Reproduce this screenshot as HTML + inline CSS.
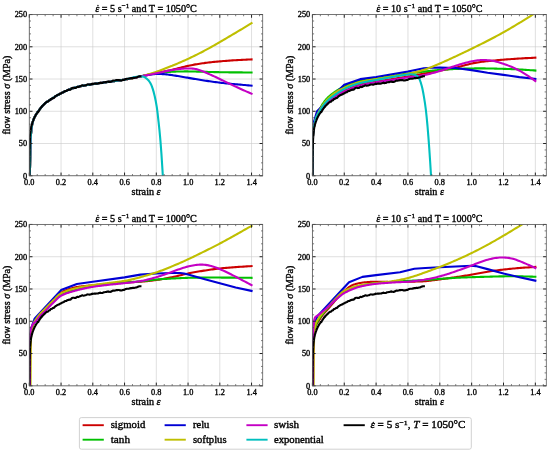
<!DOCTYPE html>
<html><head><meta charset="utf-8"><title>Activation function extrapolation</title>
<style>html,body{margin:0;padding:0;background:#fff}svg{display:block}</style></head>
<body>
<svg width="550" height="453" viewBox="0 0 550 453">
<defs>
<clipPath id="cp1"><rect x="29.3" y="14.55" width="233.4" height="161.2"/></clipPath>
<clipPath id="cp2"><rect x="312.4" y="14.55" width="233.9" height="161.2"/></clipPath>
<clipPath id="cp3"><rect x="29.3" y="224.45" width="233.4" height="161.4"/></clipPath>
<clipPath id="cp4"><rect x="312.4" y="224.45" width="233.9" height="161.4"/></clipPath>
</defs>
<rect width="550" height="453" fill="#fff"/>
<g stroke="#cacaca" stroke-width="0.6" fill="none"><line x1="29.30" y1="14.55" x2="29.30" y2="175.75"/><line x1="61.05" y1="14.55" x2="61.05" y2="175.75"/><line x1="92.80" y1="14.55" x2="92.80" y2="175.75"/><line x1="124.55" y1="14.55" x2="124.55" y2="175.75"/><line x1="156.30" y1="14.55" x2="156.30" y2="175.75"/><line x1="188.05" y1="14.55" x2="188.05" y2="175.75"/><line x1="219.80" y1="14.55" x2="219.80" y2="175.75"/><line x1="251.55" y1="14.55" x2="251.55" y2="175.75"/><line x1="29.3" y1="175.75" x2="262.75" y2="175.75"/><line x1="29.3" y1="143.51" x2="262.75" y2="143.51"/><line x1="29.3" y1="111.27" x2="262.75" y2="111.27"/><line x1="29.3" y1="79.03" x2="262.75" y2="79.03"/><line x1="29.3" y1="46.79" x2="262.75" y2="46.79"/><line x1="29.3" y1="14.55" x2="262.75" y2="14.55"/></g>
<g clip-path="url(#cp1)" fill="none" stroke-width="2.1" stroke-linejoin="round" stroke-linecap="square"><path d="M29.3,175.75 L29.3,175.75 L29.3,175.75 L29.31,175.75 L29.32,175.74 L29.33,175.73 L29.34,175.72 L29.36,175.68 L29.38,175.63 L29.4,175.55 L29.43,175.44 L29.46,175.28 L29.49,175.07 L29.52,174.8 L29.56,174.45 L29.61,174.02 L29.65,173.49 L29.7,172.86 L29.76,172.11 L29.82,171.25 L29.88,170.26 L29.94,169.3 L29.94,169.12 L30.01,167.19 L30.09,164.24 L30.16,160.59 L30.25,156.71 L30.25,156.41 L30.33,152.25 L30.42,146.91 L30.51,142.11 L30.57,140.29 L30.61,139.4 L30.71,137.54 L30.82,136 L30.93,134.69 L31.04,133.52 L31.16,132.36 L31.21,131.9 L31.28,131.1 L31.41,129.85 L31.54,128.65 L31.68,127.54 L31.82,126.57 L31.84,126.42 L31.96,125.72 L32.11,124.92 L32.26,124.14 L32.42,123.41 L32.58,122.71 L32.75,122.05 L32.92,121.43 L33.09,120.84 L33.27,120.3 L33.27,120.29 L33.46,119.76 L33.65,119.26 L33.84,118.77 L34.04,118.31 L34.24,117.87 L34.45,117.44 L34.66,117.02 L34.88,116.61 L35.1,116.2 L35.32,115.8 L35.33,115.78 L35.56,115.39 L35.79,114.98 L36.03,114.58 L36.28,114.18 L36.53,113.77 L36.78,113.38 L37.04,112.98 L37.31,112.58 L37.57,112.19 L37.85,111.8 L38.13,111.41 L38.41,111.02 L38.7,110.63 L38.99,110.24 L39.29,109.85 L39.6,109.46 L39.9,109.07 L40.22,108.68 L40.54,108.28 L40.73,108.05 L40.86,107.89 L41.19,107.48 L41.52,107.08 L41.86,106.67 L42.2,106.26 L42.55,105.86 L42.91,105.46 L43.27,105.06 L43.63,104.67 L44,104.3 L44.37,103.93 L44.75,103.58 L45.14,103.24 L45.17,103.21 L45.53,102.92 L45.92,102.62 L46.32,102.32 L46.73,102.04 L47.14,101.76 L47.55,101.49 L47.98,101.22 L48.4,100.95 L48.83,100.68 L49.27,100.41 L49.71,100.13 L49.94,99.99 L50.16,99.84 L50.61,99.55 L51.07,99.25 L51.53,98.94 L52,98.64 L52.47,98.33 L52.95,98.02 L53.44,97.7 L53.93,97.39 L54.42,97.07 L54.92,96.75 L55.43,96.44 L55.94,96.12 L56.46,95.8 L56.98,95.49 L57.51,95.18 L58.04,94.88 L58.58,94.57 L59.12,94.28 L59.3,94.18 L59.67,93.99 L60.23,93.7 L60.79,93.41 L61.35,93.12 L61.93,92.83 L62.5,92.54 L63.09,92.25 L63.67,91.97 L64.27,91.69 L64.87,91.41 L65.47,91.13 L66.08,90.86 L66.7,90.59 L67.32,90.33 L67.95,90.07 L68.58,89.81 L69.22,89.56 L69.78,89.35 L69.86,89.32 L70.51,89.08 L71.16,88.84 L71.83,88.6 L72.49,88.37 L73.16,88.14 L73.84,87.91 L74.52,87.69 L75.21,87.48 L75.91,87.28 L76.61,87.09 L77.31,86.9 L77.88,86.77 L78.03,86.73 L78.74,86.57 L79.47,86.41 L80.2,86.26 L80.93,86.1 L81.67,85.96 L82.42,85.82 L83.17,85.68 L83.93,85.54 L84.69,85.41 L85.46,85.28 L86.24,85.15 L87.02,85.02 L87.8,84.9 L88.6,84.77 L89.39,84.65 L90.2,84.52 L91.01,84.4 L91.82,84.27 L92.32,84.19 L92.65,84.14 L93.47,84.01 L94.31,83.88 L95.15,83.76 L95.99,83.63 L96.84,83.51 L97.7,83.38 L98.56,83.26 L99.43,83.14 L100.31,83.02 L101.19,82.9 L102.07,82.78 L102.96,82.66 L103.86,82.53 L104.77,82.41 L105.68,82.28 L106.59,82.16 L107.52,82.03 L108.2,81.93 L108.44,81.9 L109.38,81.77 L110.32,81.64 L111.26,81.51 L112.22,81.39 L113.17,81.26 L114.14,81.13 L115.11,81 L116.08,80.87 L117.07,80.74 L118.05,80.6 L119.05,80.47 L120.05,80.32 L121.06,80.17 L122.07,80.02 L123.09,79.86 L124.11,79.69 L124.23,79.67 L125.14,79.52 L126.18,79.34 L127.22,79.16 L128.27,78.96 L129.32,78.76 L130.39,78.56 L131.45,78.35 L132.53,78.14 L133.6,77.91 L134.69,77.69 L135.78,77.46 L136.88,77.22 L137.98,76.99 L139.09,76.74 L140.21,76.5 L140.43,76.45 L141.33,76.25 L142.46,76 L143.6,75.74 L144.74,75.49 L145.88,75.23 L147.04,74.97 L148.2,74.71 L149.36,74.45 L150.53,74.2 L151.71,73.94 L152.9,73.68 L154.09,73.43 L155.28,73.18 L156.3,72.97 L156.49,72.93 L157.7,72.69 L158.91,72.45 L160.13,72.21 L161.36,71.97 L162.59,71.73 L163.83,71.48 L165.08,71.24 L166.33,70.99 L167.59,70.73 L168.86,70.47 L170.13,70.2 L171.41,69.92 L172.18,69.74 L172.69,69.63 L173.98,69.32 L175.28,69.01 L176.59,68.69 L177.89,68.36 L179.21,68.03 L180.53,67.69 L181.86,67.36 L183.2,67.03 L184.54,66.7 L185.89,66.37 L187.24,66.06 L188.05,65.88 L188.6,65.75 L189.97,65.46 L191.34,65.18 L192.72,64.91 L194.11,64.65 L195.5,64.4 L196.9,64.16 L198.3,63.93 L199.71,63.71 L201.13,63.5 L202.56,63.29 L203.93,63.1 L203.99,63.09 L205.42,62.9 L206.87,62.72 L208.32,62.54 L209.77,62.37 L211.24,62.21 L212.71,62.05 L214.18,61.9 L215.67,61.75 L217.15,61.6 L218.65,61.47 L219.8,61.36 L220.15,61.33 L221.66,61.2 L223.17,61.07 L224.69,60.95 L226.22,60.83 L227.76,60.72 L229.3,60.61 L230.84,60.5 L232.4,60.4 L233.96,60.3 L235.52,60.21 L235.68,60.2 L237.1,60.12 L238.68,60.03 L240.26,59.95 L241.86,59.87 L243.46,59.79 L245.06,59.72 L246.67,59.64 L248.29,59.57 L249.92,59.5 L251.55,59.43" stroke="#cc0000"/><path d="M29.3,175.75 L29.3,175.75 L29.3,175.75 L29.31,175.75 L29.32,175.74 L29.33,175.73 L29.34,175.72 L29.36,175.68 L29.38,175.63 L29.4,175.55 L29.43,175.44 L29.46,175.28 L29.49,175.07 L29.52,174.8 L29.56,174.45 L29.61,174.02 L29.65,173.49 L29.7,172.86 L29.76,172.11 L29.82,171.25 L29.88,170.26 L29.94,169.3 L29.94,169.12 L30.01,167.19 L30.09,164.24 L30.16,160.59 L30.25,156.71 L30.25,156.41 L30.33,152.25 L30.42,146.91 L30.51,142.11 L30.57,140.29 L30.61,139.4 L30.71,137.54 L30.82,136 L30.93,134.69 L31.04,133.52 L31.16,132.36 L31.21,131.9 L31.28,131.1 L31.41,129.85 L31.54,128.65 L31.68,127.54 L31.82,126.57 L31.84,126.42 L31.96,125.72 L32.11,124.92 L32.26,124.14 L32.42,123.41 L32.58,122.71 L32.75,122.05 L32.92,121.43 L33.09,120.84 L33.27,120.3 L33.27,120.29 L33.46,119.76 L33.65,119.26 L33.84,118.77 L34.04,118.31 L34.24,117.87 L34.45,117.44 L34.66,117.02 L34.88,116.61 L35.1,116.2 L35.32,115.8 L35.33,115.78 L35.56,115.39 L35.79,114.98 L36.03,114.58 L36.28,114.18 L36.53,113.77 L36.78,113.38 L37.04,112.98 L37.31,112.58 L37.57,112.19 L37.85,111.8 L38.13,111.41 L38.41,111.02 L38.7,110.63 L38.99,110.24 L39.29,109.85 L39.6,109.46 L39.9,109.07 L40.22,108.68 L40.54,108.28 L40.73,108.05 L40.86,107.89 L41.19,107.48 L41.52,107.08 L41.86,106.67 L42.2,106.26 L42.55,105.86 L42.91,105.46 L43.27,105.06 L43.63,104.67 L44,104.3 L44.37,103.93 L44.75,103.58 L45.14,103.24 L45.17,103.21 L45.53,102.92 L45.92,102.62 L46.32,102.32 L46.73,102.04 L47.14,101.76 L47.55,101.49 L47.98,101.22 L48.4,100.95 L48.83,100.68 L49.27,100.41 L49.71,100.13 L49.94,99.99 L50.16,99.84 L50.61,99.55 L51.07,99.25 L51.53,98.94 L52,98.64 L52.47,98.33 L52.95,98.02 L53.44,97.7 L53.93,97.39 L54.42,97.07 L54.92,96.75 L55.43,96.44 L55.94,96.12 L56.46,95.8 L56.98,95.49 L57.51,95.18 L58.04,94.88 L58.58,94.57 L59.12,94.28 L59.3,94.18 L59.67,93.99 L60.23,93.7 L60.79,93.41 L61.35,93.12 L61.93,92.83 L62.5,92.54 L63.09,92.25 L63.67,91.97 L64.27,91.69 L64.87,91.41 L65.47,91.13 L66.08,90.86 L66.7,90.59 L67.32,90.33 L67.95,90.07 L68.58,89.81 L69.22,89.56 L69.78,89.35 L69.86,89.32 L70.51,89.08 L71.16,88.84 L71.83,88.6 L72.49,88.37 L73.16,88.14 L73.84,87.91 L74.52,87.69 L75.21,87.48 L75.91,87.28 L76.61,87.09 L77.31,86.9 L77.88,86.77 L78.03,86.73 L78.74,86.57 L79.47,86.41 L80.2,86.26 L80.93,86.1 L81.67,85.96 L82.42,85.82 L83.17,85.68 L83.93,85.54 L84.69,85.41 L85.46,85.28 L86.24,85.15 L87.02,85.02 L87.8,84.9 L88.6,84.77 L89.39,84.65 L90.2,84.52 L91.01,84.4 L91.82,84.27 L92.32,84.19 L92.65,84.14 L93.47,84.01 L94.31,83.88 L95.15,83.76 L95.99,83.63 L96.84,83.51 L97.7,83.38 L98.56,83.26 L99.43,83.14 L100.31,83.02 L101.19,82.9 L102.07,82.78 L102.96,82.66 L103.86,82.53 L104.77,82.41 L105.68,82.28 L106.59,82.16 L107.52,82.03 L108.2,81.93 L108.44,81.9 L109.38,81.77 L110.32,81.64 L111.26,81.51 L112.22,81.39 L113.17,81.26 L114.14,81.13 L115.11,81 L116.08,80.87 L117.07,80.74 L118.05,80.6 L119.05,80.47 L120.05,80.32 L121.06,80.17 L122.07,80.02 L123.09,79.86 L124.11,79.69 L124.23,79.67 L125.14,79.52 L126.18,79.34 L127.22,79.15 L128.27,78.96 L129.32,78.76 L130.39,78.56 L131.45,78.35 L132.53,78.14 L133.6,77.92 L134.69,77.69 L135.78,77.46 L136.88,77.23 L137.98,76.99 L139.09,76.74 L140.21,76.5 L140.43,76.45 L141.33,76.25 L142.46,76 L143.6,75.75 L144.74,75.49 L145.88,75.24 L147.04,74.99 L148.2,74.74 L149.36,74.5 L150.53,74.26 L151.71,74.03 L152.9,73.81 L154.09,73.59 L155.28,73.39 L156.3,73.23 L156.49,73.2 L157.7,73.02 L158.91,72.85 L160.13,72.7 L161.36,72.56 L162.59,72.43 L163.83,72.31 L165.08,72.2 L166.33,72.1 L167.59,72.01 L168.86,71.93 L170.13,71.85 L171.41,71.78 L172.18,71.74 L172.69,71.72 L173.98,71.66 L175.28,71.61 L176.59,71.56 L177.89,71.52 L179.21,71.49 L180.53,71.46 L181.86,71.44 L183.2,71.43 L184.54,71.42 L185.89,71.41 L187.24,71.42 L188.05,71.42 L188.6,71.43 L189.97,71.44 L191.34,71.46 L192.72,71.49 L194.11,71.52 L195.5,71.56 L196.9,71.6 L198.3,71.64 L199.71,71.68 L201.13,71.72 L202.56,71.77 L203.93,71.81 L203.99,71.81 L205.42,71.85 L206.87,71.89 L208.32,71.93 L209.77,71.97 L211.24,72.01 L212.71,72.05 L214.18,72.08 L215.67,72.11 L217.15,72.14 L218.65,72.17 L219.8,72.2 L220.15,72.2 L221.66,72.23 L223.17,72.25 L224.69,72.27 L226.22,72.29 L227.76,72.31 L229.3,72.33 L230.84,72.35 L232.4,72.36 L233.96,72.38 L235.52,72.39 L235.68,72.39 L237.1,72.4 L238.68,72.41 L240.26,72.42 L241.86,72.42 L243.46,72.43 L245.06,72.43 L246.67,72.44 L248.29,72.44 L249.92,72.45 L251.55,72.45" stroke="#00c000"/><path d="M29.3,175.75 L29.3,175.75 L29.3,175.75 L29.31,175.75 L29.32,175.74 L29.33,175.73 L29.34,175.72 L29.36,175.68 L29.38,175.63 L29.4,175.55 L29.43,175.44 L29.46,175.28 L29.49,175.07 L29.52,174.8 L29.56,174.45 L29.61,174.02 L29.65,173.49 L29.7,172.86 L29.76,172.11 L29.82,171.25 L29.88,170.26 L29.94,169.3 L29.94,169.12 L30.01,167.19 L30.09,164.24 L30.16,160.59 L30.25,156.71 L30.25,156.41 L30.33,152.25 L30.42,146.91 L30.51,142.11 L30.57,140.29 L30.61,139.4 L30.71,137.54 L30.82,136 L30.93,134.69 L31.04,133.52 L31.16,132.36 L31.21,131.9 L31.28,131.1 L31.41,129.85 L31.54,128.65 L31.68,127.54 L31.82,126.57 L31.84,126.42 L31.96,125.72 L32.11,124.92 L32.26,124.14 L32.42,123.41 L32.58,122.71 L32.75,122.05 L32.92,121.43 L33.09,120.84 L33.27,120.3 L33.27,120.29 L33.46,119.76 L33.65,119.26 L33.84,118.77 L34.04,118.31 L34.24,117.87 L34.45,117.44 L34.66,117.02 L34.88,116.61 L35.1,116.2 L35.32,115.8 L35.33,115.78 L35.56,115.39 L35.79,114.98 L36.03,114.58 L36.28,114.18 L36.53,113.77 L36.78,113.38 L37.04,112.98 L37.31,112.58 L37.57,112.19 L37.85,111.8 L38.13,111.41 L38.41,111.02 L38.7,110.63 L38.99,110.24 L39.29,109.85 L39.6,109.46 L39.9,109.07 L40.22,108.68 L40.54,108.28 L40.73,108.05 L40.86,107.89 L41.19,107.48 L41.52,107.08 L41.86,106.67 L42.2,106.26 L42.55,105.86 L42.91,105.46 L43.27,105.06 L43.63,104.67 L44,104.3 L44.37,103.93 L44.75,103.58 L45.14,103.24 L45.17,103.21 L45.53,102.92 L45.92,102.62 L46.32,102.32 L46.73,102.04 L47.14,101.76 L47.55,101.49 L47.98,101.22 L48.4,100.95 L48.83,100.68 L49.27,100.41 L49.71,100.13 L49.94,99.99 L50.16,99.84 L50.61,99.55 L51.07,99.25 L51.53,98.94 L52,98.64 L52.47,98.33 L52.95,98.02 L53.44,97.7 L53.93,97.39 L54.42,97.07 L54.92,96.75 L55.43,96.44 L55.94,96.12 L56.46,95.8 L56.98,95.49 L57.51,95.18 L58.04,94.88 L58.58,94.57 L59.12,94.28 L59.3,94.18 L59.67,93.99 L60.23,93.7 L60.79,93.41 L61.35,93.12 L61.93,92.83 L62.5,92.54 L63.09,92.25 L63.67,91.97 L64.27,91.69 L64.87,91.41 L65.47,91.13 L66.08,90.86 L66.7,90.59 L67.32,90.33 L67.95,90.07 L68.58,89.81 L69.22,89.56 L69.78,89.35 L69.86,89.32 L70.51,89.08 L71.16,88.84 L71.83,88.6 L72.49,88.37 L73.16,88.14 L73.84,87.91 L74.52,87.69 L75.21,87.48 L75.91,87.28 L76.61,87.09 L77.31,86.9 L77.88,86.77 L78.03,86.73 L78.74,86.57 L79.47,86.41 L80.2,86.26 L80.93,86.1 L81.67,85.96 L82.42,85.82 L83.17,85.68 L83.93,85.54 L84.69,85.41 L85.46,85.28 L86.24,85.15 L87.02,85.02 L87.8,84.9 L88.6,84.77 L89.39,84.65 L90.2,84.52 L91.01,84.4 L91.82,84.27 L92.32,84.19 L92.65,84.14 L93.47,84.01 L94.31,83.88 L95.15,83.76 L95.99,83.63 L96.84,83.51 L97.7,83.38 L98.56,83.26 L99.43,83.14 L100.31,83.02 L101.19,82.9 L102.07,82.78 L102.96,82.66 L103.86,82.53 L104.77,82.41 L105.68,82.28 L106.59,82.16 L107.52,82.03 L108.2,81.93 L108.44,81.9 L109.38,81.77 L110.32,81.64 L111.26,81.51 L112.22,81.39 L113.17,81.26 L114.14,81.13 L115.11,81 L116.08,80.88 L117.07,80.74 L118.05,80.61 L119.05,80.47 L120.05,80.33 L121.06,80.18 L122.07,80.02 L123.09,79.86 L124.11,79.7 L124.23,79.67 L125.14,79.52 L126.18,79.34 L127.22,79.14 L128.27,78.95 L129.32,78.74 L130.39,78.54 L131.45,78.33 L132.53,78.11 L133.6,77.89 L134.69,77.66 L135.78,77.43 L136.88,77.2 L137.98,76.97 L139.09,76.73 L140.21,76.5 L140.43,76.45 L141.33,76.26 L142.46,76.02 L143.6,75.79 L144.74,75.56 L145.88,75.34 L147.04,75.13 L148.2,74.92 L149.36,74.73 L150.53,74.56 L151.71,74.4 L152.9,74.26 L154.09,74.15 L155.28,74.06 L156.3,74 L156.49,73.99 L157.7,73.96 L158.91,73.95 L160.13,73.97 L161.36,74.01 L162.59,74.08 L163.83,74.17 L165.08,74.27 L166.33,74.4 L167.59,74.54 L168.86,74.7 L170.13,74.87 L171.41,75.05 L172.18,75.16 L172.69,75.24 L173.98,75.43 L175.28,75.64 L176.59,75.84 L177.89,76.06 L179.21,76.28 L180.53,76.5 L181.86,76.73 L183.2,76.96 L184.54,77.19 L185.89,77.43 L187.24,77.66 L188.05,77.8 L188.6,77.9 L189.97,78.14 L191.34,78.37 L192.72,78.61 L194.11,78.85 L195.5,79.08 L196.9,79.32 L198.3,79.55 L199.71,79.78 L201.13,80.01 L202.56,80.23 L203.93,80.45 L203.99,80.46 L205.42,80.68 L206.87,80.9 L208.32,81.11 L209.77,81.32 L211.24,81.53 L212.71,81.73 L214.18,81.93 L215.67,82.13 L217.15,82.32 L218.65,82.5 L219.8,82.64 L220.15,82.68 L221.66,82.86 L223.17,83.03 L224.69,83.19 L226.22,83.35 L227.76,83.51 L229.3,83.66 L230.84,83.81 L232.4,83.95 L233.96,84.1 L235.52,84.24 L235.68,84.25 L237.1,84.38 L238.68,84.52 L240.26,84.66 L241.86,84.79 L243.46,84.93 L245.06,85.07 L246.67,85.2 L248.29,85.34 L249.92,85.47 L251.55,85.61" stroke="#0000d4"/><path d="M29.3,175.75 L29.3,175.75 L29.3,175.75 L29.31,175.75 L29.32,175.74 L29.33,175.73 L29.34,175.72 L29.36,175.68 L29.38,175.63 L29.4,175.55 L29.43,175.44 L29.46,175.28 L29.49,175.07 L29.52,174.8 L29.56,174.45 L29.61,174.02 L29.65,173.49 L29.7,172.86 L29.76,172.11 L29.82,171.25 L29.88,170.26 L29.94,169.3 L29.94,169.12 L30.01,167.19 L30.09,164.24 L30.16,160.59 L30.25,156.71 L30.25,156.41 L30.33,152.25 L30.42,146.91 L30.51,142.11 L30.57,140.29 L30.61,139.4 L30.71,137.54 L30.82,136 L30.93,134.69 L31.04,133.52 L31.16,132.36 L31.21,131.9 L31.28,131.1 L31.41,129.85 L31.54,128.65 L31.68,127.54 L31.82,126.57 L31.84,126.42 L31.96,125.72 L32.11,124.92 L32.26,124.14 L32.42,123.41 L32.58,122.71 L32.75,122.05 L32.92,121.43 L33.09,120.84 L33.27,120.3 L33.27,120.29 L33.46,119.76 L33.65,119.26 L33.84,118.77 L34.04,118.31 L34.24,117.87 L34.45,117.44 L34.66,117.02 L34.88,116.61 L35.1,116.2 L35.32,115.8 L35.33,115.78 L35.56,115.39 L35.79,114.98 L36.03,114.58 L36.28,114.18 L36.53,113.77 L36.78,113.38 L37.04,112.98 L37.31,112.58 L37.57,112.19 L37.85,111.8 L38.13,111.41 L38.41,111.02 L38.7,110.63 L38.99,110.24 L39.29,109.85 L39.6,109.46 L39.9,109.07 L40.22,108.68 L40.54,108.28 L40.73,108.05 L40.86,107.89 L41.19,107.48 L41.52,107.08 L41.86,106.67 L42.2,106.26 L42.55,105.86 L42.91,105.46 L43.27,105.06 L43.63,104.67 L44,104.3 L44.37,103.93 L44.75,103.58 L45.14,103.24 L45.17,103.21 L45.53,102.92 L45.92,102.62 L46.32,102.32 L46.73,102.04 L47.14,101.76 L47.55,101.49 L47.98,101.22 L48.4,100.95 L48.83,100.68 L49.27,100.41 L49.71,100.13 L49.94,99.99 L50.16,99.84 L50.61,99.55 L51.07,99.25 L51.53,98.94 L52,98.64 L52.47,98.33 L52.95,98.02 L53.44,97.7 L53.93,97.39 L54.42,97.07 L54.92,96.75 L55.43,96.44 L55.94,96.12 L56.46,95.8 L56.98,95.49 L57.51,95.18 L58.04,94.88 L58.58,94.57 L59.12,94.28 L59.3,94.18 L59.67,93.99 L60.23,93.7 L60.79,93.41 L61.35,93.12 L61.93,92.83 L62.5,92.54 L63.09,92.25 L63.67,91.97 L64.27,91.69 L64.87,91.41 L65.47,91.13 L66.08,90.86 L66.7,90.59 L67.32,90.33 L67.95,90.07 L68.58,89.81 L69.22,89.56 L69.78,89.35 L69.86,89.32 L70.51,89.08 L71.16,88.84 L71.83,88.6 L72.49,88.37 L73.16,88.14 L73.84,87.91 L74.52,87.69 L75.21,87.48 L75.91,87.28 L76.61,87.09 L77.31,86.9 L77.88,86.77 L78.03,86.73 L78.74,86.57 L79.47,86.41 L80.2,86.26 L80.93,86.1 L81.67,85.96 L82.42,85.82 L83.17,85.68 L83.93,85.54 L84.69,85.41 L85.46,85.28 L86.24,85.15 L87.02,85.02 L87.8,84.9 L88.6,84.77 L89.39,84.65 L90.2,84.52 L91.01,84.4 L91.82,84.27 L92.32,84.19 L92.65,84.14 L93.47,84.01 L94.31,83.88 L95.15,83.76 L95.99,83.63 L96.84,83.51 L97.7,83.38 L98.56,83.26 L99.43,83.14 L100.31,83.02 L101.19,82.9 L102.07,82.78 L102.96,82.66 L103.86,82.53 L104.77,82.41 L105.68,82.28 L106.59,82.16 L107.52,82.03 L108.2,81.93 L108.44,81.9 L109.38,81.77 L110.32,81.64 L111.26,81.51 L112.22,81.38 L113.17,81.26 L114.14,81.13 L115.11,81 L116.08,80.87 L117.07,80.73 L118.05,80.6 L119.05,80.46 L120.05,80.32 L121.06,80.17 L122.07,80.01 L123.09,79.86 L124.11,79.69 L124.23,79.67 L125.14,79.53 L126.18,79.35 L127.22,79.17 L128.27,78.99 L129.32,78.8 L130.39,78.6 L131.45,78.4 L132.53,78.19 L133.6,77.98 L134.69,77.75 L135.78,77.52 L136.88,77.28 L137.98,77.03 L139.09,76.77 L140.21,76.5 L140.43,76.45 L141.33,76.23 L142.46,75.94 L143.6,75.65 L144.74,75.34 L145.88,75.03 L147.04,74.71 L148.2,74.37 L149.36,74.03 L150.53,73.68 L151.71,73.31 L152.9,72.94 L154.09,72.55 L155.28,72.15 L156.3,71.81 L156.49,71.74 L157.7,71.33 L158.91,70.89 L160.13,70.45 L161.36,70 L162.59,69.54 L163.83,69.07 L165.08,68.59 L166.33,68.1 L167.59,67.6 L168.86,67.1 L170.13,66.58 L171.41,66.06 L172.18,65.75 L172.69,65.53 L173.98,65 L175.28,64.46 L176.59,63.91 L177.89,63.35 L179.21,62.79 L180.53,62.22 L181.86,61.63 L183.2,61.04 L184.54,60.45 L185.89,59.84 L187.24,59.22 L188.05,58.85 L188.6,58.59 L189.97,57.95 L191.34,57.31 L192.72,56.65 L194.11,55.98 L195.5,55.29 L196.9,54.6 L198.3,53.89 L199.71,53.18 L201.13,52.45 L202.56,51.7 L203.93,50.98 L203.99,50.95 L205.42,50.18 L206.87,49.4 L208.32,48.6 L209.77,47.8 L211.24,46.98 L212.71,46.15 L214.18,45.31 L215.67,44.47 L217.15,43.61 L218.65,42.75 L219.8,42.08 L220.15,41.88 L221.66,41 L223.17,40.12 L224.69,39.23 L226.22,38.33 L227.76,37.43 L229.3,36.52 L230.84,35.61 L232.4,34.68 L233.96,33.76 L235.52,32.82 L235.68,32.73 L237.1,31.88 L238.68,30.94 L240.26,29.99 L241.86,29.03 L243.46,28.07 L245.06,27.1 L246.67,26.13 L248.29,25.16 L249.92,24.17 L251.55,23.19" stroke="#bfbf00"/><path d="M29.3,175.75 L29.3,175.75 L29.3,175.75 L29.31,175.75 L29.32,175.74 L29.33,175.73 L29.34,175.72 L29.36,175.68 L29.38,175.63 L29.4,175.55 L29.43,175.44 L29.46,175.28 L29.49,175.07 L29.52,174.8 L29.56,174.45 L29.61,174.02 L29.65,173.49 L29.7,172.86 L29.76,172.11 L29.82,171.25 L29.88,170.26 L29.94,169.3 L29.94,169.12 L30.01,167.19 L30.09,164.24 L30.16,160.59 L30.25,156.71 L30.25,156.41 L30.33,152.25 L30.42,146.91 L30.51,142.11 L30.57,140.29 L30.61,139.4 L30.71,137.54 L30.82,136 L30.93,134.69 L31.04,133.52 L31.16,132.36 L31.21,131.9 L31.28,131.1 L31.41,129.85 L31.54,128.65 L31.68,127.54 L31.82,126.57 L31.84,126.42 L31.96,125.72 L32.11,124.92 L32.26,124.14 L32.42,123.41 L32.58,122.71 L32.75,122.05 L32.92,121.43 L33.09,120.84 L33.27,120.3 L33.27,120.29 L33.46,119.76 L33.65,119.26 L33.84,118.77 L34.04,118.31 L34.24,117.87 L34.45,117.44 L34.66,117.02 L34.88,116.61 L35.1,116.2 L35.32,115.8 L35.33,115.78 L35.56,115.39 L35.79,114.98 L36.03,114.58 L36.28,114.18 L36.53,113.77 L36.78,113.38 L37.04,112.98 L37.31,112.58 L37.57,112.19 L37.85,111.8 L38.13,111.41 L38.41,111.02 L38.7,110.63 L38.99,110.24 L39.29,109.85 L39.6,109.46 L39.9,109.07 L40.22,108.68 L40.54,108.28 L40.73,108.05 L40.86,107.89 L41.19,107.48 L41.52,107.08 L41.86,106.67 L42.2,106.26 L42.55,105.86 L42.91,105.46 L43.27,105.06 L43.63,104.67 L44,104.3 L44.37,103.93 L44.75,103.58 L45.14,103.24 L45.17,103.21 L45.53,102.92 L45.92,102.62 L46.32,102.32 L46.73,102.04 L47.14,101.76 L47.55,101.49 L47.98,101.22 L48.4,100.95 L48.83,100.68 L49.27,100.41 L49.71,100.13 L49.94,99.99 L50.16,99.84 L50.61,99.55 L51.07,99.25 L51.53,98.94 L52,98.64 L52.47,98.33 L52.95,98.02 L53.44,97.7 L53.93,97.39 L54.42,97.07 L54.92,96.75 L55.43,96.44 L55.94,96.12 L56.46,95.8 L56.98,95.49 L57.51,95.18 L58.04,94.88 L58.58,94.57 L59.12,94.28 L59.3,94.18 L59.67,93.99 L60.23,93.7 L60.79,93.41 L61.35,93.12 L61.93,92.83 L62.5,92.54 L63.09,92.25 L63.67,91.97 L64.27,91.69 L64.87,91.41 L65.47,91.13 L66.08,90.86 L66.7,90.59 L67.32,90.33 L67.95,90.07 L68.58,89.81 L69.22,89.56 L69.78,89.35 L69.86,89.32 L70.51,89.08 L71.16,88.84 L71.83,88.6 L72.49,88.37 L73.16,88.14 L73.84,87.91 L74.52,87.69 L75.21,87.48 L75.91,87.28 L76.61,87.09 L77.31,86.9 L77.88,86.77 L78.03,86.73 L78.74,86.57 L79.47,86.41 L80.2,86.26 L80.93,86.1 L81.67,85.96 L82.42,85.82 L83.17,85.68 L83.93,85.54 L84.69,85.41 L85.46,85.28 L86.24,85.15 L87.02,85.02 L87.8,84.9 L88.6,84.77 L89.39,84.65 L90.2,84.52 L91.01,84.4 L91.82,84.27 L92.32,84.19 L92.65,84.14 L93.47,84.01 L94.31,83.88 L95.15,83.76 L95.99,83.63 L96.84,83.51 L97.7,83.38 L98.56,83.26 L99.43,83.14 L100.31,83.02 L101.19,82.9 L102.07,82.78 L102.96,82.66 L103.86,82.53 L104.77,82.41 L105.68,82.28 L106.59,82.16 L107.52,82.03 L108.2,81.93 L108.44,81.9 L109.38,81.77 L110.32,81.64 L111.26,81.51 L112.22,81.39 L113.17,81.26 L114.14,81.13 L115.11,81.01 L116.08,80.88 L117.07,80.75 L118.05,80.61 L119.05,80.47 L120.05,80.33 L121.06,80.18 L122.07,80.02 L123.09,79.86 L124.11,79.7 L124.23,79.67 L125.14,79.52 L126.18,79.33 L127.22,79.14 L128.27,78.94 L129.32,78.73 L130.39,78.52 L131.45,78.31 L132.53,78.09 L133.6,77.87 L134.69,77.64 L135.78,77.41 L136.88,77.18 L137.98,76.95 L139.09,76.72 L140.21,76.49 L140.43,76.45 L141.33,76.27 L142.46,76.04 L143.6,75.82 L144.74,75.59 L145.88,75.37 L147.04,75.14 L148.2,74.92 L149.36,74.69 L150.53,74.46 L151.71,74.23 L152.9,73.99 L154.09,73.75 L155.28,73.5 L156.3,73.29 L156.49,73.25 L157.7,72.99 L158.91,72.73 L160.13,72.47 L161.36,72.2 L162.59,71.93 L163.83,71.66 L165.08,71.39 L166.33,71.13 L167.59,70.87 L168.86,70.62 L170.13,70.37 L171.41,70.14 L172.18,70 L172.69,69.91 L173.98,69.7 L175.28,69.51 L176.59,69.32 L177.89,69.15 L179.21,69 L180.53,68.86 L181.86,68.75 L183.2,68.65 L184.54,68.57 L185.89,68.51 L187.24,68.47 L188.05,68.46 L188.6,68.45 L189.97,68.46 L191.34,68.51 L192.72,68.61 L194.11,68.77 L195.5,69 L195.99,69.1 L196.9,69.31 L198.3,69.71 L199.71,70.17 L201.13,70.69 L202.56,71.25 L203.93,71.81 L203.99,71.83 L205.42,72.44 L206.87,73.06 L208.32,73.7 L209.77,74.35 L211.24,75.01 L212.71,75.68 L214.18,76.37 L215.67,77.06 L217.15,77.77 L218.65,78.48 L219.8,79.03 L220.15,79.2 L221.66,79.93 L223.17,80.66 L224.69,81.39 L226.22,82.13 L227.76,82.87 L229.3,83.62 L230.84,84.36 L232.4,85.1 L233.96,85.84 L235.52,86.57 L235.68,86.64 L237.1,87.3 L238.68,88.02 L240.26,88.74 L241.86,89.46 L243.46,90.17 L245.06,90.88 L246.67,91.59 L248.29,92.3 L249.92,93.02 L251.55,93.73" stroke="#c400c4"/><path d="M29.3,175.75 L29.3,175.75 L29.3,175.75 L29.31,175.75 L29.31,175.75 L29.32,175.74 L29.32,175.74 L29.33,175.73 L29.35,175.71 L29.36,175.68 L29.38,175.63 L29.39,175.58 L29.41,175.5 L29.44,175.39 L29.46,175.26 L29.49,175.09 L29.51,174.88 L29.54,174.63 L29.58,174.32 L29.61,173.97 L29.65,173.55 L29.69,173.06 L29.73,172.51 L29.78,171.88 L29.82,171.17 L29.87,170.39 L29.92,169.52 L29.94,169.3 L29.98,168.37 L30.03,166.52 L30.09,164.06 L30.15,161.17 L30.22,158.08 L30.25,156.41 L30.28,154.94 L30.35,151.04 L30.42,146.76 L30.5,142.84 L30.57,140.29 L30.57,140.21 L30.65,138.6 L30.73,137.2 L30.82,135.99 L30.91,134.94 L31,133.99 L31.09,133.08 L31.18,132.14 L31.21,131.9 L31.28,131.13 L31.38,130.13 L31.48,129.16 L31.59,128.24 L31.7,127.38 L31.81,126.61 L31.84,126.42 L31.92,125.93 L32.04,125.28 L32.16,124.65 L32.28,124.04 L32.41,123.46 L32.54,122.9 L32.67,122.36 L32.8,121.85 L32.94,121.36 L33.08,120.89 L33.22,120.45 L33.27,120.3 L33.36,120.02 L33.51,119.61 L33.66,119.22 L33.82,118.83 L33.97,118.46 L34.13,118.1 L34.29,117.75 L34.46,117.41 L34.63,117.08 L34.8,116.75 L34.97,116.43 L35.15,116.11 L35.33,115.79 L35.33,115.78 L35.51,115.46 L35.7,115.14 L35.89,114.82 L36.08,114.49 L36.28,114.17 L36.48,113.85 L36.68,113.54 L36.88,113.22 L37.09,112.9 L37.3,112.59 L37.51,112.28 L37.73,111.97 L37.95,111.65 L38.17,111.34 L38.4,111.03 L38.63,110.73 L38.86,110.42 L39.09,110.11 L39.33,109.8 L39.57,109.49 L39.82,109.18 L40.07,108.87 L40.32,108.56 L40.57,108.24 L40.73,108.05 L40.83,107.92 L41.09,107.6 L41.35,107.28 L41.62,106.96 L41.89,106.64 L42.16,106.31 L42.44,105.99 L42.72,105.67 L43,105.35 L43.29,105.04 L43.58,104.73 L43.87,104.43 L44.16,104.13 L44.46,103.84 L44.77,103.57 L45.07,103.3 L45.17,103.21 L45.38,103.04 L45.69,102.79 L46.01,102.55 L46.33,102.32 L46.65,102.09 L46.97,101.87 L47.3,101.65 L47.63,101.44 L47.97,101.23 L48.31,101.01 L48.65,100.8 L48.99,100.59 L49.34,100.37 L49.69,100.14 L49.94,99.99 L50.05,99.91 L50.41,99.68 L50.77,99.45 L51.13,99.21 L51.5,98.97 L51.87,98.72 L52.25,98.48 L52.63,98.23 L53.01,97.98 L53.39,97.73 L53.78,97.48 L54.17,97.23 L54.57,96.98 L54.97,96.73 L55.37,96.47 L55.77,96.22 L56.18,95.97 L56.6,95.72 L57.01,95.47 L57.43,95.23 L57.85,94.98 L58.28,94.74 L58.71,94.5 L59.14,94.27 L59.3,94.18 L59.58,94.04 L60.02,93.81 L60.46,93.57 L60.91,93.34 L61.36,93.11 L61.81,92.88 L62.27,92.66 L62.73,92.43 L63.2,92.2 L63.66,91.97 L64.14,91.75 L64.61,91.53 L65.09,91.31 L65.57,91.09 L66.06,90.87 L66.55,90.66 L67.04,90.45 L67.53,90.24 L68.03,90.03 L68.54,89.83 L69.04,89.63 L69.55,89.43 L69.78,89.35 L70.07,89.24 L70.58,89.05 L71.1,88.86 L71.63,88.67 L72.16,88.48 L72.69,88.3 L73.22,88.12 L73.76,87.94 L74.3,87.76 L74.85,87.59 L75.4,87.43 L75.95,87.27 L76.51,87.11 L77.07,86.97 L77.63,86.83 L77.88,86.77 L78.2,86.69 L78.77,86.56 L79.35,86.44 L79.92,86.31 L80.51,86.19 L81.09,86.07 L81.68,85.96 L82.27,85.84 L82.87,85.73 L83.47,85.62 L84.07,85.52 L84.68,85.41 L85.29,85.31 L85.91,85.2 L86.52,85.1 L87.15,85 L87.77,84.9 L88.4,84.8 L89.03,84.7 L89.67,84.6 L90.31,84.5 L90.96,84.4 L91.6,84.3 L92.26,84.2 L92.32,84.19 L92.91,84.1 L93.57,83.99 L94.23,83.89 L94.9,83.79 L95.57,83.69 L96.24,83.59 L96.92,83.5 L97.6,83.4 L98.29,83.3 L98.97,83.21 L99.67,83.11 L100.36,83.01 L101.06,82.92 L101.77,82.82 L102.47,82.72 L103.18,82.63 L103.9,82.53 L104.62,82.43 L105.34,82.33 L106.07,82.23 L106.8,82.13 L107.53,82.03 L108.2,81.93 L108.27,81.92 L109.01,81.82 L109.75,81.72 L110.5,81.61 L111.25,81.51 L112.01,81.41 L112.77,81.31 L113.53,81.21 L114.3,81.11 L115.07,81 L115.85,80.9 L116.63,80.79 L117.41,80.69 L118.2,80.58 L118.99,80.47 L119.78,80.36 L120.58,80.24 L121.38,80.12 L122.19,80 L123,79.87 L123.81,79.74 L124.23,79.67 L124.63,79.61 L125.45,79.45 L126.27,79.28 L127.1,79.09 L127.94,78.88 L128.77,78.67 L129.61,78.45 L130.46,78.22 L131.31,78 L132.16,77.77 L133.01,77.56 L133.87,77.35 L134.74,77.15 L135.6,76.97 L136.48,76.81 L137.35,76.68 L138.23,76.57 L139.11,76.49 L140,76.46 L140.43,76.45 L140.89,76.46 L141.78,76.5 L142.68,76.57 L142.81,76.58 L143.59,76.75 L144.49,77.16 L145.4,77.73 L146.32,78.42 L147.09,79.03 L147.23,79.15 L148.16,80.02 L149.08,81.14 L150.01,82.49 L150.27,82.9 L150.95,84.19 L151.88,86.47 L152.83,89.17 L152.97,89.6 L153.77,92.4 L154.72,96.34 L155.03,97.73 L155.67,100.8 L156.63,106.1 L156.94,108.05 L157.59,113.15 L158.52,121.59 L158.56,121.91 L159.53,130.98 L160.11,137.06 L160.5,141.6 L161.38,153.18 L161.48,154.56 L162.46,169.66 L162.81,175.75 L163.44,188.65" stroke="#00bfbf"/><path d="M29.46,175.75 L29.46,175.67 L29.46,175.39 L29.46,174.86 L29.47,174.08 L29.48,173.02 L29.49,171.69 L29.5,170.08 L29.51,168.21 L29.53,166.1 L29.55,163.81 L29.57,161.41 L29.59,159.02 L29.61,156.8 L29.62,156.41 L29.64,154.77 L29.67,152.69 L29.7,150.58 L29.74,148.47 L29.77,146.41 L29.81,144.47 L29.86,142.7 L29.9,141.19 L29.94,140.29 L29.95,140 L30,138.96 L30.05,137.97 L30.11,137.03 L30.16,136.16 L30.23,135.34 L30.29,134.58 L30.36,133.87 L30.43,133.19 L30.5,132.54 L30.57,131.9 L30.57,131.87 L30.65,131.21 L30.73,130.56 L30.82,129.93 L30.9,129.33 L30.99,128.74 L31.09,128.19 L31.18,127.65 L31.28,127.15 L31.36,126.75 L31.38,126.66 L31.49,126.19 L31.59,125.72 L31.71,125.26 L31.82,124.81 L31.94,124.37 L32.06,123.93 L32.18,123.5 L32.31,123.08 L32.43,122.67 L32.57,122.26 L32.7,121.86 L32.84,121.46 L32.98,121.07 L33.13,120.67 L33.27,120.3 L33.28,120.27 L33.43,119.88 L33.58,119.48 L33.74,119.09 L33.9,118.71 L34.07,118.33 L34.24,117.95 L34.41,117.59 L34.58,117.22 L34.76,116.86 L34.94,116.51 L35.13,116.16 L35.31,115.82 L35.33,115.78 L35.5,115.48 L35.7,115.14 L35.9,114.81 L36.1,114.47 L36.3,114.13 L36.51,113.8 L36.72,113.47 L36.94,113.14 L37.15,112.81 L37.38,112.41 L37.6,111.96 L37.83,111.79 L38.06,112.07 L38.3,111.89 L38.53,111.52 L38.78,110.84 L39.02,110.51 L39.27,110.04 L39.53,109.73 L39.78,109.27 L40.04,108.9 L40.3,108.61 L40.57,108.31 L40.73,107.9 L40.84,107.5 L41.12,107.31 L41.39,107.31 L41.67,107.02 L41.96,106.3 L42.25,105.92 L42.54,105.75 L42.83,105.71 L43.13,105.3 L43.44,104.85 L43.74,104.49 L44.05,104.3 L44.37,104.11 L44.68,103.62 L45,103.41 L45.17,103.13 L45.33,102.99 L45.66,102.55 L45.99,102.49 L46.32,102.17 L46.66,102.11 L47.01,101.68 L47.35,101.77 L47.7,101.7 L48.06,101.51 L48.41,101.13 L48.78,100.65 L49.14,100.42 L49.51,100.33 L49.88,100.19 L49.94,100.22 L50.26,99.63 L50.64,99.14 L51.02,98.95 L51.41,98.9 L51.8,98.83 L52.2,98.57 L52.6,98.26 L53,98.01 L53.4,97.93 L53.81,97.93 L54.23,97.57 L54.65,97.03 L55.07,96.44 L55.49,96.3 L55.92,95.94 L56.36,95.8 L56.79,95.45 L57.23,95.17 L57.68,94.91 L58.13,94.76 L58.58,94.47 L59.04,94.48 L59.3,94.2 L59.5,94.25 L59.96,93.76 L60.43,93.64 L60.9,93.4 L61.38,93.24 L61.86,92.74 L62.34,92.61 L62.83,92.34 L63.32,92.29 L63.81,92.13 L64.31,91.5 L64.82,91.24 L65.32,91.03 L65.83,90.99 L66.35,90.92 L66.87,90.41 L67.39,90.27 L67.92,89.99 L68.45,89.9 L68.98,89.9 L69.52,89.61 L69.78,89.69 L70.06,89.69 L70.61,89.49 L71.16,88.89 L71.72,88.41 L72.28,87.93 L72.84,87.79 L73.4,87.77 L73.98,87.86 L74.55,88.09 L75.13,87.98 L75.71,87.94 L76.3,87.43 L76.89,87.03 L77.48,86.81 L77.88,86.84 L78.08,87.13 L78.69,86.92 L79.29,86.66 L79.9,86.23 L80.52,86.2 L81.14,85.81 L81.76,85.58 L82.39,85.36 L83.02,85.62 L83.66,85.73 L84.3,85.58 L84.94,85.4 L85.59,85.17 L86.24,84.96 L86.9,84.65 L87.56,84.44 L88.22,84.47 L88.89,84.51 L89.56,84.64 L90.24,84.6 L90.92,84.27 L91.6,84.17 L92.29,83.68 L92.32,84.01 L92.99,83.8 L93.68,83.83 L94.39,83.66 L95.09,83.54 L95.8,83.63 L96.52,83.6 L97.23,83.58 L97.96,83.54 L98.68,83.12 L99.41,83.02 L100.15,82.56 L100.89,83.11 L101.63,82.98 L102.38,83.05 L103.13,82.59 L103.89,82.32 L104.65,82.21 L105.41,82.1 L106.18,82.09 L106.95,81.66 L107.73,81.47 L108.2,81.43 L108.51,81.87 L109.3,81.78 L110.09,81.91 L110.88,81.77 L111.68,81.31 L112.48,80.85 L113.29,80.61 L114.1,80.71 L114.91,80.48 L115.73,80.38 L116.56,80.12 L117.38,80.13 L118.22,80.08 L119.05,80.02 L119.89,80.41 L120.74,80.4 L121.59,80.49 L122.44,80.14 L123.3,79.95 L124.16,79.94 L124.23,79.89 L125.03,79.33 L125.9,78.99 L126.78,78.75 L127.66,78.8 L128.54,78.77 L129.43,78.46 L130.32,78.44 L131.22,77.98 L132.12,78.15 L133.02,77.9 L133.93,77.94 L134.85,77.72 L135.77,77.48 L136.69,77.43 L137.62,76.81 L138.55,76.68 L139.48,76.24 L140.43,76.27" stroke="#000"/></g>
<g stroke="#444" stroke-width="0.7"><line stroke-width="1" stroke="#222" x1="29.30" y1="175.75" x2="29.30" y2="172.55"/><line stroke-width="1" stroke="#222" x1="29.30" y1="14.55" x2="29.30" y2="17.75"/><line x1="37.24" y1="175.75" x2="37.24" y2="174.05"/><line x1="37.24" y1="14.55" x2="37.24" y2="16.25"/><line x1="45.17" y1="175.75" x2="45.17" y2="174.05"/><line x1="45.17" y1="14.55" x2="45.17" y2="16.25"/><line x1="53.11" y1="175.75" x2="53.11" y2="174.05"/><line x1="53.11" y1="14.55" x2="53.11" y2="16.25"/><line stroke-width="1" stroke="#222" x1="61.05" y1="175.75" x2="61.05" y2="172.55"/><line stroke-width="1" stroke="#222" x1="61.05" y1="14.55" x2="61.05" y2="17.75"/><line x1="68.99" y1="175.75" x2="68.99" y2="174.05"/><line x1="68.99" y1="14.55" x2="68.99" y2="16.25"/><line x1="76.93" y1="175.75" x2="76.93" y2="174.05"/><line x1="76.93" y1="14.55" x2="76.93" y2="16.25"/><line x1="84.86" y1="175.75" x2="84.86" y2="174.05"/><line x1="84.86" y1="14.55" x2="84.86" y2="16.25"/><line stroke-width="1" stroke="#222" x1="92.80" y1="175.75" x2="92.80" y2="172.55"/><line stroke-width="1" stroke="#222" x1="92.80" y1="14.55" x2="92.80" y2="17.75"/><line x1="100.74" y1="175.75" x2="100.74" y2="174.05"/><line x1="100.74" y1="14.55" x2="100.74" y2="16.25"/><line x1="108.67" y1="175.75" x2="108.67" y2="174.05"/><line x1="108.67" y1="14.55" x2="108.67" y2="16.25"/><line x1="116.61" y1="175.75" x2="116.61" y2="174.05"/><line x1="116.61" y1="14.55" x2="116.61" y2="16.25"/><line stroke-width="1" stroke="#222" x1="124.55" y1="175.75" x2="124.55" y2="172.55"/><line stroke-width="1" stroke="#222" x1="124.55" y1="14.55" x2="124.55" y2="17.75"/><line x1="132.49" y1="175.75" x2="132.49" y2="174.05"/><line x1="132.49" y1="14.55" x2="132.49" y2="16.25"/><line x1="140.43" y1="175.75" x2="140.43" y2="174.05"/><line x1="140.43" y1="14.55" x2="140.43" y2="16.25"/><line x1="148.36" y1="175.75" x2="148.36" y2="174.05"/><line x1="148.36" y1="14.55" x2="148.36" y2="16.25"/><line stroke-width="1" stroke="#222" x1="156.30" y1="175.75" x2="156.30" y2="172.55"/><line stroke-width="1" stroke="#222" x1="156.30" y1="14.55" x2="156.30" y2="17.75"/><line x1="164.24" y1="175.75" x2="164.24" y2="174.05"/><line x1="164.24" y1="14.55" x2="164.24" y2="16.25"/><line x1="172.18" y1="175.75" x2="172.18" y2="174.05"/><line x1="172.18" y1="14.55" x2="172.18" y2="16.25"/><line x1="180.11" y1="175.75" x2="180.11" y2="174.05"/><line x1="180.11" y1="14.55" x2="180.11" y2="16.25"/><line stroke-width="1" stroke="#222" x1="188.05" y1="175.75" x2="188.05" y2="172.55"/><line stroke-width="1" stroke="#222" x1="188.05" y1="14.55" x2="188.05" y2="17.75"/><line x1="195.99" y1="175.75" x2="195.99" y2="174.05"/><line x1="195.99" y1="14.55" x2="195.99" y2="16.25"/><line x1="203.93" y1="175.75" x2="203.93" y2="174.05"/><line x1="203.93" y1="14.55" x2="203.93" y2="16.25"/><line x1="211.86" y1="175.75" x2="211.86" y2="174.05"/><line x1="211.86" y1="14.55" x2="211.86" y2="16.25"/><line stroke-width="1" stroke="#222" x1="219.80" y1="175.75" x2="219.80" y2="172.55"/><line stroke-width="1" stroke="#222" x1="219.80" y1="14.55" x2="219.80" y2="17.75"/><line x1="227.74" y1="175.75" x2="227.74" y2="174.05"/><line x1="227.74" y1="14.55" x2="227.74" y2="16.25"/><line x1="235.68" y1="175.75" x2="235.68" y2="174.05"/><line x1="235.68" y1="14.55" x2="235.68" y2="16.25"/><line x1="243.61" y1="175.75" x2="243.61" y2="174.05"/><line x1="243.61" y1="14.55" x2="243.61" y2="16.25"/><line stroke-width="1" stroke="#222" x1="251.55" y1="175.75" x2="251.55" y2="172.55"/><line stroke-width="1" stroke="#222" x1="251.55" y1="14.55" x2="251.55" y2="17.75"/><line x1="259.49" y1="175.75" x2="259.49" y2="174.05"/><line x1="259.49" y1="14.55" x2="259.49" y2="16.25"/><line stroke-width="1" stroke="#222" x1="29.3" y1="175.75" x2="32.50" y2="175.75"/><line stroke-width="1" stroke="#222" x1="262.75" y1="175.75" x2="259.55" y2="175.75"/><line x1="29.3" y1="169.30" x2="31.00" y2="169.30"/><line x1="262.75" y1="169.30" x2="261.05" y2="169.30"/><line x1="29.3" y1="162.85" x2="31.00" y2="162.85"/><line x1="262.75" y1="162.85" x2="261.05" y2="162.85"/><line x1="29.3" y1="156.41" x2="31.00" y2="156.41"/><line x1="262.75" y1="156.41" x2="261.05" y2="156.41"/><line x1="29.3" y1="149.96" x2="31.00" y2="149.96"/><line x1="262.75" y1="149.96" x2="261.05" y2="149.96"/><line stroke-width="1" stroke="#222" x1="29.3" y1="143.51" x2="32.50" y2="143.51"/><line stroke-width="1" stroke="#222" x1="262.75" y1="143.51" x2="259.55" y2="143.51"/><line x1="29.3" y1="137.06" x2="31.00" y2="137.06"/><line x1="262.75" y1="137.06" x2="261.05" y2="137.06"/><line x1="29.3" y1="130.61" x2="31.00" y2="130.61"/><line x1="262.75" y1="130.61" x2="261.05" y2="130.61"/><line x1="29.3" y1="124.17" x2="31.00" y2="124.17"/><line x1="262.75" y1="124.17" x2="261.05" y2="124.17"/><line x1="29.3" y1="117.72" x2="31.00" y2="117.72"/><line x1="262.75" y1="117.72" x2="261.05" y2="117.72"/><line stroke-width="1" stroke="#222" x1="29.3" y1="111.27" x2="32.50" y2="111.27"/><line stroke-width="1" stroke="#222" x1="262.75" y1="111.27" x2="259.55" y2="111.27"/><line x1="29.3" y1="104.82" x2="31.00" y2="104.82"/><line x1="262.75" y1="104.82" x2="261.05" y2="104.82"/><line x1="29.3" y1="98.37" x2="31.00" y2="98.37"/><line x1="262.75" y1="98.37" x2="261.05" y2="98.37"/><line x1="29.3" y1="91.93" x2="31.00" y2="91.93"/><line x1="262.75" y1="91.93" x2="261.05" y2="91.93"/><line x1="29.3" y1="85.48" x2="31.00" y2="85.48"/><line x1="262.75" y1="85.48" x2="261.05" y2="85.48"/><line stroke-width="1" stroke="#222" x1="29.3" y1="79.03" x2="32.50" y2="79.03"/><line stroke-width="1" stroke="#222" x1="262.75" y1="79.03" x2="259.55" y2="79.03"/><line x1="29.3" y1="72.58" x2="31.00" y2="72.58"/><line x1="262.75" y1="72.58" x2="261.05" y2="72.58"/><line x1="29.3" y1="66.13" x2="31.00" y2="66.13"/><line x1="262.75" y1="66.13" x2="261.05" y2="66.13"/><line x1="29.3" y1="59.69" x2="31.00" y2="59.69"/><line x1="262.75" y1="59.69" x2="261.05" y2="59.69"/><line x1="29.3" y1="53.24" x2="31.00" y2="53.24"/><line x1="262.75" y1="53.24" x2="261.05" y2="53.24"/><line stroke-width="1" stroke="#222" x1="29.3" y1="46.79" x2="32.50" y2="46.79"/><line stroke-width="1" stroke="#222" x1="262.75" y1="46.79" x2="259.55" y2="46.79"/><line x1="29.3" y1="40.34" x2="31.00" y2="40.34"/><line x1="262.75" y1="40.34" x2="261.05" y2="40.34"/><line x1="29.3" y1="33.89" x2="31.00" y2="33.89"/><line x1="262.75" y1="33.89" x2="261.05" y2="33.89"/><line x1="29.3" y1="27.45" x2="31.00" y2="27.45"/><line x1="262.75" y1="27.45" x2="261.05" y2="27.45"/><line x1="29.3" y1="21.00" x2="31.00" y2="21.00"/><line x1="262.75" y1="21.00" x2="261.05" y2="21.00"/><line stroke-width="1" stroke="#222" x1="29.3" y1="14.55" x2="32.50" y2="14.55"/><line stroke-width="1" stroke="#222" x1="262.75" y1="14.55" x2="259.55" y2="14.55"/></g>
<rect x="29.3" y="14.55" width="233.4" height="161.2" fill="none" stroke="#5a5a5a" stroke-width="0.8"/>
<g font-family="'Liberation Serif','DejaVu Serif',serif" font-size="8.3" fill="#000" stroke="#000" stroke-width="0.35"><text x="29.3" y="184.7" text-anchor="middle">0.0</text><text x="61.0" y="184.7" text-anchor="middle">0.2</text><text x="92.8" y="184.7" text-anchor="middle">0.4</text><text x="124.6" y="184.7" text-anchor="middle">0.6</text><text x="156.3" y="184.7" text-anchor="middle">0.8</text><text x="188.1" y="184.7" text-anchor="middle">1.0</text><text x="219.8" y="184.7" text-anchor="middle">1.2</text><text x="251.6" y="184.7" text-anchor="middle">1.4</text><text x="27.1" y="178.6" text-anchor="end">0</text><text x="27.1" y="146.3" text-anchor="end">50</text><text x="27.1" y="114.1" text-anchor="end">100</text><text x="27.1" y="81.8" text-anchor="end">150</text><text x="27.1" y="49.6" text-anchor="end">200</text><text x="27.1" y="17.4" text-anchor="end">250</text></g>
<g font-family="'Liberation Serif','DejaVu Serif',serif" font-size="10" fill="#000" stroke="#000" stroke-width="0.35">
<text id="xl1" transform="translate(146.03,195.15) scale(1.0168,1)" text-anchor="middle">strain <tspan font-style="italic">ε</tspan></text>
<text id="yl1" transform="translate(10.00,95.15) rotate(-90) scale(1.0056,1)" text-anchor="middle">flow stress <tspan font-style="italic">σ</tspan> (MPa)</text>
<text id="ti1" transform="translate(146.03,11.75) scale(1.0199,1)" text-anchor="middle"><tspan font-style="italic">ε</tspan><tspan dx="-2.9" dy="0.6">˙</tspan><tspan dx="-0.4" dy="-0.6"> = 5 s</tspan><tspan dy="-3.7" font-size="7">−1</tspan><tspan dy="3.7"> and T = 1050°C</tspan></text>
</g>
<g stroke="#cacaca" stroke-width="0.6" fill="none"><line x1="312.40" y1="14.55" x2="312.40" y2="175.75"/><line x1="344.25" y1="14.55" x2="344.25" y2="175.75"/><line x1="376.10" y1="14.55" x2="376.10" y2="175.75"/><line x1="407.95" y1="14.55" x2="407.95" y2="175.75"/><line x1="439.80" y1="14.55" x2="439.80" y2="175.75"/><line x1="471.65" y1="14.55" x2="471.65" y2="175.75"/><line x1="503.50" y1="14.55" x2="503.50" y2="175.75"/><line x1="535.35" y1="14.55" x2="535.35" y2="175.75"/><line x1="312.4" y1="175.75" x2="546.3" y2="175.75"/><line x1="312.4" y1="143.51" x2="546.3" y2="143.51"/><line x1="312.4" y1="111.27" x2="546.3" y2="111.27"/><line x1="312.4" y1="79.03" x2="546.3" y2="79.03"/><line x1="312.4" y1="46.79" x2="546.3" y2="46.79"/><line x1="312.4" y1="14.55" x2="546.3" y2="14.55"/></g>
<g clip-path="url(#cp2)" fill="none" stroke-width="2.1" stroke-linejoin="round" stroke-linecap="square"><path d="M312.4,175.75 L312.4,175.63 L312.4,175.18 L312.41,174.36 L312.42,173.14 L312.43,171.5 L312.44,169.45 L312.46,167 L312.48,164.22 L312.5,161.22 L312.53,158.18 L312.56,155.39 L312.56,155.12 L312.59,152.85 L312.63,150.23 L312.66,147.58 L312.71,144.98 L312.76,142.55 L312.81,140.42 L312.86,138.74 L312.88,138.35 L312.92,137.54 L312.98,136.43 L313.05,135.38 L313.12,134.41 L313.19,133.52 L313.27,132.7 L313.35,131.93 L313.43,131.21 L313.52,130.51 L313.62,129.78 L313.67,129.32 L313.72,128.99 L313.82,128.18 L313.92,127.39 L314.03,126.62 L314.15,125.88 L314.27,125.18 L314.39,124.54 L314.47,124.17 L314.52,123.97 L314.65,123.42 L314.78,122.9 L314.92,122.38 L315.07,121.89 L315.22,121.41 L315.37,120.94 L315.53,120.49 L315.69,120.05 L315.86,119.62 L316.03,119.19 L316.2,118.77 L316.38,118.36 L316.39,118.35 L316.57,117.94 L316.76,117.53 L316.95,117.14 L317.15,116.76 L317.36,116.38 L317.56,116.01 L317.78,115.64 L317.99,115.27 L318.22,114.89 L318.44,114.51 L318.45,114.49 L318.67,114.11 L318.91,113.71 L319.15,113.3 L319.4,112.88 L319.65,112.46 L319.9,112.03 L320.16,111.6 L320.43,111.17 L320.7,110.73 L320.98,110.29 L321.26,109.85 L321.54,109.4 L321.83,108.96 L322.12,108.52 L322.42,108.08 L322.73,107.64 L323.04,107.21 L323.35,106.78 L323.67,106.36 L323.87,106.11 L324,105.95 L324.33,105.54 L324.66,105.13 L325,104.73 L325.35,104.33 L325.7,103.94 L326.05,103.55 L326.41,103.16 L326.78,102.78 L327.15,102.4 L327.52,102.03 L327.9,101.67 L328.29,101.31 L328.32,101.28 L328.68,100.95 L329.07,100.6 L329.48,100.25 L329.88,99.9 L330.29,99.55 L330.71,99.2 L331.13,98.85 L331.56,98.51 L331.99,98.17 L332.43,97.83 L332.88,97.49 L333.32,97.16 L333.78,96.83 L334.24,96.51 L334.7,96.19 L335.17,95.87 L335.65,95.56 L336.13,95.25 L336.29,95.15 L336.61,94.95 L337.11,94.65 L337.6,94.36 L338.1,94.07 L338.61,93.78 L339.13,93.5 L339.64,93.22 L340.17,92.95 L340.7,92.67 L341.23,92.41 L341.77,92.14 L342.32,91.87 L342.87,91.61 L343.43,91.34 L343.99,91.08 L344.25,90.96 L344.56,90.82 L345.13,90.55 L345.71,90.28 L346.29,90 L346.88,89.73 L347.48,89.45 L348.08,89.17 L348.69,88.89 L349.3,88.61 L349.91,88.33 L350.54,88.04 L351.17,87.77 L351.8,87.49 L352.44,87.21 L353.09,86.94 L353.74,86.67 L354.4,86.41 L355.06,86.15 L355.73,85.9 L356.4,85.66 L357.08,85.43 L357.77,85.2 L358.46,84.99 L359.16,84.78 L359.86,84.59 L360.17,84.51 L360.57,84.41 L361.28,84.24 L362,84.08 L362.73,83.92 L363.46,83.76 L364.19,83.62 L364.94,83.47 L365.69,83.33 L366.44,83.19 L367.2,83.06 L367.97,82.93 L368.74,82.8 L369.51,82.67 L370.3,82.55 L371.09,82.42 L371.88,82.3 L372.68,82.17 L373.49,82.04 L374.3,81.91 L375.12,81.77 L375.95,81.64 L376.1,81.61 L376.78,81.49 L377.61,81.35 L378.45,81.21 L379.3,81.07 L380.15,80.93 L381.01,80.79 L381.88,80.65 L382.75,80.51 L383.63,80.37 L384.51,80.23 L385.4,80.09 L386.3,79.95 L387.2,79.8 L388.1,79.66 L389.02,79.51 L389.94,79.37 L390.86,79.22 L391.79,79.07 L392.02,79.03 L392.73,78.92 L393.67,78.76 L394.62,78.61 L395.58,78.46 L396.54,78.31 L397.51,78.16 L398.48,78 L399.46,77.85 L400.44,77.69 L401.43,77.53 L402.43,77.37 L403.43,77.21 L404.44,77.04 L405.46,76.87 L406.48,76.7 L407.51,76.53 L407.95,76.45 L408.54,76.35 L409.58,76.17 L410.63,75.98 L411.68,75.8 L412.74,75.61 L413.8,75.42 L414.87,75.22 L415.95,75.03 L417.03,74.83 L418.12,74.63 L419.22,74.42 L420.32,74.22 L421.43,74.01 L422.54,73.8 L423.66,73.59 L423.88,73.55 L424.78,73.38 L425.92,73.17 L427.06,72.95 L428.2,72.74 L429.35,72.52 L430.51,72.31 L431.67,72.09 L432.84,71.88 L434.02,71.67 L435.2,71.45 L436.38,71.24 L437.58,71.03 L438.78,70.82 L439.8,70.65 L439.99,70.62 L441.2,70.41 L442.42,70.21 L443.64,70 L444.88,69.79 L446.11,69.58 L447.36,69.37 L448.61,69.14 L449.87,68.91 L451.13,68.67 L452.4,68.41 L453.67,68.14 L454.96,67.86 L455.73,67.68 L456.25,67.56 L457.54,67.24 L458.84,66.9 L460.15,66.55 L461.46,66.2 L462.78,65.84 L464.11,65.47 L465.44,65.11 L466.78,64.75 L468.13,64.4 L469.48,64.06 L470.84,63.74 L471.65,63.55 L472.2,63.43 L473.57,63.15 L474.95,62.89 L476.34,62.64 L477.73,62.42 L479.12,62.2 L480.53,62.01 L481.94,61.82 L483.35,61.64 L484.77,61.48 L486.2,61.32 L487.57,61.17 L487.64,61.16 L489.08,61.01 L490.53,60.86 L491.98,60.72 L493.44,60.58 L494.91,60.44 L496.38,60.3 L497.87,60.17 L499.35,60.04 L500.85,59.91 L502.35,59.78 L503.5,59.69 L503.85,59.66 L505.36,59.53 L506.88,59.41 L508.41,59.29 L509.94,59.18 L511.48,59.06 L513.03,58.95 L514.58,58.84 L516.14,58.74 L517.7,58.63 L519.27,58.53 L519.42,58.53 L520.85,58.44 L522.44,58.35 L524.03,58.26 L525.63,58.17 L527.23,58.09 L528.84,58.01 L530.46,57.93 L532.08,57.85 L533.71,57.77 L535.35,57.69" stroke="#cc0000"/><path d="M312.4,175.75 L312.4,175.63 L312.4,175.18 L312.41,174.36 L312.42,173.14 L312.43,171.5 L312.44,169.45 L312.46,167 L312.48,164.22 L312.5,161.22 L312.53,158.18 L312.56,155.39 L312.56,155.12 L312.59,152.85 L312.63,150.23 L312.66,147.58 L312.71,144.98 L312.76,142.55 L312.81,140.42 L312.86,138.74 L312.88,138.35 L312.92,137.54 L312.98,136.43 L313.05,135.38 L313.12,134.41 L313.19,133.52 L313.27,132.7 L313.35,131.93 L313.43,131.21 L313.52,130.51 L313.62,129.78 L313.67,129.32 L313.72,128.99 L313.82,128.19 L313.92,127.42 L314.03,126.67 L314.15,125.94 L314.27,125.24 L314.39,124.57 L314.47,124.17 L314.52,123.94 L314.65,123.32 L314.78,122.71 L314.92,122.11 L315.07,121.52 L315.22,120.93 L315.37,120.36 L315.53,119.8 L315.69,119.24 L315.86,118.69 L316.03,118.15 L316.2,117.61 L316.38,117.07 L316.39,117.06 L316.57,116.52 L316.76,115.98 L316.95,115.46 L317.15,114.94 L317.36,114.42 L317.56,113.91 L317.78,113.41 L317.99,112.92 L318.22,112.42 L318.44,111.93 L318.45,111.91 L318.67,111.44 L318.91,110.95 L319.15,110.45 L319.4,109.95 L319.65,109.44 L319.9,108.94 L320.16,108.43 L320.43,107.92 L320.7,107.42 L320.98,106.91 L321.26,106.41 L321.54,105.9 L321.83,105.4 L322.12,104.91 L322.42,104.42 L322.73,103.93 L323.04,103.45 L323.35,102.98 L323.67,102.52 L323.87,102.24 L324,102.06 L324.33,101.61 L324.66,101.17 L325,100.73 L325.35,100.3 L325.7,99.88 L326.05,99.46 L326.41,99.05 L326.78,98.65 L327.15,98.26 L327.52,97.87 L327.9,97.49 L328.29,97.12 L328.32,97.08 L328.68,96.75 L329.07,96.39 L329.48,96.04 L329.88,95.68 L330.29,95.33 L330.71,94.99 L331.13,94.64 L331.56,94.3 L331.99,93.97 L332.43,93.63 L332.88,93.3 L333.32,92.98 L333.78,92.65 L334.24,92.33 L334.7,92.01 L335.17,91.69 L335.65,91.38 L336.13,91.06 L336.29,90.96 L336.61,90.75 L337.11,90.44 L337.6,90.13 L338.1,89.82 L338.61,89.51 L339.13,89.21 L339.64,88.91 L340.17,88.61 L340.7,88.32 L341.23,88.03 L341.77,87.74 L342.32,87.46 L342.87,87.18 L343.43,86.9 L343.99,86.63 L344.25,86.51 L344.56,86.37 L345.13,86.1 L345.71,85.83 L346.29,85.55 L346.88,85.27 L347.48,85 L348.08,84.72 L348.69,84.44 L349.3,84.16 L349.91,83.88 L350.54,83.6 L351.17,83.33 L351.8,83.06 L352.44,82.79 L353.09,82.53 L353.74,82.27 L354.4,82.03 L355.06,81.78 L355.73,81.55 L356.4,81.33 L357.08,81.11 L357.77,80.91 L358.46,80.72 L359.16,80.55 L359.86,80.39 L360.17,80.32 L360.57,80.24 L361.28,80.1 L362,79.98 L362.73,79.85 L363.46,79.73 L364.19,79.62 L364.94,79.51 L365.69,79.41 L366.44,79.31 L367.2,79.22 L367.97,79.12 L368.74,79.03 L369.51,78.94 L370.3,78.85 L371.09,78.76 L371.88,78.66 L372.68,78.57 L373.49,78.47 L374.3,78.37 L375.12,78.26 L375.95,78.15 L376.1,78.13 L376.78,78.03 L377.61,77.91 L378.45,77.79 L379.3,77.67 L380.15,77.54 L381.01,77.42 L381.88,77.29 L382.75,77.16 L383.63,77.03 L384.51,76.9 L385.4,76.77 L386.3,76.64 L387.2,76.51 L388.1,76.38 L389.02,76.24 L389.94,76.11 L390.86,75.97 L391.79,75.84 L392.02,75.81 L392.73,75.7 L393.67,75.57 L394.62,75.43 L395.58,75.29 L396.54,75.15 L397.51,75.01 L398.48,74.87 L399.46,74.73 L400.44,74.58 L401.43,74.44 L402.43,74.3 L403.43,74.16 L404.44,74.02 L405.46,73.88 L406.48,73.74 L407.51,73.61 L407.95,73.55 L408.54,73.47 L409.58,73.34 L410.63,73.21 L411.68,73.07 L412.74,72.94 L413.8,72.81 L414.87,72.68 L415.95,72.55 L417.03,72.43 L418.12,72.3 L419.22,72.17 L420.32,72.04 L421.43,71.91 L422.54,71.77 L423.66,71.64 L423.88,71.61 L424.78,71.51 L425.92,71.37 L427.06,71.23 L428.2,71.1 L429.35,70.96 L430.51,70.83 L431.67,70.69 L432.84,70.56 L434.02,70.43 L435.2,70.31 L436.38,70.19 L437.58,70.07 L438.78,69.96 L439.8,69.87 L439.99,69.86 L441.2,69.76 L442.42,69.67 L443.64,69.58 L444.88,69.5 L446.11,69.43 L447.36,69.36 L448.61,69.29 L449.87,69.23 L451.13,69.17 L452.4,69.11 L453.67,69.06 L454.96,69 L455.73,68.97 L456.25,68.95 L457.54,68.9 L458.84,68.84 L460.15,68.79 L461.46,68.74 L462.78,68.7 L464.11,68.65 L465.44,68.61 L466.78,68.57 L468.13,68.53 L469.48,68.5 L470.84,68.47 L471.65,68.46 L472.2,68.45 L473.57,68.43 L474.95,68.41 L476.34,68.4 L477.73,68.39 L479.12,68.39 L480.53,68.39 L481.94,68.4 L483.35,68.41 L484.77,68.42 L486.2,68.44 L487.57,68.46 L487.64,68.46 L489.08,68.48 L490.53,68.51 L491.98,68.53 L493.44,68.57 L494.91,68.6 L496.38,68.64 L497.87,68.68 L499.35,68.72 L500.85,68.76 L502.35,68.81 L503.5,68.84 L503.85,68.85 L505.36,68.9 L506.88,68.95 L508.41,69.01 L509.94,69.06 L511.48,69.12 L513.03,69.18 L514.58,69.25 L516.14,69.32 L517.7,69.4 L519.27,69.48 L519.42,69.49 L520.85,69.57 L522.44,69.66 L524.03,69.75 L525.63,69.85 L527.23,69.96 L528.84,70.07 L530.46,70.18 L532.08,70.29 L533.71,70.4 L535.35,70.52" stroke="#00c000"/><path d="M312.4,175.75 L312.64,152.54 L313.04,134.48 L313.99,121.59 L317.02,111.27 L344.25,84.64 L360.17,79.16 L376.1,76.97 L407.95,71.55 L423.88,68.33 L431.84,67.75 L439.8,67.62 L455.73,67.94 L471.65,70.13 L487.57,72.71 L503.5,74.9 L519.42,77.1 L535.35,78.84" stroke="#0000d4"/><path d="M312.4,175.75 L312.4,175.63 L312.4,175.18 L312.41,174.36 L312.42,173.14 L312.43,171.5 L312.44,169.45 L312.46,167 L312.48,164.22 L312.5,161.22 L312.53,158.18 L312.56,155.39 L312.56,155.12 L312.59,152.85 L312.63,150.23 L312.66,147.58 L312.71,144.98 L312.76,142.55 L312.81,140.42 L312.86,138.74 L312.88,138.35 L312.92,137.54 L312.98,136.43 L313.05,135.38 L313.12,134.41 L313.19,133.52 L313.27,132.7 L313.35,131.93 L313.43,131.21 L313.52,130.51 L313.62,129.78 L313.67,129.32 L313.72,128.99 L313.82,128.19 L313.92,127.42 L314.03,126.67 L314.15,125.94 L314.27,125.24 L314.39,124.57 L314.47,124.17 L314.52,123.94 L314.65,123.32 L314.78,122.7 L314.92,122.09 L315.07,121.49 L315.22,120.89 L315.37,120.31 L315.53,119.74 L315.69,119.18 L315.86,118.63 L316.03,118.09 L316.2,117.57 L316.38,117.07 L316.39,117.06 L316.57,116.57 L316.76,116.09 L316.95,115.62 L317.15,115.17 L317.36,114.73 L317.56,114.3 L317.78,113.87 L317.99,113.44 L318.22,113.01 L318.44,112.58 L318.45,112.56 L318.67,112.13 L318.91,111.68 L319.15,111.23 L319.4,110.77 L319.65,110.31 L319.9,109.85 L320.16,109.38 L320.43,108.91 L320.7,108.44 L320.98,107.97 L321.26,107.5 L321.54,107.03 L321.83,106.56 L322.12,106.09 L322.42,105.62 L322.73,105.16 L323.04,104.7 L323.35,104.25 L323.67,103.8 L323.87,103.53 L324,103.36 L324.33,102.92 L324.66,102.48 L325,102.05 L325.35,101.63 L325.7,101.2 L326.05,100.79 L326.41,100.38 L326.78,99.97 L327.15,99.57 L327.52,99.18 L327.9,98.79 L328.29,98.41 L328.32,98.37 L328.68,98.03 L329.07,97.66 L329.48,97.28 L329.88,96.91 L330.29,96.54 L330.71,96.17 L331.13,95.8 L331.56,95.44 L331.99,95.08 L332.43,94.72 L332.88,94.36 L333.32,94.01 L333.78,93.67 L334.24,93.33 L334.7,92.99 L335.17,92.67 L335.65,92.34 L336.13,92.03 L336.29,91.93 L336.61,91.72 L337.11,91.42 L337.6,91.12 L338.1,90.82 L338.61,90.53 L339.13,90.24 L339.64,89.96 L340.17,89.69 L340.7,89.41 L341.23,89.14 L341.77,88.88 L342.32,88.62 L342.87,88.36 L343.43,88.1 L343.99,87.85 L344.25,87.73 L344.56,87.6 L345.13,87.35 L345.71,87.1 L346.29,86.85 L346.88,86.59 L347.48,86.34 L348.08,86.09 L348.69,85.84 L349.3,85.59 L349.91,85.34 L350.54,85.09 L351.17,84.84 L351.8,84.6 L352.44,84.36 L353.09,84.12 L353.74,83.88 L354.4,83.65 L355.06,83.43 L355.73,83.2 L356.4,82.99 L357.08,82.78 L357.77,82.58 L358.46,82.38 L359.16,82.19 L359.86,82.01 L360.17,81.93 L360.57,81.84 L361.28,81.67 L362,81.51 L362.73,81.35 L363.46,81.2 L364.19,81.05 L364.94,80.91 L365.69,80.77 L366.44,80.63 L367.2,80.5 L367.97,80.37 L368.74,80.24 L369.51,80.11 L370.3,79.98 L371.09,79.85 L371.88,79.72 L372.68,79.6 L373.49,79.46 L374.3,79.33 L375.12,79.2 L375.95,79.06 L376.1,79.03 L376.78,78.91 L377.61,78.77 L378.45,78.63 L379.3,78.49 L380.15,78.35 L381.01,78.21 L381.88,78.07 L382.75,77.93 L383.63,77.79 L384.51,77.65 L385.4,77.51 L386.3,77.37 L387.2,77.22 L388.1,77.08 L389.02,76.93 L389.94,76.79 L390.86,76.64 L391.79,76.49 L392.02,76.45 L392.73,76.34 L393.67,76.19 L394.62,76.04 L395.58,75.9 L396.54,75.75 L397.51,75.61 L398.48,75.46 L399.46,75.31 L400.44,75.16 L401.43,75.01 L402.43,74.85 L403.43,74.68 L404.44,74.51 L405.46,74.34 L406.48,74.15 L407.51,73.96 L407.95,73.87 L408.54,73.75 L409.58,73.54 L410.63,73.31 L411.68,73.08 L412.74,72.84 L413.8,72.59 L414.87,72.33 L415.91,72.07 L415.95,72.06 L417.03,71.78 L418.12,71.49 L419.22,71.2 L420.32,70.89 L421.43,70.57 L422.54,70.23 L423.66,69.88 L423.88,69.81 L424.78,69.51 L425.92,69.13 L427.06,68.73 L428.2,68.31 L429.35,67.88 L430.51,67.43 L431.67,66.98 L432.84,66.51 L434.02,66.02 L435.2,65.53 L436.38,65.03 L437.58,64.52 L438.78,64 L439.8,63.55 L439.99,63.47 L441.2,62.94 L442.42,62.4 L443.64,61.86 L444.88,61.31 L446.11,60.75 L447.36,60.19 L448.61,59.62 L449.87,59.04 L451.13,58.46 L452.4,57.88 L453.67,57.29 L454.96,56.69 L455.73,56.33 L456.25,56.09 L457.54,55.48 L458.84,54.87 L460.15,54.25 L461.46,53.63 L462.78,53 L464.11,52.37 L465.44,51.73 L466.78,51.08 L468.13,50.43 L469.48,49.78 L470.84,49.12 L471.65,48.72 L472.2,48.46 L473.57,47.79 L474.95,47.11 L476.34,46.43 L477.73,45.74 L479.12,45.05 L480.53,44.35 L481.94,43.65 L483.35,42.94 L484.77,42.22 L486.2,41.49 L487.57,40.79 L487.64,40.76 L489.08,40.02 L490.53,39.27 L491.98,38.52 L493.44,37.75 L494.91,36.97 L496.38,36.19 L497.87,35.39 L499.35,34.58 L500.85,33.76 L502.35,32.93 L503.5,32.28 L503.85,32.08 L505.36,31.22 L506.88,30.35 L508.41,29.47 L509.94,28.58 L511.48,27.67 L513.03,26.76 L514.58,25.83 L516.14,24.9 L517.7,23.97 L519.27,23.02 L519.42,22.93 L520.85,22.07 L522.44,21.12 L524.03,20.14 L525.63,19.16 L527.23,18.14 L528.84,17.11 L530.46,16.04 L532.08,14.93 L532.16,14.87 L533.71,13.78 L535.35,12.62" stroke="#bfbf00"/><path d="M312.4,175.75 L312.4,175.63 L312.4,175.18 L312.41,174.36 L312.42,173.14 L312.43,171.5 L312.44,169.45 L312.46,167 L312.48,164.22 L312.5,161.22 L312.53,158.18 L312.56,155.39 L312.56,155.12 L312.59,152.85 L312.63,150.23 L312.66,147.58 L312.71,144.98 L312.76,142.55 L312.81,140.42 L312.86,138.74 L312.88,138.35 L312.92,137.54 L312.98,136.43 L313.05,135.38 L313.12,134.41 L313.19,133.52 L313.27,132.7 L313.35,131.93 L313.43,131.21 L313.52,130.51 L313.62,129.78 L313.67,129.32 L313.72,128.99 L313.82,128.18 L313.92,127.37 L314.03,126.59 L314.15,125.84 L314.27,125.14 L314.39,124.52 L314.47,124.17 L314.52,123.98 L314.65,123.48 L314.78,123.01 L314.92,122.56 L315.07,122.12 L315.22,121.71 L315.37,121.31 L315.53,120.93 L315.69,120.55 L315.86,120.18 L316.03,119.8 L316.2,119.41 L316.38,119.01 L316.39,119 L316.57,118.57 L316.76,118.15 L316.95,117.73 L317.15,117.31 L317.36,116.89 L317.56,116.47 L317.78,116.06 L317.99,115.64 L318.22,115.24 L318.44,114.83 L318.45,114.82 L318.67,114.43 L318.91,114.02 L319.15,113.61 L319.4,113.2 L319.65,112.79 L319.9,112.38 L320.16,111.96 L320.43,111.55 L320.7,111.13 L320.98,110.72 L321.26,110.3 L321.54,109.89 L321.83,109.47 L322.12,109.06 L322.42,108.64 L322.73,108.23 L323.04,107.82 L323.35,107.41 L323.67,107 L323.87,106.76 L324,106.59 L324.33,106.19 L324.66,105.79 L325,105.39 L325.35,104.99 L325.7,104.59 L326.05,104.2 L326.41,103.81 L326.78,103.43 L327.15,103.05 L327.52,102.68 L327.9,102.31 L328.29,101.95 L328.32,101.92 L328.68,101.6 L329.07,101.24 L329.48,100.89 L329.88,100.54 L330.29,100.19 L330.71,99.84 L331.13,99.5 L331.56,99.15 L331.99,98.81 L332.43,98.47 L332.88,98.14 L333.32,97.81 L333.78,97.48 L334.24,97.15 L334.7,96.83 L335.17,96.51 L335.65,96.2 L336.13,95.89 L336.29,95.79 L336.61,95.59 L337.11,95.29 L337.6,95 L338.1,94.71 L338.61,94.42 L339.13,94.14 L339.64,93.86 L340.17,93.58 L340.7,93.31 L341.23,93.04 L341.77,92.77 L342.32,92.5 L342.87,92.24 L343.43,91.98 L343.99,91.72 L344.25,91.6 L344.56,91.47 L345.13,91.21 L345.71,90.95 L346.29,90.69 L346.88,90.42 L347.48,90.16 L348.08,89.9 L348.69,89.64 L349.3,89.37 L349.91,89.11 L350.54,88.85 L351.17,88.59 L351.8,88.33 L352.44,88.08 L353.09,87.83 L353.74,87.58 L354.4,87.33 L355.06,87.09 L355.73,86.85 L356.4,86.62 L357.08,86.4 L357.77,86.18 L358.46,85.96 L359.16,85.76 L359.86,85.56 L360.17,85.48 L360.57,85.38 L361.28,85.19 L362,85.01 L362.73,84.84 L363.46,84.66 L364.19,84.5 L364.94,84.33 L365.69,84.17 L366.44,84.01 L367.2,83.86 L367.97,83.7 L368.74,83.55 L369.51,83.41 L370.3,83.26 L371.09,83.12 L371.88,82.97 L372.68,82.83 L373.49,82.69 L374.3,82.56 L375.12,82.42 L375.95,82.28 L376.1,82.25 L376.78,82.14 L377.61,82.01 L378.45,81.88 L379.3,81.75 L380.15,81.63 L381.01,81.51 L381.88,81.39 L382.75,81.27 L383.63,81.15 L384.51,81.03 L385.4,80.92 L386.3,80.8 L387.2,80.68 L388.1,80.56 L389.02,80.43 L389.94,80.3 L390.86,80.17 L391.79,80.03 L392.02,80 L392.73,79.89 L393.67,79.74 L394.62,79.59 L395.58,79.43 L396.54,79.28 L397.51,79.11 L398.48,78.95 L399.46,78.78 L400.44,78.62 L401.43,78.45 L402.43,78.28 L403.43,78.12 L404.44,77.95 L405.46,77.79 L406.48,77.64 L407.51,77.48 L407.95,77.42 L408.54,77.33 L409.58,77.19 L410.63,77.05 L411.68,76.92 L412.74,76.79 L413.8,76.65 L414.87,76.52 L415.95,76.38 L417.03,76.24 L418.12,76.09 L419.22,75.93 L420.32,75.77 L421.43,75.59 L422.54,75.4 L423.66,75.2 L423.88,75.16 L424.78,74.98 L425.92,74.75 L427.06,74.5 L428.2,74.24 L429.35,73.96 L430.51,73.67 L431.67,73.36 L432.84,73.04 L434.02,72.71 L435.2,72.37 L436.38,72.02 L437.58,71.66 L438.78,71.29 L439.8,70.97 L439.99,70.91 L441.2,70.52 L442.42,70.13 L443.64,69.73 L444.88,69.33 L446.11,68.92 L447.36,68.5 L448.61,68.09 L449.87,67.67 L451.13,67.25 L452.4,66.83 L453.67,66.41 L454.96,65.99 L455.73,65.75 L456.25,65.58 L457.54,65.17 L458.84,64.77 L460.15,64.37 L461.46,63.98 L462.78,63.59 L464.11,63.22 L465.44,62.86 L466.78,62.51 L468.13,62.17 L469.48,61.85 L470.84,61.54 L471.65,61.36 L472.2,61.25 L473.57,60.98 L474.95,60.73 L476.34,60.51 L477.73,60.32 L479.12,60.18 L480.53,60.07 L481.94,60.02 L482.8,60.01 L483.35,60.01 L484.77,60.06 L486.2,60.15 L487.57,60.27 L487.64,60.27 L489.08,60.41 L490.53,60.58 L491.98,60.77 L493.44,61.01 L494.91,61.29 L495.54,61.43 L496.38,61.63 L497.87,62.01 L499.35,62.45 L500.85,62.92 L502.35,63.41 L503.5,63.81 L503.85,63.94 L505.36,64.47 L506.88,65.03 L508.41,65.61 L509.94,66.21 L511.48,66.84 L513.03,67.51 L514.58,68.21 L516.14,68.95 L517.7,69.73 L519.27,70.57 L519.42,70.65 L520.85,71.45 L522.44,72.37 L524.03,73.34 L525.63,74.35 L527.23,75.4 L528.84,76.47 L530.46,77.57 L532.08,78.69 L533.71,79.82 L535.35,80.96" stroke="#c400c4"/><path d="M312.4,175.75 L312.4,175.68 L312.4,175.45 L312.4,175.01 L312.41,174.35 L312.41,173.47 L312.42,172.35 L312.43,170.99 L312.44,169.39 L312.45,167.57 L312.47,165.56 L312.48,163.38 L312.5,161.11 L312.52,158.81 L312.54,156.61 L312.56,155.12 L312.57,154.65 L312.59,152.73 L312.62,150.76 L312.65,148.76 L312.68,146.77 L312.71,144.83 L312.75,142.99 L312.78,141.3 L312.82,139.82 L312.86,138.64 L312.88,138.35 L312.91,137.74 L312.95,136.89 L313,136.08 L313.05,135.3 L313.1,134.57 L313.16,133.88 L313.22,133.23 L313.27,132.62 L313.34,132.05 L313.4,131.5 L313.47,130.96 L313.53,130.43 L313.6,129.88 L313.67,129.32 L313.68,129.3 L313.75,128.7 L313.83,128.1 L313.91,127.52 L313.99,126.94 L314.08,126.39 L314.16,125.84 L314.25,125.32 L314.34,124.81 L314.44,124.32 L314.47,124.17 L314.53,123.85 L314.63,123.38 L314.74,122.91 L314.84,122.44 L314.95,121.97 L315.06,121.51 L315.17,121.05 L315.28,120.6 L315.4,120.15 L315.52,119.71 L315.64,119.29 L315.76,118.87 L315.89,118.46 L316.02,118.07 L316.15,117.69 L316.28,117.32 L316.38,117.07 L316.42,116.98 L316.56,116.64 L316.7,116.32 L316.85,116.02 L316.99,115.72 L317.14,115.43 L317.3,115.15 L317.45,114.88 L317.61,114.61 L317.77,114.34 L317.93,114.07 L318.1,113.8 L318.27,113.52 L318.44,113.23 L318.45,113.2 L318.61,112.93 L318.79,112.63 L318.97,112.32 L319.15,112.01 L319.34,111.7 L319.52,111.38 L319.71,111.06 L319.91,110.74 L320.1,110.42 L320.3,110.09 L320.5,109.76 L320.7,109.43 L320.91,109.1 L321.12,108.77 L321.33,108.44 L321.55,108.1 L321.77,107.77 L321.99,107.44 L322.21,107.1 L322.44,106.77 L322.67,106.44 L322.9,106.12 L323.13,105.79 L323.37,105.47 L323.61,105.15 L323.85,104.84 L323.87,104.82 L324.1,104.53 L324.35,104.22 L324.6,103.92 L324.85,103.61 L325.11,103.31 L325.37,103.01 L325.64,102.71 L325.9,102.42 L326.17,102.13 L326.44,101.84 L326.72,101.55 L326.99,101.27 L327.28,100.99 L327.56,100.71 L327.85,100.43 L328.14,100.16 L328.32,99.99 L328.43,99.89 L328.72,99.63 L329.02,99.36 L329.32,99.1 L329.63,98.84 L329.93,98.58 L330.24,98.32 L330.56,98.06 L330.87,97.8 L331.19,97.55 L331.51,97.3 L331.84,97.05 L332.17,96.79 L332.5,96.54 L332.83,96.3 L333.17,96.05 L333.51,95.8 L333.85,95.55 L334.2,95.31 L334.55,95.06 L334.9,94.81 L335.25,94.57 L335.61,94.32 L335.97,94.07 L336.29,93.86 L336.34,93.83 L336.7,93.58 L337.07,93.33 L337.45,93.08 L337.82,92.82 L338.2,92.57 L338.59,92.32 L338.97,92.07 L339.36,91.81 L339.75,91.56 L340.15,91.32 L340.54,91.07 L340.95,90.82 L341.35,90.58 L341.76,90.34 L342.17,90.11 L342.58,89.88 L343,89.66 L343.42,89.44 L343.84,89.22 L344.25,89.02 L344.27,89.02 L344.69,88.81 L345.13,88.61 L345.56,88.41 L346,88.21 L346.44,88.01 L346.89,87.81 L347.33,87.61 L347.79,87.42 L348.24,87.22 L348.7,87.03 L349.16,86.83 L349.62,86.64 L350.09,86.45 L350.56,86.26 L351.03,86.08 L351.51,85.89 L351.99,85.71 L352.47,85.53 L352.96,85.35 L353.45,85.17 L353.94,84.99 L354.43,84.82 L354.93,84.65 L355.43,84.48 L355.94,84.32 L356.45,84.16 L356.96,84 L357.47,83.84 L357.99,83.69 L358.51,83.54 L359.04,83.39 L359.57,83.25 L360.1,83.11 L360.17,83.09 L360.63,82.98 L361.17,82.85 L361.71,82.72 L362.25,82.59 L362.8,82.47 L363.35,82.35 L363.91,82.23 L364.46,82.11 L365.02,82 L365.59,81.89 L366.15,81.78 L366.72,81.67 L367.3,81.56 L367.87,81.46 L368.45,81.35 L369.04,81.25 L369.62,81.15 L370.21,81.04 L370.81,80.94 L371.4,80.84 L372,80.73 L372.61,80.63 L373.21,80.52 L373.82,80.41 L374.44,80.3 L375.05,80.19 L375.67,80.08 L376.1,80 L376.29,79.96 L376.92,79.84 L377.55,79.72 L378.18,79.61 L378.82,79.49 L379.46,79.37 L380.1,79.25 L380.75,79.13 L381.4,79.01 L382.05,78.89 L382.71,78.77 L383.37,78.65 L384.03,78.52 L384.7,78.4 L385.37,78.28 L386.04,78.16 L386.72,78.04 L387.4,77.91 L388.08,77.79 L388.77,77.67 L389.46,77.55 L390.15,77.42 L390.85,77.3 L391.55,77.18 L392.02,77.1 L392.26,77.06 L392.96,76.93 L393.67,76.8 L394.39,76.67 L395.1,76.54 L395.83,76.41 L396.55,76.28 L397.28,76.15 L398.01,76.02 L398.74,75.89 L399.48,75.76 L400.22,75.64 L400.97,75.51 L401.72,75.4 L402.47,75.28 L403.22,75.17 L403.98,75.07 L404.74,74.97 L404.76,74.97 L405.51,74.87 L406.28,74.77 L407.05,74.66 L407.83,74.56 L408.6,74.47 L409.39,74.4 L410.17,74.35 L410.96,74.32 L411.13,74.32 L411.76,74.34 L412.55,74.42 L413.35,74.57 L414.16,74.76 L414.96,75.01 L415.77,75.3 L416.55,75.61 L416.59,75.63 L417.41,76.22 L418.23,77.19 L419.05,78.43 L419.26,78.77 L419.88,80.04 L420.71,82.36 L421.55,85.21 L421.96,86.77 L422.38,88.5 L423.23,92.72 L424.03,97.34 L424.07,97.56 L424.92,102.95 L425.77,109.22 L425.95,110.63 L426.63,116.85 L427.49,125.93 L427.54,126.49 L428.35,136.29 L428.81,142.35 L429.22,147.94 L429.93,158.34 L430.09,160.76 L430.96,174.46 L431.04,175.75 L431.84,188.65" stroke="#00bfbf"/><path d="M312.56,175.75 L312.56,175.67 L312.56,175.39 L312.57,174.86 L312.57,174.08 L312.58,173.02 L312.59,171.69 L312.6,170.08 L312.61,168.21 L312.63,166.1 L312.65,163.81 L312.67,161.41 L312.69,159.02 L312.71,156.8 L312.72,156.41 L312.74,154.77 L312.77,152.69 L312.8,150.58 L312.84,148.47 L312.87,146.41 L312.91,144.47 L312.96,142.7 L313,141.19 L313.04,140.29 L313.05,140 L313.1,138.96 L313.15,137.97 L313.21,137.03 L313.27,136.16 L313.33,135.34 L313.39,134.58 L313.46,133.87 L313.53,133.19 L313.6,132.54 L313.67,131.9 L313.68,131.87 L313.76,131.21 L313.84,130.56 L313.92,129.93 L314.01,129.33 L314.1,128.74 L314.19,128.19 L314.29,127.65 L314.39,127.15 L314.47,126.75 L314.49,126.66 L314.59,126.19 L314.7,125.72 L314.81,125.26 L314.93,124.81 L315.04,124.37 L315.16,123.93 L315.29,123.5 L315.42,123.08 L315.54,122.67 L315.68,122.26 L315.81,121.86 L315.95,121.46 L316.1,121.07 L316.24,120.67 L316.38,120.3 L316.39,120.27 L316.54,119.88 L316.7,119.48 L316.86,119.09 L317.02,118.71 L317.18,118.33 L317.35,117.95 L317.52,117.59 L317.7,117.22 L317.88,116.86 L318.06,116.51 L318.24,116.16 L318.43,115.82 L318.45,115.78 L318.62,115.48 L318.82,115.14 L319.02,114.81 L319.22,114.47 L319.42,114.13 L319.63,113.8 L319.84,113.47 L320.06,113.14 L320.28,112.81 L320.5,112.41 L320.73,111.96 L320.96,111.79 L321.19,112.07 L321.42,111.89 L321.66,111.52 L321.91,110.84 L322.15,110.51 L322.4,110.04 L322.66,109.73 L322.91,109.27 L323.18,108.9 L323.44,108.61 L323.71,108.31 L323.87,107.9 L323.98,107.5 L324.25,107.31 L324.53,107.31 L324.81,107.02 L325.1,106.3 L325.39,105.92 L325.68,105.75 L325.98,105.71 L326.28,105.3 L326.58,104.85 L326.89,104.49 L327.2,104.3 L327.51,104.11 L327.83,103.62 L328.15,103.41 L328.32,103.13 L328.48,102.99 L328.81,102.55 L329.14,102.49 L329.48,102.17 L329.82,102.11 L330.16,101.68 L330.51,101.77 L330.86,101.7 L331.22,101.51 L331.57,101.13 L331.94,100.65 L332.3,100.42 L332.67,100.33 L333.05,100.19 L333.1,100.22 L333.42,99.63 L333.81,99.14 L334.19,98.95 L334.58,98.9 L334.97,98.83 L335.37,98.57 L335.77,98.26 L336.17,98.01 L336.58,97.93 L336.99,97.93 L337.41,97.57 L337.83,97.03 L338.25,96.44 L338.68,96.3 L339.11,95.94 L339.54,95.8 L339.98,95.45 L340.42,95.17 L340.87,94.91 L341.32,94.76 L341.77,94.47 L342.23,94.48 L342.5,94.2 L342.69,94.25 L343.16,93.76 L343.63,93.64 L344.1,93.4 L344.58,93.24 L345.06,92.74 L345.54,92.61 L346.03,92.34 L346.53,92.29 L347.02,92.13 L347.52,91.5 L348.03,91.24 L348.54,91.03 L349.05,90.99 L349.57,90.92 L350.09,90.41 L350.61,90.27 L351.14,89.99 L351.67,89.9 L352.21,89.9 L352.75,89.61 L353.01,89.69 L353.29,89.69 L353.84,89.49 L354.39,88.89 L354.95,88.41 L355.51,87.93 L356.08,87.79 L356.64,87.77 L357.22,87.86 L357.79,88.09 L358.37,87.98 L358.96,87.94 L359.55,87.43 L360.14,87.03 L360.74,86.81 L361.13,86.84 L361.34,87.13 L361.94,86.92 L362.55,86.66 L363.16,86.23 L363.78,86.2 L364.4,85.81 L365.03,85.58 L365.66,85.36 L366.29,85.62 L366.93,85.73 L367.57,85.58 L368.22,85.4 L368.87,85.17 L369.52,84.96 L370.18,84.65 L370.84,84.44 L371.51,84.47 L372.18,84.51 L372.85,84.64 L373.53,84.6 L374.21,84.27 L374.9,84.17 L375.59,83.68 L375.62,84.01 L376.29,83.8 L376.99,83.83 L377.69,83.66 L378.4,83.54 L379.11,83.63 L379.83,83.6 L380.55,83.58 L381.27,83.54 L382,83.12 L382.73,83.02 L383.47,82.56 L384.21,83.11 L384.96,82.98 L385.71,83.05 L386.46,82.59 L387.22,82.32 L387.98,82.21 L388.75,82.1 L389.52,82.09 L390.3,81.66 L391.08,81.47 L391.55,81.43 L391.86,81.87 L392.65,81.78 L393.44,81.91 L394.24,81.77 L395.04,81.31 L395.84,80.85 L396.65,80.61 L397.46,80.71 L398.28,80.48 L399.1,80.38 L399.93,80.12 L400.76,80.13 L401.6,80.08 L402.44,80.02 L403.28,80.41 L404.13,80.4 L404.98,80.49 L405.84,80.14 L406.7,79.95 L407.56,79.94 L407.63,79.89 L408.43,79.33 L409.3,78.99 L410.18,78.75 L411.07,78.8 L411.95,78.77 L412.84,78.46 L413.74,78.44 L414.64,77.98 L415.54,78.15 L416.45,77.9 L417.36,77.94 L418.28,77.72 L419.2,77.48 L420.13,77.43 L421.06,76.81 L421.99,76.68 L422.93,76.24 L423.88,76.27" stroke="#000"/></g>
<g stroke="#444" stroke-width="0.7"><line stroke-width="1" stroke="#222" x1="312.40" y1="175.75" x2="312.40" y2="172.55"/><line stroke-width="1" stroke="#222" x1="312.40" y1="14.55" x2="312.40" y2="17.75"/><line x1="320.36" y1="175.75" x2="320.36" y2="174.05"/><line x1="320.36" y1="14.55" x2="320.36" y2="16.25"/><line x1="328.32" y1="175.75" x2="328.32" y2="174.05"/><line x1="328.32" y1="14.55" x2="328.32" y2="16.25"/><line x1="336.29" y1="175.75" x2="336.29" y2="174.05"/><line x1="336.29" y1="14.55" x2="336.29" y2="16.25"/><line stroke-width="1" stroke="#222" x1="344.25" y1="175.75" x2="344.25" y2="172.55"/><line stroke-width="1" stroke="#222" x1="344.25" y1="14.55" x2="344.25" y2="17.75"/><line x1="352.21" y1="175.75" x2="352.21" y2="174.05"/><line x1="352.21" y1="14.55" x2="352.21" y2="16.25"/><line x1="360.17" y1="175.75" x2="360.17" y2="174.05"/><line x1="360.17" y1="14.55" x2="360.17" y2="16.25"/><line x1="368.14" y1="175.75" x2="368.14" y2="174.05"/><line x1="368.14" y1="14.55" x2="368.14" y2="16.25"/><line stroke-width="1" stroke="#222" x1="376.10" y1="175.75" x2="376.10" y2="172.55"/><line stroke-width="1" stroke="#222" x1="376.10" y1="14.55" x2="376.10" y2="17.75"/><line x1="384.06" y1="175.75" x2="384.06" y2="174.05"/><line x1="384.06" y1="14.55" x2="384.06" y2="16.25"/><line x1="392.02" y1="175.75" x2="392.02" y2="174.05"/><line x1="392.02" y1="14.55" x2="392.02" y2="16.25"/><line x1="399.99" y1="175.75" x2="399.99" y2="174.05"/><line x1="399.99" y1="14.55" x2="399.99" y2="16.25"/><line stroke-width="1" stroke="#222" x1="407.95" y1="175.75" x2="407.95" y2="172.55"/><line stroke-width="1" stroke="#222" x1="407.95" y1="14.55" x2="407.95" y2="17.75"/><line x1="415.91" y1="175.75" x2="415.91" y2="174.05"/><line x1="415.91" y1="14.55" x2="415.91" y2="16.25"/><line x1="423.88" y1="175.75" x2="423.88" y2="174.05"/><line x1="423.88" y1="14.55" x2="423.88" y2="16.25"/><line x1="431.84" y1="175.75" x2="431.84" y2="174.05"/><line x1="431.84" y1="14.55" x2="431.84" y2="16.25"/><line stroke-width="1" stroke="#222" x1="439.80" y1="175.75" x2="439.80" y2="172.55"/><line stroke-width="1" stroke="#222" x1="439.80" y1="14.55" x2="439.80" y2="17.75"/><line x1="447.76" y1="175.75" x2="447.76" y2="174.05"/><line x1="447.76" y1="14.55" x2="447.76" y2="16.25"/><line x1="455.73" y1="175.75" x2="455.73" y2="174.05"/><line x1="455.73" y1="14.55" x2="455.73" y2="16.25"/><line x1="463.69" y1="175.75" x2="463.69" y2="174.05"/><line x1="463.69" y1="14.55" x2="463.69" y2="16.25"/><line stroke-width="1" stroke="#222" x1="471.65" y1="175.75" x2="471.65" y2="172.55"/><line stroke-width="1" stroke="#222" x1="471.65" y1="14.55" x2="471.65" y2="17.75"/><line x1="479.61" y1="175.75" x2="479.61" y2="174.05"/><line x1="479.61" y1="14.55" x2="479.61" y2="16.25"/><line x1="487.57" y1="175.75" x2="487.57" y2="174.05"/><line x1="487.57" y1="14.55" x2="487.57" y2="16.25"/><line x1="495.54" y1="175.75" x2="495.54" y2="174.05"/><line x1="495.54" y1="14.55" x2="495.54" y2="16.25"/><line stroke-width="1" stroke="#222" x1="503.50" y1="175.75" x2="503.50" y2="172.55"/><line stroke-width="1" stroke="#222" x1="503.50" y1="14.55" x2="503.50" y2="17.75"/><line x1="511.46" y1="175.75" x2="511.46" y2="174.05"/><line x1="511.46" y1="14.55" x2="511.46" y2="16.25"/><line x1="519.42" y1="175.75" x2="519.42" y2="174.05"/><line x1="519.42" y1="14.55" x2="519.42" y2="16.25"/><line x1="527.39" y1="175.75" x2="527.39" y2="174.05"/><line x1="527.39" y1="14.55" x2="527.39" y2="16.25"/><line stroke-width="1" stroke="#222" x1="535.35" y1="175.75" x2="535.35" y2="172.55"/><line stroke-width="1" stroke="#222" x1="535.35" y1="14.55" x2="535.35" y2="17.75"/><line x1="543.31" y1="175.75" x2="543.31" y2="174.05"/><line x1="543.31" y1="14.55" x2="543.31" y2="16.25"/><line stroke-width="1" stroke="#222" x1="312.4" y1="175.75" x2="315.60" y2="175.75"/><line stroke-width="1" stroke="#222" x1="546.3" y1="175.75" x2="543.10" y2="175.75"/><line x1="312.4" y1="169.30" x2="314.10" y2="169.30"/><line x1="546.3" y1="169.30" x2="544.60" y2="169.30"/><line x1="312.4" y1="162.85" x2="314.10" y2="162.85"/><line x1="546.3" y1="162.85" x2="544.60" y2="162.85"/><line x1="312.4" y1="156.41" x2="314.10" y2="156.41"/><line x1="546.3" y1="156.41" x2="544.60" y2="156.41"/><line x1="312.4" y1="149.96" x2="314.10" y2="149.96"/><line x1="546.3" y1="149.96" x2="544.60" y2="149.96"/><line stroke-width="1" stroke="#222" x1="312.4" y1="143.51" x2="315.60" y2="143.51"/><line stroke-width="1" stroke="#222" x1="546.3" y1="143.51" x2="543.10" y2="143.51"/><line x1="312.4" y1="137.06" x2="314.10" y2="137.06"/><line x1="546.3" y1="137.06" x2="544.60" y2="137.06"/><line x1="312.4" y1="130.61" x2="314.10" y2="130.61"/><line x1="546.3" y1="130.61" x2="544.60" y2="130.61"/><line x1="312.4" y1="124.17" x2="314.10" y2="124.17"/><line x1="546.3" y1="124.17" x2="544.60" y2="124.17"/><line x1="312.4" y1="117.72" x2="314.10" y2="117.72"/><line x1="546.3" y1="117.72" x2="544.60" y2="117.72"/><line stroke-width="1" stroke="#222" x1="312.4" y1="111.27" x2="315.60" y2="111.27"/><line stroke-width="1" stroke="#222" x1="546.3" y1="111.27" x2="543.10" y2="111.27"/><line x1="312.4" y1="104.82" x2="314.10" y2="104.82"/><line x1="546.3" y1="104.82" x2="544.60" y2="104.82"/><line x1="312.4" y1="98.37" x2="314.10" y2="98.37"/><line x1="546.3" y1="98.37" x2="544.60" y2="98.37"/><line x1="312.4" y1="91.93" x2="314.10" y2="91.93"/><line x1="546.3" y1="91.93" x2="544.60" y2="91.93"/><line x1="312.4" y1="85.48" x2="314.10" y2="85.48"/><line x1="546.3" y1="85.48" x2="544.60" y2="85.48"/><line stroke-width="1" stroke="#222" x1="312.4" y1="79.03" x2="315.60" y2="79.03"/><line stroke-width="1" stroke="#222" x1="546.3" y1="79.03" x2="543.10" y2="79.03"/><line x1="312.4" y1="72.58" x2="314.10" y2="72.58"/><line x1="546.3" y1="72.58" x2="544.60" y2="72.58"/><line x1="312.4" y1="66.13" x2="314.10" y2="66.13"/><line x1="546.3" y1="66.13" x2="544.60" y2="66.13"/><line x1="312.4" y1="59.69" x2="314.10" y2="59.69"/><line x1="546.3" y1="59.69" x2="544.60" y2="59.69"/><line x1="312.4" y1="53.24" x2="314.10" y2="53.24"/><line x1="546.3" y1="53.24" x2="544.60" y2="53.24"/><line stroke-width="1" stroke="#222" x1="312.4" y1="46.79" x2="315.60" y2="46.79"/><line stroke-width="1" stroke="#222" x1="546.3" y1="46.79" x2="543.10" y2="46.79"/><line x1="312.4" y1="40.34" x2="314.10" y2="40.34"/><line x1="546.3" y1="40.34" x2="544.60" y2="40.34"/><line x1="312.4" y1="33.89" x2="314.10" y2="33.89"/><line x1="546.3" y1="33.89" x2="544.60" y2="33.89"/><line x1="312.4" y1="27.45" x2="314.10" y2="27.45"/><line x1="546.3" y1="27.45" x2="544.60" y2="27.45"/><line x1="312.4" y1="21.00" x2="314.10" y2="21.00"/><line x1="546.3" y1="21.00" x2="544.60" y2="21.00"/><line stroke-width="1" stroke="#222" x1="312.4" y1="14.55" x2="315.60" y2="14.55"/><line stroke-width="1" stroke="#222" x1="546.3" y1="14.55" x2="543.10" y2="14.55"/></g>
<rect x="312.4" y="14.55" width="233.9" height="161.2" fill="none" stroke="#5a5a5a" stroke-width="0.8"/>
<g font-family="'Liberation Serif','DejaVu Serif',serif" font-size="8.3" fill="#000" stroke="#000" stroke-width="0.35"><text x="312.4" y="184.7" text-anchor="middle">0.0</text><text x="344.2" y="184.7" text-anchor="middle">0.2</text><text x="376.1" y="184.7" text-anchor="middle">0.4</text><text x="407.9" y="184.7" text-anchor="middle">0.6</text><text x="439.8" y="184.7" text-anchor="middle">0.8</text><text x="471.6" y="184.7" text-anchor="middle">1.0</text><text x="503.5" y="184.7" text-anchor="middle">1.2</text><text x="535.4" y="184.7" text-anchor="middle">1.4</text><text x="310.2" y="178.6" text-anchor="end">0</text><text x="310.2" y="146.3" text-anchor="end">50</text><text x="310.2" y="114.1" text-anchor="end">100</text><text x="310.2" y="81.8" text-anchor="end">150</text><text x="310.2" y="49.6" text-anchor="end">200</text><text x="310.2" y="17.4" text-anchor="end">250</text></g>
<g font-family="'Liberation Serif','DejaVu Serif',serif" font-size="10" fill="#000" stroke="#000" stroke-width="0.35">
<text id="xl2" transform="translate(429.35,195.15) scale(1.0168,1)" text-anchor="middle">strain <tspan font-style="italic">ε</tspan></text>
<text id="yl2" transform="translate(293.10,95.15) rotate(-90) scale(1.0056,1)" text-anchor="middle">flow stress <tspan font-style="italic">σ</tspan> (MPa)</text>
<text id="ti2" transform="translate(429.35,11.75) scale(1.0151,1)" text-anchor="middle"><tspan font-style="italic">ε</tspan><tspan dx="-2.9" dy="0.6">˙</tspan><tspan dx="-0.4" dy="-0.6"> = 10 s</tspan><tspan dy="-3.7" font-size="7">−1</tspan><tspan dy="3.7"> and T = 1050°C</tspan></text>
</g>
<g stroke="#cacaca" stroke-width="0.6" fill="none"><line x1="29.30" y1="224.45" x2="29.30" y2="385.8"/><line x1="61.05" y1="224.45" x2="61.05" y2="385.8"/><line x1="92.80" y1="224.45" x2="92.80" y2="385.8"/><line x1="124.55" y1="224.45" x2="124.55" y2="385.8"/><line x1="156.30" y1="224.45" x2="156.30" y2="385.8"/><line x1="188.05" y1="224.45" x2="188.05" y2="385.8"/><line x1="219.80" y1="224.45" x2="219.80" y2="385.8"/><line x1="251.55" y1="224.45" x2="251.55" y2="385.8"/><line x1="29.3" y1="385.80" x2="262.75" y2="385.80"/><line x1="29.3" y1="353.53" x2="262.75" y2="353.53"/><line x1="29.3" y1="321.26" x2="262.75" y2="321.26"/><line x1="29.3" y1="288.99" x2="262.75" y2="288.99"/><line x1="29.3" y1="256.72" x2="262.75" y2="256.72"/><line x1="29.3" y1="224.45" x2="262.75" y2="224.45"/></g>
<g clip-path="url(#cp3)" fill="none" stroke-width="2.1" stroke-linejoin="round" stroke-linecap="square"><path d="M29.3,385.8 L29.3,385.66 L29.3,385.17 L29.31,384.27 L29.32,382.93 L29.33,381.12 L29.34,378.85 L29.36,376.16 L29.38,373.1 L29.4,369.81 L29.43,366.5 L29.46,363.5 L29.46,363.21 L29.49,360.83 L29.52,358.09 L29.56,355.35 L29.61,352.68 L29.65,350.18 L29.7,347.98 L29.76,346.21 L29.78,345.79 L29.82,344.87 L29.88,343.62 L29.94,342.42 L30.01,341.3 L30.09,340.26 L30.16,339.29 L30.25,338.4 L30.33,337.56 L30.42,336.75 L30.51,335.94 L30.57,335.46 L30.61,335.11 L30.71,334.28 L30.82,333.48 L30.93,332.71 L31.04,331.98 L31.16,331.29 L31.28,330.67 L31.36,330.3 L31.41,330.1 L31.54,329.55 L31.68,329.02 L31.82,328.51 L31.96,328.01 L32.11,327.53 L32.26,327.07 L32.42,326.61 L32.58,326.17 L32.75,325.74 L32.92,325.32 L33.09,324.9 L33.27,324.49 L33.27,324.48 L33.46,324.06 L33.65,323.65 L33.84,323.25 L34.04,322.85 L34.24,322.47 L34.45,322.09 L34.66,321.72 L34.88,321.35 L35.1,320.99 L35.32,320.63 L35.33,320.61 L35.56,320.26 L35.79,319.9 L36.03,319.54 L36.28,319.17 L36.53,318.81 L36.78,318.45 L37.04,318.09 L37.31,317.72 L37.57,317.36 L37.85,317 L38.13,316.64 L38.41,316.28 L38.7,315.92 L38.99,315.56 L39.29,315.2 L39.6,314.83 L39.9,314.47 L40.22,314.1 L40.54,313.74 L40.73,313.52 L40.86,313.37 L41.19,313 L41.52,312.65 L41.86,312.29 L42.2,311.94 L42.55,311.6 L42.91,311.25 L43.27,310.9 L43.63,310.55 L44,310.19 L44.37,309.82 L44.75,309.43 L45.14,309.04 L45.17,309 L45.53,308.62 L45.92,308.2 L46.32,307.77 L46.73,307.32 L47.14,306.87 L47.55,306.4 L47.98,305.93 L48.4,305.45 L48.83,304.97 L49.27,304.48 L49.71,303.98 L50.16,303.48 L50.61,302.97 L51.07,302.47 L51.53,301.96 L52,301.45 L52.47,300.95 L52.95,300.45 L53.11,300.28 L53.44,299.95 L53.93,299.42 L54.42,298.88 L54.92,298.33 L55.43,297.77 L55.94,297.2 L56.46,296.63 L56.98,296.07 L57.51,295.52 L58.04,294.98 L58.58,294.46 L59.12,293.98 L59.67,293.52 L60.23,293.11 L60.79,292.75 L61.05,292.6 L61.35,292.44 L61.93,292.14 L62.5,291.84 L63.09,291.55 L63.67,291.27 L64.27,290.99 L64.87,290.72 L65.47,290.46 L66.08,290.2 L66.7,289.95 L67.32,289.7 L67.95,289.47 L68.58,289.24 L69.22,289.02 L69.86,288.8 L70.51,288.59 L71.16,288.4 L71.83,288.21 L72.49,288.02 L73.16,287.85 L73.84,287.68 L74.52,287.53 L75.21,287.38 L75.91,287.24 L76.61,287.11 L76.92,287.05 L77.31,286.99 L78.03,286.87 L78.74,286.76 L79.47,286.66 L80.2,286.55 L80.93,286.46 L81.67,286.36 L82.42,286.28 L83.17,286.19 L83.93,286.11 L84.69,286.03 L85.46,285.95 L86.24,285.87 L87.02,285.8 L87.8,285.72 L88.6,285.65 L89.39,285.57 L90.2,285.5 L91.01,285.42 L91.82,285.34 L92.65,285.26 L92.8,285.25 L93.47,285.18 L94.31,285.1 L95.15,285.02 L95.99,284.94 L96.84,284.86 L97.7,284.78 L98.56,284.7 L99.43,284.62 L100.31,284.55 L101.19,284.47 L102.07,284.39 L102.96,284.31 L103.86,284.24 L104.77,284.16 L105.68,284.08 L106.59,284 L107.52,283.93 L108.44,283.85 L108.67,283.83 L109.38,283.77 L110.32,283.68 L111.26,283.6 L112.22,283.52 L113.17,283.43 L114.14,283.35 L115.11,283.26 L116.08,283.18 L117.07,283.1 L118.05,283.01 L119.05,282.93 L120.05,282.85 L121.06,282.78 L122.07,282.7 L123.09,282.63 L124.11,282.56 L124.55,282.54 L125.14,282.5 L126.18,282.44 L127.22,282.38 L128.27,282.33 L129.32,282.28 L130.39,282.23 L131.45,282.18 L132.53,282.13 L133.6,282.08 L134.69,282.03 L135.78,281.97 L136.88,281.91 L137.98,281.85 L139.09,281.78 L140.21,281.71 L140.43,281.7 L141.33,281.63 L142.46,281.55 L143.6,281.46 L144.74,281.36 L145.88,281.25 L147.04,281.14 L148.2,281.02 L149.36,280.9 L150.53,280.76 L151.71,280.62 L152.9,280.48 L154.09,280.32 L155.28,280.16 L156.3,280.02 L156.49,279.99 L157.7,279.82 L158.91,279.63 L160.13,279.44 L161.36,279.25 L162.59,279.04 L163.83,278.82 L165.08,278.6 L166.33,278.37 L167.59,278.13 L168.86,277.88 L170.13,277.62 L171.41,277.35 L172.18,277.18 L172.69,277.06 L173.98,276.77 L175.28,276.48 L176.59,276.17 L177.89,275.86 L179.21,275.55 L180.53,275.23 L181.86,274.91 L183.2,274.6 L184.54,274.28 L185.89,273.98 L187.24,273.68 L188.05,273.5 L188.6,273.38 L189.97,273.1 L191.34,272.83 L192.72,272.56 L194.11,272.3 L195.5,272.05 L196.9,271.81 L198.3,271.57 L199.71,271.33 L201.13,271.1 L202.56,270.88 L203.93,270.66 L203.99,270.65 L205.42,270.43 L206.87,270.21 L208.32,269.99 L209.77,269.77 L211.24,269.56 L212.71,269.36 L214.18,269.16 L215.67,268.96 L217.15,268.78 L218.65,268.6 L219.8,268.47 L220.15,268.43 L221.66,268.27 L223.17,268.11 L224.69,267.97 L226.22,267.83 L227.76,267.7 L229.3,267.58 L230.84,267.46 L232.4,267.34 L233.96,267.23 L235.52,267.12 L235.68,267.11 L237.1,267.01 L238.68,266.91 L240.26,266.8 L241.86,266.7 L243.46,266.59 L245.06,266.49 L246.67,266.39 L248.29,266.28 L249.92,266.18 L251.55,266.08" stroke="#cc0000"/><path d="M29.3,385.8 L29.3,385.66 L29.3,385.17 L29.31,384.27 L29.32,382.93 L29.33,381.12 L29.34,378.85 L29.36,376.16 L29.38,373.1 L29.4,369.81 L29.43,366.5 L29.46,363.5 L29.46,363.21 L29.49,360.83 L29.52,358.09 L29.56,355.35 L29.61,352.68 L29.65,350.18 L29.7,347.98 L29.76,346.21 L29.78,345.79 L29.82,344.87 L29.88,343.62 L29.94,342.42 L30.01,341.3 L30.09,340.26 L30.16,339.29 L30.25,338.4 L30.33,337.56 L30.42,336.75 L30.51,335.94 L30.57,335.46 L30.61,335.11 L30.71,334.28 L30.82,333.48 L30.93,332.71 L31.04,331.98 L31.16,331.29 L31.28,330.67 L31.36,330.3 L31.41,330.1 L31.54,329.55 L31.68,329.02 L31.82,328.5 L31.96,328 L32.11,327.51 L32.26,327.04 L32.42,326.58 L32.58,326.14 L32.75,325.71 L32.92,325.29 L33.09,324.88 L33.27,324.49 L33.27,324.48 L33.46,324.08 L33.65,323.7 L33.84,323.34 L34.04,322.98 L34.24,322.63 L34.45,322.3 L34.66,321.96 L34.88,321.63 L35.1,321.29 L35.32,320.95 L35.33,320.94 L35.56,320.6 L35.79,320.25 L36.03,319.89 L36.28,319.54 L36.53,319.18 L36.78,318.82 L37.04,318.45 L37.31,318.09 L37.57,317.72 L37.85,317.35 L38.13,316.99 L38.41,316.62 L38.7,316.25 L38.99,315.88 L39.29,315.51 L39.6,315.15 L39.9,314.78 L40.22,314.42 L40.54,314.05 L40.73,313.84 L40.86,313.69 L41.19,313.34 L41.52,313 L41.86,312.66 L42.2,312.32 L42.55,311.99 L42.91,311.66 L43.27,311.32 L43.63,310.99 L44,310.64 L44.37,310.29 L44.75,309.93 L45.14,309.55 L45.17,309.51 L45.53,309.16 L45.92,308.75 L46.32,308.34 L46.73,307.92 L47.14,307.48 L47.55,307.04 L47.98,306.59 L48.4,306.14 L48.83,305.68 L49.27,305.21 L49.71,304.74 L50.16,304.26 L50.61,303.78 L51.07,303.31 L51.53,302.83 L52,302.35 L52.47,301.88 L52.95,301.41 L53.11,301.25 L53.44,300.94 L53.93,300.45 L54.42,299.95 L54.92,299.43 L55.43,298.91 L55.94,298.39 L56.46,297.87 L56.98,297.35 L57.51,296.84 L58.04,296.34 L58.58,295.87 L59.12,295.42 L59.67,295 L60.23,294.62 L60.79,294.29 L61.05,294.15 L61.35,294 L61.93,293.73 L62.5,293.46 L63.09,293.2 L63.67,292.94 L64.27,292.7 L64.87,292.46 L65.47,292.23 L66.08,292 L66.7,291.79 L67.32,291.57 L67.95,291.37 L68.58,291.17 L69.22,290.98 L69.86,290.79 L70.51,290.6 L71.16,290.42 L71.83,290.24 L72.49,290.07 L73.16,289.9 L73.84,289.73 L74.52,289.56 L75.21,289.4 L75.91,289.23 L76.61,289.07 L76.92,288.99 L77.31,288.9 L78.03,288.73 L78.74,288.57 L79.47,288.41 L80.2,288.25 L80.93,288.1 L81.67,287.94 L82.42,287.79 L83.17,287.64 L83.93,287.5 L84.69,287.35 L85.46,287.21 L86.24,287.07 L87.02,286.94 L87.8,286.8 L88.6,286.67 L89.39,286.54 L90.2,286.41 L91.01,286.29 L91.82,286.16 L92.65,286.04 L92.8,286.02 L93.47,285.93 L94.31,285.81 L95.15,285.7 L95.99,285.59 L96.84,285.48 L97.7,285.37 L98.56,285.27 L99.43,285.17 L100.31,285.06 L101.19,284.96 L102.07,284.87 L102.96,284.77 L103.86,284.67 L104.77,284.57 L105.68,284.47 L106.59,284.37 L107.52,284.28 L108.44,284.17 L108.67,284.15 L109.38,284.07 L110.32,283.97 L111.26,283.87 L112.22,283.76 L113.17,283.66 L114.14,283.55 L115.11,283.45 L116.08,283.34 L117.07,283.24 L118.05,283.14 L119.05,283.04 L120.05,282.94 L121.06,282.84 L122.07,282.75 L123.09,282.66 L124.11,282.57 L124.55,282.54 L125.14,282.49 L126.18,282.41 L127.22,282.34 L128.27,282.26 L129.32,282.2 L130.39,282.13 L131.45,282.06 L132.53,281.99 L133.6,281.92 L134.69,281.84 L135.78,281.76 L136.88,281.68 L137.98,281.59 L139.09,281.5 L140.21,281.39 L140.43,281.37 L141.33,281.28 L142.46,281.17 L143.6,281.04 L144.74,280.91 L145.88,280.77 L147.04,280.64 L148.2,280.49 L149.36,280.35 L150.53,280.21 L151.71,280.07 L152.9,279.93 L154.09,279.8 L155.28,279.67 L156.3,279.57 L156.49,279.55 L157.7,279.44 L158.91,279.33 L160.13,279.24 L161.36,279.15 L162.59,279.06 L163.83,278.98 L165.08,278.91 L166.33,278.84 L167.59,278.77 L168.86,278.7 L170.13,278.64 L171.41,278.57 L172.18,278.53 L172.69,278.51 L173.98,278.44 L175.28,278.38 L176.59,278.31 L177.89,278.25 L179.21,278.19 L180.53,278.12 L181.86,278.06 L183.2,278.01 L184.54,277.95 L185.89,277.9 L187.24,277.85 L188.05,277.82 L188.6,277.81 L189.97,277.77 L191.34,277.73 L192.72,277.7 L194.11,277.67 L195.5,277.65 L196.9,277.63 L198.3,277.61 L199.71,277.6 L201.13,277.59 L202.56,277.57 L203.93,277.57 L203.99,277.57 L205.42,277.56 L206.87,277.55 L208.32,277.55 L209.77,277.55 L211.24,277.55 L212.71,277.55 L214.18,277.55 L215.67,277.55 L217.15,277.55 L218.65,277.56 L219.8,277.57 L220.15,277.57 L221.66,277.58 L223.17,277.59 L224.69,277.6 L226.22,277.61 L227.76,277.62 L229.3,277.64 L230.84,277.65 L232.4,277.67 L233.96,277.68 L235.52,277.69 L235.68,277.7 L237.1,277.71 L238.68,277.72 L240.26,277.74 L241.86,277.75 L243.46,277.76 L245.06,277.77 L246.67,277.79 L248.29,277.8 L249.92,277.81 L251.55,277.82" stroke="#00c000"/><path d="M29.3,385.8 L29.54,361.27 L29.94,343.2 L30.89,329 L34.54,318.81 L61.05,290.09 L76.92,284.02 L92.8,281.7 L124.55,277.37 L140.43,274.6 L156.3,273.5 L172.18,273.05 L180.11,272.98 L184.08,273.5 L188.05,274.6 L203.93,278.92 L219.8,283.31 L235.68,287.57 L251.55,290.93" stroke="#0000d4"/><path d="M30.57,385.8 L30.57,385.65 L30.57,385.1 L30.58,384.09 L30.59,382.59 L30.6,380.57 L30.61,378.03 L30.63,375.01 L30.65,371.57 L30.67,367.84 L30.7,364.02 L30.72,360.43 L30.73,359.98 L30.76,357.08 L30.79,353.53 L30.83,349.86 L30.88,346.22 L30.92,342.81 L30.97,339.9 L31.03,337.84 L31.05,337.39 L31.08,336.73 L31.15,335.75 L31.21,334.82 L31.28,333.96 L31.35,333.16 L31.43,332.43 L31.51,331.77 L31.6,331.18 L31.68,330.64 L31.78,330.13 L31.87,329.64 L31.97,329.13 L32,329 L32.08,328.59 L32.19,328.06 L32.3,327.54 L32.42,327.04 L32.54,326.55 L32.67,326.09 L32.8,325.64 L32.93,325.21 L33.07,324.79 L33.21,324.39 L33.36,324.01 L33.43,323.84 L33.51,323.63 L33.67,323.26 L33.83,322.91 L34,322.57 L34.17,322.24 L34.34,321.92 L34.52,321.61 L34.7,321.3 L34.89,320.99 L35.08,320.69 L35.28,320.37 L35.33,320.29 L35.48,320.06 L35.69,319.74 L35.9,319.41 L36.11,319.09 L36.34,318.77 L36.56,318.44 L36.79,318.11 L37.02,317.79 L37.26,317.46 L37.51,317.13 L37.75,316.8 L38.01,316.47 L38.27,316.13 L38.53,315.8 L38.8,315.47 L39.07,315.14 L39.35,314.8 L39.63,314.46 L39.92,314.13 L40.21,313.79 L40.51,313.45 L40.73,313.19 L40.81,313.11 L41.11,312.77 L41.43,312.43 L41.74,312.1 L42.06,311.77 L42.39,311.45 L42.72,311.12 L43.06,310.8 L43.4,310.47 L43.75,310.13 L44.1,309.8 L44.46,309.45 L44.82,309.1 L45.17,308.74 L45.19,308.73 L45.56,308.35 L45.94,307.96 L46.32,307.57 L46.7,307.17 L47.1,306.76 L47.5,306.35 L47.9,305.93 L48.31,305.5 L48.72,305.07 L49.14,304.63 L49.56,304.19 L49.99,303.75 L50.43,303.3 L50.86,302.85 L51.31,302.39 L51.76,301.94 L52.21,301.49 L52.68,301.03 L53.11,300.61 L53.14,300.58 L53.61,300.12 L54.09,299.64 L54.57,299.14 L55.06,298.64 L55.55,298.12 L56.05,297.6 L56.55,297.09 L57.06,296.57 L57.57,296.07 L58.09,295.58 L58.62,295.11 L59.15,294.66 L59.68,294.25 L60.22,293.87 L60.77,293.53 L61.05,293.38 L61.32,293.24 L61.88,292.96 L62.44,292.69 L63.01,292.42 L63.58,292.17 L64.16,291.91 L64.75,291.67 L65.34,291.43 L65.93,291.2 L66.53,290.98 L67.14,290.76 L67.75,290.55 L68.37,290.34 L68.99,290.14 L69.62,289.94 L70.26,289.75 L70.9,289.57 L71.54,289.38 L72.2,289.2 L72.85,289.03 L73.51,288.86 L74.18,288.69 L74.86,288.52 L75.54,288.35 L76.22,288.19 L76.91,288.02 L76.92,288.02 L77.61,287.86 L78.31,287.7 L79.02,287.55 L79.73,287.39 L80.45,287.24 L81.18,287.1 L81.91,286.95 L82.64,286.81 L83.38,286.67 L84.13,286.54 L84.89,286.4 L85.64,286.27 L86.41,286.14 L87.18,286.01 L87.96,285.88 L88.74,285.76 L89.53,285.63 L90.32,285.5 L91.12,285.38 L91.93,285.25 L92.74,285.13 L92.8,285.12 L93.55,285 L94.38,284.88 L95.21,284.76 L96.04,284.64 L96.88,284.52 L97.73,284.41 L98.58,284.29 L99.44,284.18 L100.3,284.07 L101.17,283.96 L102.04,283.84 L102.93,283.73 L103.81,283.62 L104.71,283.5 L105.61,283.39 L106.51,283.27 L107.42,283.15 L108.34,283.03 L108.67,282.99 L109.26,282.91 L110.19,282.79 L111.12,282.67 L112.07,282.55 L113.01,282.43 L113.96,282.32 L114.92,282.2 L115.89,282.08 L116.86,281.95 L117.83,281.83 L118.82,281.7 L119.81,281.56 L120.8,281.43 L121.8,281.28 L122.81,281.13 L123.82,280.97 L124.55,280.86 L124.84,280.81 L125.86,280.64 L126.89,280.46 L127.93,280.27 L128.97,280.07 L130.02,279.85 L131.08,279.63 L132.14,279.39 L132.49,279.31 L133.21,279.14 L134.28,278.87 L135.36,278.59 L136.44,278.29 L137.53,277.99 L138.63,277.69 L139.74,277.37 L140.43,277.18 L140.85,277.06 L141.96,276.74 L143.08,276.43 L144.21,276.11 L145.35,275.78 L146.49,275.45 L147.63,275.12 L148.79,274.78 L149.95,274.43 L151.11,274.08 L152.28,273.71 L153.46,273.34 L154.64,272.96 L155.83,272.56 L156.3,272.4 L157.03,272.15 L158.23,271.73 L159.44,271.3 L160.65,270.86 L161.88,270.4 L163.1,269.93 L164.34,269.45 L165.58,268.97 L166.82,268.47 L168.07,267.96 L169.33,267.45 L170.6,266.93 L171.87,266.4 L172.18,266.27 L173.14,265.87 L174.43,265.32 L175.72,264.78 L177.01,264.22 L178.32,263.66 L179.62,263.09 L180.94,262.51 L182.26,261.93 L183.59,261.34 L184.92,260.74 L186.26,260.13 L187.61,259.51 L188.05,259.3 L188.96,258.88 L190.32,258.24 L191.68,257.59 L193.06,256.94 L194.43,256.28 L195.82,255.61 L197.21,254.93 L198.61,254.25 L200.01,253.56 L201.42,252.86 L202.84,252.16 L203.93,251.62 L204.26,251.46 L205.69,250.75 L207.12,250.03 L208.57,249.31 L210.01,248.58 L211.47,247.85 L212.93,247.11 L214.4,246.36 L215.87,245.6 L217.35,244.84 L218.84,244.06 L219.8,243.55 L220.33,243.27 L221.83,242.47 L223.34,241.66 L224.85,240.85 L226.37,240.02 L227.89,239.18 L229.42,238.33 L230.96,237.48 L232.51,236.62 L234.06,235.75 L235.62,234.87 L235.68,234.84 L237.18,233.99 L238.75,233.11 L240.33,232.22 L241.91,231.33 L243.5,230.43 L245.1,229.52 L246.7,228.62 L248.31,227.71 L249.93,226.79 L251.55,225.87" stroke="#bfbf00"/><path d="M29.94,385.8 L29.94,385.52 L29.94,384.53 L29.94,382.72 L29.95,380.03 L29.96,376.46 L29.98,372.01 L29.99,366.74 L30.01,360.73 L30.01,359.98 L30.03,353.21 L30.06,344.32 L30.09,338.26 L30.09,338.04 L30.12,337.05 L30.16,336.04 L30.2,335.18 L30.24,334.47 L30.29,333.92 L30.34,333.47 L30.39,333.03 L30.41,332.88 L30.45,332.53 L30.51,332.03 L30.58,331.53 L30.65,331.04 L30.72,330.56 L30.8,330.1 L30.88,329.66 L30.96,329.24 L31.05,328.84 L31.15,328.47 L31.24,328.11 L31.34,327.78 L31.36,327.71 L31.45,327.45 L31.56,327.14 L31.67,326.82 L31.79,326.51 L31.91,326.21 L32.04,325.92 L32.17,325.64 L32.3,325.37 L32.44,325.1 L32.59,324.85 L32.74,324.6 L32.89,324.37 L33.04,324.14 L33.21,323.92 L33.27,323.84 L33.37,323.71 L33.54,323.52 L33.72,323.33 L33.9,323.16 L34.08,322.99 L34.27,322.83 L34.46,322.68 L34.66,322.51 L34.86,322.34 L35.07,322.16 L35.28,321.96 L35.33,321.91 L35.5,321.73 L35.72,321.5 L35.94,321.25 L36.17,320.99 L36.41,320.71 L36.65,320.43 L36.89,320.13 L37.14,319.83 L37.39,319.51 L37.65,319.19 L37.92,318.85 L38.19,318.51 L38.46,318.17 L38.74,317.82 L39.02,317.46 L39.31,317.11 L39.6,316.75 L39.9,316.39 L40.2,316.04 L40.51,315.69 L40.73,315.45 L40.82,315.35 L41.14,315.02 L41.46,314.68 L41.79,314.35 L42.12,314.02 L42.46,313.69 L42.8,313.36 L43.15,313.03 L43.5,312.69 L43.86,312.35 L44.22,312 L44.59,311.64 L44.97,311.27 L45.17,311.06 L45.34,310.89 L45.73,310.5 L46.12,310.1 L46.51,309.69 L46.91,309.28 L47.31,308.85 L47.72,308.42 L48.14,307.98 L48.56,307.54 L48.98,307.09 L49.41,306.63 L49.85,306.17 L50.29,305.71 L50.73,305.25 L51.19,304.78 L51.64,304.32 L52.1,303.85 L52.57,303.39 L53.04,302.93 L53.11,302.87 L53.52,302.47 L54,301.99 L54.49,301.5 L54.99,300.99 L55.49,300.48 L55.99,299.97 L56.5,299.46 L57.02,298.95 L57.54,298.45 L58.06,297.96 L58.59,297.5 L59.13,297.05 L59.67,296.64 L60.22,296.26 L60.77,295.92 L61.05,295.77 L61.33,295.62 L61.9,295.33 L62.47,295.06 L63.04,294.79 L63.62,294.53 L64.21,294.27 L64.8,294.02 L65.4,293.78 L66,293.55 L66.61,293.32 L67.23,293.1 L67.84,292.89 L68.47,292.68 L69.1,292.47 L69.74,292.27 L70.38,292.08 L71.03,291.89 L71.68,291.7 L72.34,291.51 L73,291.33 L73.67,291.15 L74.35,290.96 L75.03,290.78 L75.72,290.6 L76.41,290.42 L76.92,290.28 L77.11,290.23 L77.81,290.05 L78.52,289.86 L79.24,289.68 L79.96,289.5 L80.69,289.32 L81.42,289.15 L82.16,288.97 L82.9,288.8 L83.65,288.63 L84.41,288.47 L85.17,288.3 L85.93,288.14 L86.71,287.98 L87.49,287.82 L88.27,287.67 L89.06,287.52 L89.86,287.37 L90.66,287.22 L91.47,287.08 L92.28,286.95 L92.8,286.86 L93.1,286.81 L93.92,286.68 L94.76,286.55 L95.59,286.43 L96.44,286.31 L97.28,286.19 L98.14,286.07 L99,285.96 L99.87,285.84 L100.74,285.73 L101.62,285.62 L102.5,285.51 L103.39,285.41 L104.28,285.3 L105.19,285.2 L106.09,285.09 L107.01,284.99 L107.93,284.88 L108.67,284.79 L108.85,284.77 L109.78,284.67 L110.72,284.57 L111.66,284.47 L112.61,284.37 L113.57,284.28 L114.53,284.18 L115.5,284.09 L116.47,283.99 L117.45,283.9 L118.44,283.8 L119.43,283.7 L120.42,283.6 L121.43,283.5 L122.44,283.4 L123.45,283.3 L124.47,283.19 L124.55,283.18 L125.5,283.08 L126.54,282.97 L127.58,282.87 L128.62,282.75 L129.67,282.64 L130.73,282.52 L131.8,282.4 L132.87,282.27 L133.94,282.13 L135.02,281.98 L136.11,281.82 L137.21,281.66 L138.31,281.48 L139.41,281.3 L140.43,281.12 L140.53,281.1 L141.65,280.89 L142.77,280.66 L143.9,280.43 L145.04,280.18 L146.19,279.92 L147.34,279.64 L148.49,279.36 L149.65,279.06 L150.82,278.75 L152,278.43 L153.18,278.1 L154.36,277.76 L155.56,277.4 L156.3,277.18 L156.76,277.04 L157.96,276.66 L159.18,276.28 L160.39,275.88 L161.62,275.48 L162.85,275.06 L164.09,274.64 L165.33,274.21 L166.58,273.77 L167.83,273.33 L169.1,272.88 L170.36,272.42 L171.64,271.95 L172.18,271.76 L172.92,271.49 L174.21,271.01 L175.5,270.54 L176.8,270.07 L178.11,269.6 L179.42,269.14 L180.74,268.68 L182.06,268.24 L183.39,267.81 L184.73,267.4 L186.07,267 L187.42,266.63 L188.05,266.47 L188.78,266.28 L190.14,265.96 L191.51,265.67 L192.89,265.41 L194.27,265.18 L195.66,264.99 L197.05,264.84 L197.58,264.79 L198.45,264.72 L199.86,264.65 L201.28,264.62 L202.7,264.65 L203.93,264.72 L204.12,264.74 L205.56,264.89 L207,265.09 L208.44,265.36 L209.89,265.68 L211.35,266.06 L211.86,266.21 L212.82,266.5 L214.29,266.98 L215.77,267.5 L217.25,268.07 L218.74,268.67 L219.8,269.11 L220.24,269.3 L221.74,269.95 L223.25,270.63 L224.77,271.32 L226.29,272.04 L227.82,272.78 L229.36,273.53 L230.9,274.29 L232.45,275.08 L234.01,275.87 L235.57,276.67 L235.68,276.73 L237.14,277.49 L238.71,278.31 L240.3,279.14 L241.88,279.97 L243.48,280.82 L245.08,281.67 L246.69,282.52 L248.3,283.38 L249.92,284.25 L251.55,285.12" stroke="#c400c4"/><path d="M29.46,385.8 L29.46,385.72 L29.46,385.44 L29.46,384.91 L29.47,384.13 L29.48,383.07 L29.49,381.74 L29.5,380.13 L29.51,378.25 L29.53,376.14 L29.55,373.85 L29.57,371.45 L29.59,369.05 L29.61,366.83 L29.62,366.44 L29.64,364.81 L29.67,362.72 L29.7,360.6 L29.74,358.49 L29.77,356.44 L29.81,354.49 L29.86,352.72 L29.9,351.21 L29.94,350.3 L29.95,350.02 L30,348.98 L30.05,347.98 L30.11,347.05 L30.16,346.17 L30.23,345.35 L30.29,344.59 L30.36,343.88 L30.43,343.2 L30.5,342.54 L30.57,341.91 L30.57,341.88 L30.65,341.21 L30.73,340.57 L30.82,339.94 L30.9,339.33 L30.99,338.75 L31.09,338.19 L31.18,337.66 L31.28,337.15 L31.36,336.75 L31.38,336.66 L31.49,336.19 L31.59,335.72 L31.71,335.26 L31.82,334.81 L31.94,334.37 L32.06,333.93 L32.18,333.5 L32.31,333.08 L32.43,332.67 L32.57,332.26 L32.7,331.86 L32.84,331.46 L32.98,331.07 L33.13,330.67 L33.27,330.3 L33.28,330.27 L33.43,329.87 L33.58,329.48 L33.74,329.09 L33.9,328.71 L34.07,328.33 L34.24,327.95 L34.41,327.58 L34.58,327.22 L34.76,326.86 L34.94,326.5 L35.13,326.16 L35.31,325.81 L35.33,325.78 L35.5,325.47 L35.7,325.14 L35.9,324.8 L36.1,324.46 L36.3,324.13 L36.51,323.79 L36.72,323.46 L36.94,323.13 L37.15,322.8 L37.38,322.4 L37.6,321.95 L37.83,321.78 L38.06,322.07 L38.3,321.88 L38.53,321.51 L38.78,320.83 L39.02,320.5 L39.27,320.03 L39.53,319.72 L39.78,319.26 L40.04,318.89 L40.3,318.6 L40.57,318.3 L40.73,317.88 L40.84,317.48 L41.12,317.3 L41.39,317.3 L41.67,317 L41.96,316.28 L42.25,315.91 L42.54,315.73 L42.83,315.69 L43.13,315.29 L43.44,314.83 L43.74,314.48 L44.05,314.29 L44.37,314.09 L44.68,313.61 L45,313.4 L45.17,313.11 L45.33,312.97 L45.66,312.53 L45.99,312.47 L46.32,312.15 L46.66,312.09 L47.01,311.66 L47.35,311.75 L47.7,311.69 L48.06,311.49 L48.41,311.11 L48.78,310.63 L49.14,310.4 L49.51,310.31 L49.88,310.17 L49.94,310.2 L50.26,309.61 L50.64,309.12 L51.02,308.92 L51.41,308.87 L51.8,308.81 L52.2,308.54 L52.6,308.24 L53,307.98 L53.4,307.9 L53.81,307.9 L54.23,307.55 L54.65,307.01 L55.07,306.42 L55.49,306.27 L55.92,305.92 L56.36,305.78 L56.79,305.43 L57.23,305.15 L57.68,304.88 L58.13,304.73 L58.58,304.44 L59.04,304.45 L59.3,304.17 L59.5,304.23 L59.96,303.74 L60.43,303.61 L60.9,303.37 L61.38,303.21 L61.86,302.71 L62.34,302.58 L62.83,302.31 L63.32,302.26 L63.81,302.1 L64.31,301.47 L64.82,301.21 L65.32,301 L65.83,300.96 L66.35,300.89 L66.87,300.38 L67.39,300.24 L67.92,299.96 L68.45,299.87 L68.98,299.87 L69.52,299.58 L69.78,299.66 L70.06,299.66 L70.61,299.46 L71.16,298.86 L71.72,298.38 L72.28,297.9 L72.84,297.76 L73.4,297.74 L73.98,297.83 L74.55,298.06 L75.13,297.95 L75.71,297.91 L76.3,297.4 L76.89,297 L77.48,296.78 L77.88,296.81 L78.08,297.09 L78.69,296.89 L79.29,296.63 L79.9,296.2 L80.52,296.17 L81.14,295.78 L81.76,295.55 L82.39,295.32 L83.02,295.59 L83.66,295.7 L84.3,295.55 L84.94,295.36 L85.59,295.13 L86.24,294.93 L86.9,294.61 L87.56,294.41 L88.22,294.44 L88.89,294.48 L89.56,294.6 L90.24,294.57 L90.92,294.23 L91.6,294.14 L92.29,293.64 L92.32,293.98 L92.99,293.76 L93.68,293.79 L94.39,293.63 L95.09,293.5 L95.8,293.6 L96.52,293.57 L97.23,293.55 L97.96,293.51 L98.68,293.09 L99.41,292.98 L100.15,292.53 L100.89,293.07 L101.63,292.94 L102.38,293.02 L103.13,292.55 L103.89,292.29 L104.65,292.17 L105.41,292.06 L106.18,292.06 L106.95,291.62 L107.73,291.43 L108.2,291.39 L108.51,291.83 L109.3,291.74 L110.09,291.87 L110.88,291.73 L111.68,291.27 L112.48,290.81 L113.29,290.58 L114.1,290.67 L114.91,290.44 L115.73,290.34 L116.56,290.08 L117.38,290.09 L118.22,290.04 L119.05,289.98 L119.89,290.37 L120.74,290.36 L121.59,290.45 L122.44,290.1 L123.3,289.91 L124.16,289.9 L124.23,289.85 L125.03,289.29 L125.9,288.95 L126.78,288.71 L127.66,288.76 L128.54,288.73 L129.43,288.42 L130.32,288.39 L131.22,287.94 L132.12,288.11 L133.02,287.86 L133.93,287.9 L134.85,287.67 L135.77,287.43 L136.69,287.39 L137.62,286.77 L138.55,286.64 L139.48,286.2 L140.43,286.23" stroke="#000"/></g>
<g stroke="#444" stroke-width="0.7"><line stroke-width="1" stroke="#222" x1="29.30" y1="385.8" x2="29.30" y2="382.60"/><line stroke-width="1" stroke="#222" x1="29.30" y1="224.45" x2="29.30" y2="227.65"/><line x1="37.24" y1="385.8" x2="37.24" y2="384.10"/><line x1="37.24" y1="224.45" x2="37.24" y2="226.15"/><line x1="45.17" y1="385.8" x2="45.17" y2="384.10"/><line x1="45.17" y1="224.45" x2="45.17" y2="226.15"/><line x1="53.11" y1="385.8" x2="53.11" y2="384.10"/><line x1="53.11" y1="224.45" x2="53.11" y2="226.15"/><line stroke-width="1" stroke="#222" x1="61.05" y1="385.8" x2="61.05" y2="382.60"/><line stroke-width="1" stroke="#222" x1="61.05" y1="224.45" x2="61.05" y2="227.65"/><line x1="68.99" y1="385.8" x2="68.99" y2="384.10"/><line x1="68.99" y1="224.45" x2="68.99" y2="226.15"/><line x1="76.93" y1="385.8" x2="76.93" y2="384.10"/><line x1="76.93" y1="224.45" x2="76.93" y2="226.15"/><line x1="84.86" y1="385.8" x2="84.86" y2="384.10"/><line x1="84.86" y1="224.45" x2="84.86" y2="226.15"/><line stroke-width="1" stroke="#222" x1="92.80" y1="385.8" x2="92.80" y2="382.60"/><line stroke-width="1" stroke="#222" x1="92.80" y1="224.45" x2="92.80" y2="227.65"/><line x1="100.74" y1="385.8" x2="100.74" y2="384.10"/><line x1="100.74" y1="224.45" x2="100.74" y2="226.15"/><line x1="108.67" y1="385.8" x2="108.67" y2="384.10"/><line x1="108.67" y1="224.45" x2="108.67" y2="226.15"/><line x1="116.61" y1="385.8" x2="116.61" y2="384.10"/><line x1="116.61" y1="224.45" x2="116.61" y2="226.15"/><line stroke-width="1" stroke="#222" x1="124.55" y1="385.8" x2="124.55" y2="382.60"/><line stroke-width="1" stroke="#222" x1="124.55" y1="224.45" x2="124.55" y2="227.65"/><line x1="132.49" y1="385.8" x2="132.49" y2="384.10"/><line x1="132.49" y1="224.45" x2="132.49" y2="226.15"/><line x1="140.43" y1="385.8" x2="140.43" y2="384.10"/><line x1="140.43" y1="224.45" x2="140.43" y2="226.15"/><line x1="148.36" y1="385.8" x2="148.36" y2="384.10"/><line x1="148.36" y1="224.45" x2="148.36" y2="226.15"/><line stroke-width="1" stroke="#222" x1="156.30" y1="385.8" x2="156.30" y2="382.60"/><line stroke-width="1" stroke="#222" x1="156.30" y1="224.45" x2="156.30" y2="227.65"/><line x1="164.24" y1="385.8" x2="164.24" y2="384.10"/><line x1="164.24" y1="224.45" x2="164.24" y2="226.15"/><line x1="172.18" y1="385.8" x2="172.18" y2="384.10"/><line x1="172.18" y1="224.45" x2="172.18" y2="226.15"/><line x1="180.11" y1="385.8" x2="180.11" y2="384.10"/><line x1="180.11" y1="224.45" x2="180.11" y2="226.15"/><line stroke-width="1" stroke="#222" x1="188.05" y1="385.8" x2="188.05" y2="382.60"/><line stroke-width="1" stroke="#222" x1="188.05" y1="224.45" x2="188.05" y2="227.65"/><line x1="195.99" y1="385.8" x2="195.99" y2="384.10"/><line x1="195.99" y1="224.45" x2="195.99" y2="226.15"/><line x1="203.93" y1="385.8" x2="203.93" y2="384.10"/><line x1="203.93" y1="224.45" x2="203.93" y2="226.15"/><line x1="211.86" y1="385.8" x2="211.86" y2="384.10"/><line x1="211.86" y1="224.45" x2="211.86" y2="226.15"/><line stroke-width="1" stroke="#222" x1="219.80" y1="385.8" x2="219.80" y2="382.60"/><line stroke-width="1" stroke="#222" x1="219.80" y1="224.45" x2="219.80" y2="227.65"/><line x1="227.74" y1="385.8" x2="227.74" y2="384.10"/><line x1="227.74" y1="224.45" x2="227.74" y2="226.15"/><line x1="235.68" y1="385.8" x2="235.68" y2="384.10"/><line x1="235.68" y1="224.45" x2="235.68" y2="226.15"/><line x1="243.61" y1="385.8" x2="243.61" y2="384.10"/><line x1="243.61" y1="224.45" x2="243.61" y2="226.15"/><line stroke-width="1" stroke="#222" x1="251.55" y1="385.8" x2="251.55" y2="382.60"/><line stroke-width="1" stroke="#222" x1="251.55" y1="224.45" x2="251.55" y2="227.65"/><line x1="259.49" y1="385.8" x2="259.49" y2="384.10"/><line x1="259.49" y1="224.45" x2="259.49" y2="226.15"/><line stroke-width="1" stroke="#222" x1="29.3" y1="385.80" x2="32.50" y2="385.80"/><line stroke-width="1" stroke="#222" x1="262.75" y1="385.80" x2="259.55" y2="385.80"/><line x1="29.3" y1="379.35" x2="31.00" y2="379.35"/><line x1="262.75" y1="379.35" x2="261.05" y2="379.35"/><line x1="29.3" y1="372.89" x2="31.00" y2="372.89"/><line x1="262.75" y1="372.89" x2="261.05" y2="372.89"/><line x1="29.3" y1="366.44" x2="31.00" y2="366.44"/><line x1="262.75" y1="366.44" x2="261.05" y2="366.44"/><line x1="29.3" y1="359.98" x2="31.00" y2="359.98"/><line x1="262.75" y1="359.98" x2="261.05" y2="359.98"/><line stroke-width="1" stroke="#222" x1="29.3" y1="353.53" x2="32.50" y2="353.53"/><line stroke-width="1" stroke="#222" x1="262.75" y1="353.53" x2="259.55" y2="353.53"/><line x1="29.3" y1="347.08" x2="31.00" y2="347.08"/><line x1="262.75" y1="347.08" x2="261.05" y2="347.08"/><line x1="29.3" y1="340.62" x2="31.00" y2="340.62"/><line x1="262.75" y1="340.62" x2="261.05" y2="340.62"/><line x1="29.3" y1="334.17" x2="31.00" y2="334.17"/><line x1="262.75" y1="334.17" x2="261.05" y2="334.17"/><line x1="29.3" y1="327.71" x2="31.00" y2="327.71"/><line x1="262.75" y1="327.71" x2="261.05" y2="327.71"/><line stroke-width="1" stroke="#222" x1="29.3" y1="321.26" x2="32.50" y2="321.26"/><line stroke-width="1" stroke="#222" x1="262.75" y1="321.26" x2="259.55" y2="321.26"/><line x1="29.3" y1="314.81" x2="31.00" y2="314.81"/><line x1="262.75" y1="314.81" x2="261.05" y2="314.81"/><line x1="29.3" y1="308.35" x2="31.00" y2="308.35"/><line x1="262.75" y1="308.35" x2="261.05" y2="308.35"/><line x1="29.3" y1="301.90" x2="31.00" y2="301.90"/><line x1="262.75" y1="301.90" x2="261.05" y2="301.90"/><line x1="29.3" y1="295.44" x2="31.00" y2="295.44"/><line x1="262.75" y1="295.44" x2="261.05" y2="295.44"/><line stroke-width="1" stroke="#222" x1="29.3" y1="288.99" x2="32.50" y2="288.99"/><line stroke-width="1" stroke="#222" x1="262.75" y1="288.99" x2="259.55" y2="288.99"/><line x1="29.3" y1="282.54" x2="31.00" y2="282.54"/><line x1="262.75" y1="282.54" x2="261.05" y2="282.54"/><line x1="29.3" y1="276.08" x2="31.00" y2="276.08"/><line x1="262.75" y1="276.08" x2="261.05" y2="276.08"/><line x1="29.3" y1="269.63" x2="31.00" y2="269.63"/><line x1="262.75" y1="269.63" x2="261.05" y2="269.63"/><line x1="29.3" y1="263.17" x2="31.00" y2="263.17"/><line x1="262.75" y1="263.17" x2="261.05" y2="263.17"/><line stroke-width="1" stroke="#222" x1="29.3" y1="256.72" x2="32.50" y2="256.72"/><line stroke-width="1" stroke="#222" x1="262.75" y1="256.72" x2="259.55" y2="256.72"/><line x1="29.3" y1="250.27" x2="31.00" y2="250.27"/><line x1="262.75" y1="250.27" x2="261.05" y2="250.27"/><line x1="29.3" y1="243.81" x2="31.00" y2="243.81"/><line x1="262.75" y1="243.81" x2="261.05" y2="243.81"/><line x1="29.3" y1="237.36" x2="31.00" y2="237.36"/><line x1="262.75" y1="237.36" x2="261.05" y2="237.36"/><line x1="29.3" y1="230.90" x2="31.00" y2="230.90"/><line x1="262.75" y1="230.90" x2="261.05" y2="230.90"/><line stroke-width="1" stroke="#222" x1="29.3" y1="224.45" x2="32.50" y2="224.45"/><line stroke-width="1" stroke="#222" x1="262.75" y1="224.45" x2="259.55" y2="224.45"/></g>
<rect x="29.3" y="224.45" width="233.4" height="161.4" fill="none" stroke="#5a5a5a" stroke-width="0.8"/>
<g font-family="'Liberation Serif','DejaVu Serif',serif" font-size="8.3" fill="#000" stroke="#000" stroke-width="0.35"><text x="29.3" y="394.7" text-anchor="middle">0.0</text><text x="61.0" y="394.7" text-anchor="middle">0.2</text><text x="92.8" y="394.7" text-anchor="middle">0.4</text><text x="124.6" y="394.7" text-anchor="middle">0.6</text><text x="156.3" y="394.7" text-anchor="middle">0.8</text><text x="188.1" y="394.7" text-anchor="middle">1.0</text><text x="219.8" y="394.7" text-anchor="middle">1.2</text><text x="251.6" y="394.7" text-anchor="middle">1.4</text><text x="27.1" y="388.6" text-anchor="end">0</text><text x="27.1" y="356.3" text-anchor="end">50</text><text x="27.1" y="324.1" text-anchor="end">100</text><text x="27.1" y="291.8" text-anchor="end">150</text><text x="27.1" y="259.5" text-anchor="end">200</text><text x="27.1" y="227.2" text-anchor="end">250</text></g>
<g font-family="'Liberation Serif','DejaVu Serif',serif" font-size="10" fill="#000" stroke="#000" stroke-width="0.35">
<text id="xl3" transform="translate(146.03,405.20) scale(1.0168,1)" text-anchor="middle">strain <tspan font-style="italic">ε</tspan></text>
<text id="yl3" transform="translate(10.00,305.12) rotate(-90) scale(1.0056,1)" text-anchor="middle">flow stress <tspan font-style="italic">σ</tspan> (MPa)</text>
<text id="ti3" transform="translate(146.03,221.65) scale(1.0199,1)" text-anchor="middle"><tspan font-style="italic">ε</tspan><tspan dx="-2.9" dy="0.6">˙</tspan><tspan dx="-0.4" dy="-0.6"> = 5 s</tspan><tspan dy="-3.7" font-size="7">−1</tspan><tspan dy="3.7"> and T = 1000°C</tspan></text>
</g>
<g stroke="#cacaca" stroke-width="0.6" fill="none"><line x1="312.40" y1="224.45" x2="312.40" y2="385.8"/><line x1="344.25" y1="224.45" x2="344.25" y2="385.8"/><line x1="376.10" y1="224.45" x2="376.10" y2="385.8"/><line x1="407.95" y1="224.45" x2="407.95" y2="385.8"/><line x1="439.80" y1="224.45" x2="439.80" y2="385.8"/><line x1="471.65" y1="224.45" x2="471.65" y2="385.8"/><line x1="503.50" y1="224.45" x2="503.50" y2="385.8"/><line x1="535.35" y1="224.45" x2="535.35" y2="385.8"/><line x1="312.4" y1="385.80" x2="546.3" y2="385.80"/><line x1="312.4" y1="353.53" x2="546.3" y2="353.53"/><line x1="312.4" y1="321.26" x2="546.3" y2="321.26"/><line x1="312.4" y1="288.99" x2="546.3" y2="288.99"/><line x1="312.4" y1="256.72" x2="546.3" y2="256.72"/><line x1="312.4" y1="224.45" x2="546.3" y2="224.45"/></g>
<g clip-path="url(#cp4)" fill="none" stroke-width="2.1" stroke-linejoin="round" stroke-linecap="square"><path d="M312.4,385.8 L312.4,385.66 L312.4,385.17 L312.41,384.27 L312.42,382.93 L312.43,381.12 L312.44,378.85 L312.46,376.16 L312.48,373.1 L312.5,369.81 L312.53,366.5 L312.56,363.5 L312.56,363.21 L312.59,360.83 L312.63,358.09 L312.66,355.35 L312.71,352.68 L312.76,350.18 L312.81,347.98 L312.86,346.21 L312.88,345.79 L312.92,344.87 L312.98,343.62 L313.05,342.42 L313.12,341.3 L313.19,340.26 L313.27,339.29 L313.35,338.4 L313.43,337.56 L313.52,336.75 L313.62,335.94 L313.67,335.46 L313.72,335.11 L313.82,334.28 L313.92,333.48 L314.03,332.71 L314.15,331.98 L314.27,331.29 L314.39,330.67 L314.47,330.3 L314.52,330.1 L314.65,329.55 L314.78,329.01 L314.92,328.49 L315.07,327.98 L315.22,327.49 L315.37,327.01 L315.53,326.55 L315.69,326.1 L315.86,325.67 L316.03,325.26 L316.2,324.86 L316.38,324.49 L316.39,324.48 L316.57,324.11 L316.76,323.76 L316.95,323.43 L317.15,323.12 L317.36,322.81 L317.56,322.52 L317.78,322.22 L317.99,321.92 L318.22,321.6 L318.44,321.27 L318.45,321.26 L318.67,320.92 L318.91,320.57 L319.15,320.2 L319.4,319.83 L319.65,319.45 L319.9,319.07 L320.16,318.68 L320.43,318.28 L320.7,317.88 L320.98,317.47 L321.26,317.06 L321.54,316.65 L321.83,316.23 L322.12,315.82 L322.42,315.4 L322.73,314.99 L323.04,314.57 L323.35,314.16 L323.67,313.76 L323.87,313.52 L324,313.36 L324.33,312.96 L324.66,312.58 L325,312.2 L325.35,311.83 L325.7,311.46 L326.05,311.08 L326.41,310.71 L326.78,310.33 L327.15,309.95 L327.52,309.55 L327.9,309.14 L328.29,308.72 L328.32,308.67 L328.68,308.27 L329.07,307.82 L329.48,307.36 L329.88,306.88 L330.29,306.39 L330.71,305.9 L331.13,305.39 L331.56,304.88 L331.99,304.36 L332.43,303.83 L332.88,303.3 L333.32,302.76 L333.78,302.22 L334.24,301.67 L334.7,301.13 L335.17,300.58 L335.65,300.04 L336.13,299.49 L336.29,299.32 L336.61,298.95 L337.11,298.4 L337.6,297.84 L338.1,297.26 L338.61,296.69 L339.13,296.11 L339.64,295.52 L340.17,294.94 L340.7,294.36 L341.23,293.79 L341.77,293.23 L342.32,292.68 L342.87,292.15 L343.43,291.63 L343.99,291.14 L344.25,290.93 L344.56,290.68 L345.13,290.21 L345.71,289.73 L346.29,289.26 L346.88,288.79 L347.48,288.32 L348.08,287.86 L348.69,287.41 L349.3,286.97 L349.91,286.56 L350.54,286.16 L351.17,285.79 L351.8,285.44 L352.44,285.13 L353.09,284.86 L353.74,284.62 L353.8,284.6 L354.4,284.42 L355.06,284.22 L355.73,284.03 L356.4,283.85 L357.08,283.67 L357.77,283.5 L358.46,283.34 L359.16,283.19 L359.86,283.04 L360.57,282.91 L361.28,282.78 L362,282.67 L362.73,282.56 L363.46,282.47 L364.19,282.38 L364.94,282.31 L365.27,282.28 L365.69,282.24 L366.44,282.18 L367.2,282.12 L367.97,282.06 L368.74,282 L369.51,281.95 L370.3,281.9 L371.09,281.85 L371.88,281.81 L372.68,281.77 L373.49,281.74 L374.3,281.72 L375.12,281.7 L375.95,281.7 L376.1,281.7 L376.78,281.7 L377.61,281.7 L378.45,281.71 L379.3,281.72 L380.15,281.74 L381.01,281.76 L381.88,281.78 L382.75,281.8 L383.63,281.82 L384.51,281.84 L385.4,281.87 L386.3,281.89 L387.2,281.91 L388.1,281.94 L389.02,281.96 L389.94,281.98 L390.86,281.99 L391.79,282.01 L392.73,282.01 L393.67,282.02 L394.1,282.02 L394.62,282.02 L395.58,282.01 L396.54,282 L397.51,281.98 L398.48,281.96 L399.46,281.94 L400.44,281.91 L401.43,281.88 L402.43,281.85 L403.43,281.82 L404.44,281.79 L405.46,281.76 L406.48,281.73 L407.51,281.71 L407.95,281.7 L408.54,281.68 L409.58,281.67 L410.63,281.65 L411.68,281.63 L412.74,281.62 L413.8,281.6 L414.87,281.59 L415.95,281.57 L417.03,281.55 L418.12,281.52 L419.22,281.48 L420.32,281.44 L421.43,281.39 L422.54,281.33 L423.66,281.26 L423.88,281.25 L424.78,281.18 L425.92,281.08 L427.06,280.98 L428.2,280.86 L429.35,280.74 L430.51,280.6 L431.67,280.46 L432.84,280.32 L434.02,280.16 L435.2,280.01 L436.38,279.84 L437.58,279.68 L438.78,279.51 L439.8,279.37 L439.99,279.35 L441.2,279.18 L442.42,279.02 L443.64,278.85 L444.88,278.68 L446.11,278.52 L447.36,278.35 L448.61,278.18 L449.87,278.01 L451.13,277.83 L452.4,277.66 L453.67,277.47 L454.96,277.29 L455.73,277.18 L456.25,277.1 L457.54,276.91 L458.84,276.71 L460.15,276.51 L461.46,276.31 L462.78,276.1 L464.11,275.88 L465.44,275.66 L466.78,275.44 L468.13,275.21 L469.48,274.98 L470.84,274.74 L471.65,274.6 L472.2,274.5 L473.57,274.25 L474.95,274 L476.34,273.75 L477.73,273.49 L479.12,273.24 L480.53,272.98 L481.94,272.73 L483.35,272.48 L484.77,272.23 L486.2,271.99 L487.57,271.76 L487.64,271.75 L489.08,271.52 L490.53,271.29 L491.98,271.07 L493.44,270.86 L494.91,270.65 L496.38,270.45 L497.87,270.25 L499.35,270.06 L500.85,269.88 L502.35,269.7 L503.5,269.56 L503.85,269.52 L505.36,269.35 L506.88,269.19 L508.41,269.03 L509.94,268.87 L511.48,268.72 L513.03,268.57 L514.58,268.43 L516.14,268.29 L517.7,268.16 L519.27,268.03 L519.42,268.01 L520.85,267.9 L522.44,267.78 L524.03,267.67 L525.63,267.55 L527.23,267.44 L528.84,267.34 L530.46,267.23 L532.08,267.13 L533.71,267.02 L535.35,266.92" stroke="#cc0000"/><path d="M312.4,385.8 L312.4,385.66 L312.4,385.17 L312.41,384.27 L312.42,382.93 L312.43,381.12 L312.44,378.85 L312.46,376.16 L312.48,373.1 L312.5,369.81 L312.53,366.5 L312.56,363.5 L312.56,363.21 L312.59,360.83 L312.63,358.09 L312.66,355.35 L312.71,352.68 L312.76,350.18 L312.81,347.98 L312.86,346.21 L312.88,345.79 L312.92,344.87 L312.98,343.62 L313.05,342.42 L313.12,341.3 L313.19,340.26 L313.27,339.29 L313.35,338.4 L313.43,337.56 L313.52,336.75 L313.62,335.94 L313.67,335.46 L313.72,335.11 L313.82,334.28 L313.92,333.49 L314.03,332.73 L314.15,332.01 L314.27,331.33 L314.39,330.68 L314.47,330.3 L314.52,330.08 L314.65,329.5 L314.78,328.92 L314.92,328.35 L315.07,327.79 L315.22,327.25 L315.37,326.72 L315.53,326.2 L315.69,325.7 L315.86,325.21 L316.03,324.74 L316.2,324.28 L316.38,323.84 L316.39,323.83 L316.57,323.4 L316.76,322.98 L316.95,322.58 L317.15,322.19 L317.36,321.81 L317.56,321.44 L317.78,321.07 L317.99,320.71 L318.22,320.35 L318.44,319.98 L318.45,319.97 L318.67,319.61 L318.91,319.24 L319.15,318.87 L319.4,318.49 L319.65,318.12 L319.9,317.75 L320.16,317.38 L320.43,317 L320.7,316.63 L320.98,316.26 L321.26,315.88 L321.54,315.5 L321.83,315.13 L322.12,314.74 L322.42,314.36 L322.73,313.98 L323.04,313.58 L323.35,313.19 L323.67,312.79 L323.87,312.55 L324,312.38 L324.33,311.98 L324.66,311.57 L325,311.17 L325.35,310.76 L325.7,310.36 L326.05,309.95 L326.41,309.54 L326.78,309.13 L327.15,308.71 L327.52,308.29 L327.9,307.86 L328.29,307.43 L328.32,307.38 L328.68,306.98 L329.07,306.53 L329.48,306.08 L329.88,305.61 L330.29,305.14 L330.71,304.66 L331.13,304.18 L331.56,303.7 L331.99,303.21 L332.43,302.72 L332.88,302.22 L333.32,301.73 L333.78,301.24 L334.24,300.75 L334.7,300.26 L335.17,299.77 L335.65,299.3 L336.13,298.82 L336.29,298.67 L336.61,298.36 L337.11,297.88 L337.6,297.4 L338.1,296.91 L338.61,296.43 L339.13,295.94 L339.64,295.45 L340.17,294.97 L340.7,294.5 L341.23,294.04 L341.77,293.6 L342.32,293.17 L342.87,292.77 L343.43,292.39 L343.99,292.04 L344.25,291.89 L344.56,291.73 L345.13,291.42 L345.71,291.11 L346.29,290.81 L346.88,290.52 L347.48,290.22 L348.08,289.94 L348.69,289.66 L349.3,289.38 L349.91,289.11 L350.54,288.85 L351.17,288.59 L351.8,288.34 L352.44,288.09 L353.09,287.85 L353.74,287.62 L354.4,287.39 L355.06,287.18 L355.73,286.96 L356.4,286.76 L357.08,286.56 L357.77,286.37 L358.46,286.18 L359.16,286.01 L359.86,285.84 L360.17,285.76 L360.57,285.67 L361.28,285.52 L362,285.36 L362.73,285.21 L363.46,285.07 L364.19,284.92 L364.94,284.78 L365.69,284.65 L366.44,284.51 L367.2,284.39 L367.97,284.26 L368.74,284.14 L369.51,284.02 L370.3,283.91 L371.09,283.8 L371.88,283.69 L372.68,283.58 L373.49,283.48 L374.3,283.38 L375.12,283.29 L375.95,283.2 L376.1,283.18 L376.78,283.11 L377.61,283.02 L378.45,282.94 L379.3,282.86 L380.15,282.78 L381.01,282.71 L381.88,282.64 L382.75,282.57 L383.63,282.5 L384.51,282.43 L385.4,282.36 L386.3,282.3 L387.2,282.23 L388.1,282.17 L389.02,282.1 L389.94,282.04 L390.86,281.97 L391.79,281.91 L392.02,281.89 L392.73,281.84 L393.67,281.77 L394.62,281.7 L395.58,281.64 L396.54,281.57 L397.51,281.5 L398.48,281.44 L399.46,281.37 L400.44,281.31 L401.43,281.24 L402.43,281.18 L403.43,281.12 L404.44,281.06 L405.46,281 L406.48,280.94 L407.51,280.88 L407.95,280.86 L408.54,280.83 L409.58,280.77 L410.63,280.72 L411.68,280.68 L412.74,280.63 L413.8,280.58 L414.87,280.53 L415.95,280.48 L417.03,280.43 L418.12,280.38 L419.22,280.33 L420.32,280.28 L421.43,280.22 L422.54,280.16 L423.66,280.1 L423.88,280.08 L424.78,280.03 L425.92,279.96 L427.06,279.88 L428.2,279.8 L429.35,279.72 L430.51,279.64 L431.67,279.55 L432.84,279.46 L434.02,279.37 L435.2,279.28 L436.38,279.19 L437.58,279.1 L438.78,279 L439.8,278.92 L439.99,278.91 L441.2,278.81 L442.42,278.72 L443.64,278.63 L444.88,278.54 L446.11,278.44 L447.36,278.36 L448.61,278.27 L449.87,278.18 L451.13,278.1 L452.4,278.02 L453.67,277.94 L454.96,277.87 L455.73,277.82 L456.25,277.8 L457.54,277.73 L458.84,277.66 L460.15,277.6 L461.46,277.55 L462.78,277.49 L464.11,277.44 L465.44,277.39 L466.78,277.34 L468.13,277.29 L469.48,277.25 L470.84,277.2 L471.65,277.18 L472.2,277.16 L473.57,277.12 L474.95,277.08 L476.34,277.04 L477.73,277 L479.12,276.96 L480.53,276.92 L481.94,276.88 L483.35,276.84 L484.77,276.81 L486.2,276.77 L487.57,276.73 L487.64,276.73 L489.08,276.68 L490.53,276.64 L491.98,276.6 L493.44,276.56 L494.91,276.52 L496.38,276.49 L497.87,276.45 L499.35,276.42 L500.85,276.39 L502.35,276.36 L503.5,276.34 L503.85,276.34 L505.36,276.32 L506.88,276.3 L508.41,276.29 L509.94,276.28 L511.48,276.28 L513.03,276.28 L514.58,276.29 L516.14,276.3 L517.7,276.32 L519.27,276.34 L519.42,276.34 L520.85,276.36 L522.44,276.39 L524.03,276.43 L525.63,276.46 L527.23,276.5 L528.84,276.54 L530.46,276.59 L532.08,276.63 L533.71,276.68 L535.35,276.73" stroke="#00c000"/><path d="M312.4,385.8 L312.64,361.27 L313.04,341.91 L313.99,326.42 L317.18,316.48 L349.03,282.21 L362.4,276.86 L376.1,275.11 L399.99,272.21 L414.32,268.79 L425.31,268.01 L439.8,267.18 L455.73,266.47 L471.65,265.82 L475.63,266.08 L487.57,269.11 L503.5,273.5 L519.42,277.18 L535.35,280.66" stroke="#0000d4"/><path d="M313.67,385.8 L313.67,385.65 L313.68,385.11 L313.68,384.11 L313.69,382.62 L313.7,380.63 L313.71,378.12 L313.73,375.13 L313.75,371.72 L313.77,368 L313.8,364.15 L313.83,360.46 L313.83,359.98 L313.86,356.91 L313.9,353.11 L313.94,349.14 L313.98,345.17 L314.03,341.43 L314.08,338.22 L314.13,335.94 L314.15,335.46 L314.19,334.74 L314.25,333.68 L314.32,332.67 L314.39,331.72 L314.46,330.84 L314.54,330.04 L314.62,329.31 L314.7,328.66 L314.79,328.07 L314.88,327.54 L314.98,327.04 L315.08,326.54 L315.11,326.42 L315.19,326.04 L315.3,325.55 L315.41,325.09 L315.53,324.65 L315.65,324.22 L315.78,323.82 L315.91,323.44 L316.04,323.08 L316.18,322.73 L316.33,322.39 L316.48,322.05 L316.54,321.91 L316.63,321.71 L316.78,321.39 L316.95,321.07 L317.11,320.77 L317.28,320.47 L317.46,320.18 L317.64,319.9 L317.82,319.62 L318.01,319.34 L318.2,319.05 L318.4,318.76 L318.45,318.68 L318.6,318.45 L318.81,318.15 L319.02,317.84 L319.24,317.53 L319.46,317.21 L319.68,316.89 L319.91,316.57 L320.15,316.25 L320.39,315.93 L320.63,315.6 L320.88,315.27 L321.14,314.94 L321.39,314.61 L321.66,314.27 L321.93,313.93 L322.2,313.59 L322.48,313.25 L322.76,312.9 L323.05,312.55 L323.34,312.2 L323.64,311.85 L323.87,311.58 L323.94,311.49 L324.25,311.13 L324.56,310.77 L324.88,310.42 L325.2,310.06 L325.53,309.71 L325.87,309.35 L326.2,308.99 L326.55,308.63 L326.89,308.26 L327.25,307.89 L327.6,307.51 L327.97,307.13 L328.32,306.74 L328.34,306.73 L328.71,306.32 L329.09,305.9 L329.47,305.47 L329.86,305.04 L330.25,304.59 L330.65,304.14 L331.06,303.69 L331.47,303.22 L331.88,302.75 L332.3,302.28 L332.73,301.81 L333.16,301.33 L333.59,300.85 L334.03,300.37 L334.48,299.89 L334.93,299.41 L335.39,298.93 L335.85,298.46 L336.29,298.03 L336.32,298 L336.79,297.53 L337.27,297.05 L337.75,296.55 L338.24,296.05 L338.73,295.55 L339.23,295.04 L339.74,294.54 L340.25,294.04 L340.76,293.55 L341.28,293.08 L341.81,292.62 L342.34,292.19 L342.88,291.78 L343.42,291.41 L343.97,291.08 L344.25,290.93 L344.52,290.78 L345.08,290.5 L345.65,290.22 L346.22,289.95 L346.79,289.68 L347.37,289.42 L347.96,289.16 L348.55,288.91 L349.15,288.67 L349.75,288.43 L350.36,288.2 L350.97,287.97 L351.59,287.75 L352.22,287.54 L352.85,287.33 L353.49,287.13 L354.13,286.94 L354.78,286.75 L355.43,286.56 L356.09,286.38 L356.75,286.21 L357.42,286.05 L358.1,285.89 L358.78,285.73 L359.47,285.59 L360.16,285.44 L360.17,285.44 L360.86,285.31 L361.56,285.17 L362.27,285.05 L362.99,284.92 L363.71,284.81 L364.44,284.69 L365.17,284.58 L365.91,284.47 L366.65,284.37 L367.4,284.27 L368.16,284.17 L368.92,284.07 L369.69,283.97 L370.46,283.88 L371.24,283.78 L372.03,283.69 L372.82,283.59 L373.61,283.5 L374.41,283.4 L375.22,283.29 L376.04,283.19 L376.1,283.18 L376.86,283.08 L377.68,282.98 L378.51,282.88 L379.35,282.78 L380.19,282.69 L381.04,282.59 L381.9,282.5 L382.76,282.4 L383.62,282.3 L384.5,282.21 L385.37,282.11 L386.26,282.01 L387.15,281.9 L388.04,281.79 L388.95,281.68 L389.85,281.56 L390.77,281.43 L391.69,281.3 L392.02,281.25 L392.61,281.15 L393.55,281.01 L394.48,280.85 L395.43,280.69 L396.38,280.52 L397.33,280.35 L398.29,280.17 L399.26,279.98 L400.23,279.79 L401.21,279.59 L402.2,279.38 L403.19,279.16 L404.19,278.94 L405.19,278.71 L406.2,278.46 L407.22,278.21 L407.95,278.02 L408.24,277.94 L409.27,277.66 L410.3,277.37 L411.34,277.06 L412.39,276.74 L413.44,276.42 L414.5,276.08 L415.56,275.73 L416.63,275.38 L417.71,275.02 L418.79,274.65 L419.88,274.27 L420.98,273.89 L422.08,273.5 L423.18,273.1 L423.88,272.86 L424.3,272.7 L425.42,272.3 L426.54,271.89 L427.67,271.48 L428.81,271.06 L429.96,270.64 L431.11,270.22 L432.26,269.79 L433.43,269.35 L434.59,268.91 L435.77,268.47 L436.95,268.02 L438.14,267.56 L439.33,267.1 L439.8,266.92 L440.53,266.63 L441.74,266.16 L442.95,265.68 L444.17,265.2 L445.39,264.71 L446.62,264.21 L447.86,263.71 L449.1,263.2 L450.35,262.68 L451.61,262.15 L452.87,261.62 L454.14,261.08 L455.42,260.53 L455.73,260.4 L456.7,259.98 L457.98,259.41 L459.28,258.83 L460.58,258.25 L461.89,257.66 L463.2,257.06 L464.52,256.45 L465.84,255.83 L467.17,255.2 L468.51,254.56 L469.86,253.91 L471.21,253.26 L471.65,253.04 L472.56,252.59 L473.93,251.92 L475.3,251.23 L476.67,250.54 L478.05,249.83 L479.44,249.11 L480.84,248.39 L482.24,247.65 L483.65,246.9 L485.06,246.15 L486.48,245.38 L487.57,244.78 L487.91,244.6 L489.34,243.8 L490.78,243 L492.23,242.19 L493.68,241.37 L495.14,240.54 L496.61,239.69 L498.08,238.84 L499.56,237.99 L501.04,237.12 L502.53,236.25 L503.5,235.68 L504.03,235.37 L505.54,234.48 L507.05,233.58 L508.56,232.68 L510.09,231.77 L511.62,230.84 L513.15,229.91 L514.7,228.96 L516.25,228 L517.8,227.03 L519.37,226.04 L519.42,226 L520.94,225.03 L522.51,224.01 L524.09,222.97 L525.68,221.92 L527.28,220.86 L528.88,219.79 L530.49,218.71 L532.1,217.62 L533.72,216.52 L535.35,215.41" stroke="#bfbf00"/><path d="M313.04,385.8 L313.04,385.52 L313.04,384.53 L313.05,382.72 L313.05,380.03 L313.06,376.46 L313.08,372.01 L313.09,366.74 L313.11,360.73 L313.12,359.98 L313.14,353.36 L313.16,344.76 L313.19,338.4 L313.2,338.04 L313.23,335.98 L313.26,333.77 L313.3,331.78 L313.34,330.06 L313.39,328.64 L313.44,327.52 L313.5,326.66 L313.51,326.42 L313.55,325.95 L313.62,325.23 L313.68,324.52 L313.75,323.82 L313.82,323.12 L313.9,322.45 L313.98,321.8 L314.07,321.18 L314.16,320.59 L314.25,320.04 L314.35,319.54 L314.45,319.09 L314.56,318.69 L314.67,318.34 L314.78,318.04 L314.9,317.8 L314.95,317.71 L315.02,317.6 L315.15,317.41 L315.28,317.24 L315.41,317.08 L315.55,316.94 L315.7,316.8 L315.85,316.68 L316,316.56 L316.16,316.45 L316.32,316.34 L316.48,316.24 L316.66,316.13 L316.83,316.02 L317.01,315.9 L317.18,315.77 L317.2,315.76 L317.38,315.61 L317.58,315.47 L317.78,315.32 L317.98,315.18 L318.19,315.03 L318.4,314.89 L318.62,314.74 L318.84,314.59 L319.06,314.44 L319.29,314.28 L319.53,314.12 L319.77,313.95 L320.02,313.77 L320.27,313.59 L320.36,313.52 L320.52,313.39 L320.78,313.19 L321.04,312.98 L321.31,312.76 L321.59,312.54 L321.87,312.31 L322.15,312.07 L322.44,311.82 L322.73,311.58 L323.03,311.32 L323.34,311.06 L323.64,310.8 L323.87,310.61 L323.96,310.53 L324.28,310.26 L324.6,309.99 L324.93,309.71 L325.26,309.42 L325.6,309.13 L325.95,308.83 L326.29,308.53 L326.65,308.22 L327.01,307.91 L327.37,307.59 L327.74,307.26 L328.12,306.93 L328.32,306.74 L328.49,306.59 L328.88,306.24 L329.27,305.88 L329.66,305.51 L330.06,305.13 L330.47,304.74 L330.88,304.35 L331.3,303.95 L331.72,303.55 L332.14,303.14 L332.58,302.72 L333.01,302.3 L333.45,301.88 L333.9,301.46 L334.35,301.04 L334.81,300.62 L335.28,300.2 L335.74,299.78 L336.22,299.38 L336.29,299.32 L336.7,298.97 L337.18,298.55 L337.67,298.13 L338.17,297.7 L338.67,297.27 L339.17,296.84 L339.69,296.41 L340.2,295.98 L340.73,295.56 L341.25,295.14 L341.79,294.74 L342.33,294.35 L342.87,293.97 L343.42,293.61 L343.97,293.28 L344.25,293.12 L344.53,292.96 L345.1,292.65 L345.67,292.35 L346.25,292.04 L346.83,291.74 L347.42,291.44 L348.01,291.15 L348.61,290.85 L349.22,290.57 L349.83,290.28 L350.44,290 L351.07,289.73 L351.69,289.46 L352.33,289.19 L352.96,288.94 L353.61,288.68 L354.26,288.44 L354.91,288.2 L355.57,287.96 L356.24,287.74 L356.91,287.52 L357.59,287.31 L358.27,287.11 L358.96,286.91 L359.66,286.73 L360.17,286.6 L360.36,286.56 L361.07,286.39 L361.78,286.22 L362.5,286.06 L363.22,285.9 L363.95,285.75 L364.68,285.6 L365.42,285.45 L366.17,285.3 L366.92,285.16 L367.68,285.03 L368.44,284.9 L369.21,284.77 L369.99,284.64 L370.77,284.52 L371.56,284.41 L372.35,284.29 L373.15,284.19 L373.95,284.08 L374.76,283.98 L375.58,283.89 L376.1,283.83 L376.4,283.79 L377.23,283.71 L378.06,283.62 L378.9,283.54 L379.75,283.46 L380.6,283.38 L381.46,283.3 L382.32,283.23 L383.19,283.16 L384.06,283.09 L384.94,283.02 L385.83,282.95 L386.72,282.89 L387.62,282.83 L388.53,282.77 L389.44,282.7 L390.35,282.64 L391.27,282.58 L392.02,282.54 L392.2,282.52 L393.14,282.47 L394.08,282.42 L395.02,282.37 L395.98,282.32 L396.93,282.28 L397.9,282.23 L398.87,282.19 L399.85,282.15 L400.83,282.1 L401.82,282.06 L402.81,282.01 L403.81,281.96 L404.82,281.9 L405.83,281.84 L406.85,281.77 L407.87,281.7 L407.95,281.7 L408.91,281.62 L409.94,281.54 L410.99,281.44 L412.03,281.34 L413.09,281.23 L414.15,281.12 L415.22,280.99 L416.29,280.87 L417.37,280.73 L418.46,280.58 L419.55,280.43 L420.65,280.27 L421.75,280.1 L422.86,279.93 L423.88,279.76 L423.98,279.74 L425.1,279.55 L426.23,279.35 L427.36,279.15 L428.51,278.93 L429.65,278.71 L430.81,278.47 L431.97,278.23 L433.13,277.97 L434.3,277.71 L435.48,277.43 L436.67,277.15 L437.86,276.85 L439.06,276.54 L439.8,276.34 L440.26,276.22 L441.47,275.88 L442.68,275.53 L443.91,275.18 L445.13,274.81 L446.37,274.42 L447.61,274.03 L448.86,273.63 L450.11,273.22 L451.37,272.8 L452.64,272.37 L453.91,271.94 L455.19,271.49 L455.73,271.31 L456.47,271.04 L457.76,270.59 L459.06,270.12 L460.36,269.65 L461.67,269.18 L462.99,268.7 L464.31,268.21 L465.64,267.71 L466.98,267.21 L468.32,266.71 L469.67,266.19 L471.02,265.67 L471.65,265.43 L472.38,265.15 L473.75,264.62 L475.12,264.09 L476.5,263.56 L477.89,263.04 L479.28,262.52 L480.68,262.01 L482.09,261.51 L483.5,261.02 L484.92,260.56 L486.34,260.12 L487.57,259.75 L487.77,259.7 L489.21,259.31 L490.66,258.95 L492.11,258.62 L493.56,258.33 L495.03,258.07 L496.5,257.86 L497.97,257.69 L499.46,257.57 L499.68,257.56 L500.94,257.5 L502.44,257.48 L503.5,257.49 L503.94,257.51 L505.45,257.59 L506.97,257.72 L508.49,257.91 L510.02,258.16 L511.55,258.47 L513.05,258.85 L513.09,258.86 L514.64,259.32 L516.19,259.83 L517.75,260.4 L519.32,261 L519.42,261.04 L520.89,261.63 L522.47,262.28 L524.06,262.95 L525.65,263.64 L527.25,264.34 L528.86,265.06 L530.47,265.78 L532.09,266.52 L533.72,267.26 L535.35,268.01" stroke="#c400c4"/><path d="M312.56,385.8 L312.56,385.72 L312.56,385.44 L312.57,384.91 L312.57,384.13 L312.58,383.07 L312.59,381.74 L312.6,380.13 L312.61,378.25 L312.63,376.14 L312.65,373.85 L312.67,371.45 L312.69,369.05 L312.71,366.83 L312.72,366.44 L312.74,364.81 L312.77,362.72 L312.8,360.6 L312.84,358.49 L312.87,356.44 L312.91,354.49 L312.96,352.72 L313,351.21 L313.04,350.3 L313.05,350.02 L313.1,348.98 L313.15,347.98 L313.21,347.05 L313.27,346.17 L313.33,345.35 L313.39,344.59 L313.46,343.88 L313.53,343.2 L313.6,342.54 L313.67,341.91 L313.68,341.88 L313.76,341.21 L313.84,340.57 L313.92,339.94 L314.01,339.33 L314.1,338.75 L314.19,338.19 L314.29,337.66 L314.39,337.15 L314.47,336.75 L314.49,336.66 L314.59,336.19 L314.7,335.72 L314.81,335.26 L314.93,334.81 L315.04,334.37 L315.16,333.93 L315.29,333.5 L315.42,333.08 L315.54,332.67 L315.68,332.26 L315.81,331.86 L315.95,331.46 L316.1,331.07 L316.24,330.67 L316.38,330.3 L316.39,330.27 L316.54,329.87 L316.7,329.48 L316.86,329.09 L317.02,328.71 L317.18,328.33 L317.35,327.95 L317.52,327.58 L317.7,327.22 L317.88,326.86 L318.06,326.5 L318.24,326.16 L318.43,325.81 L318.45,325.78 L318.62,325.47 L318.82,325.14 L319.02,324.8 L319.22,324.46 L319.42,324.13 L319.63,323.79 L319.84,323.46 L320.06,323.13 L320.28,322.8 L320.5,322.4 L320.73,321.95 L320.96,321.78 L321.19,322.07 L321.42,321.88 L321.66,321.51 L321.91,320.83 L322.15,320.5 L322.4,320.03 L322.66,319.72 L322.91,319.26 L323.18,318.89 L323.44,318.6 L323.71,318.3 L323.87,317.88 L323.98,317.48 L324.25,317.3 L324.53,317.3 L324.81,317 L325.1,316.28 L325.39,315.91 L325.68,315.73 L325.98,315.69 L326.28,315.29 L326.58,314.83 L326.89,314.48 L327.2,314.29 L327.51,314.09 L327.83,313.61 L328.15,313.4 L328.32,313.11 L328.48,312.97 L328.81,312.53 L329.14,312.47 L329.48,312.15 L329.82,312.09 L330.16,311.66 L330.51,311.75 L330.86,311.69 L331.22,311.49 L331.57,311.11 L331.94,310.63 L332.3,310.4 L332.67,310.31 L333.05,310.17 L333.1,310.2 L333.42,309.61 L333.81,309.12 L334.19,308.92 L334.58,308.87 L334.97,308.81 L335.37,308.54 L335.77,308.24 L336.17,307.98 L336.58,307.9 L336.99,307.9 L337.41,307.55 L337.83,307.01 L338.25,306.42 L338.68,306.27 L339.11,305.92 L339.54,305.78 L339.98,305.43 L340.42,305.15 L340.87,304.88 L341.32,304.73 L341.77,304.44 L342.23,304.45 L342.5,304.17 L342.69,304.23 L343.16,303.74 L343.63,303.61 L344.1,303.37 L344.58,303.21 L345.06,302.71 L345.54,302.58 L346.03,302.31 L346.53,302.26 L347.02,302.1 L347.52,301.47 L348.03,301.21 L348.54,301 L349.05,300.96 L349.57,300.89 L350.09,300.38 L350.61,300.24 L351.14,299.96 L351.67,299.87 L352.21,299.87 L352.75,299.58 L353.01,299.66 L353.29,299.66 L353.84,299.46 L354.39,298.86 L354.95,298.38 L355.51,297.9 L356.08,297.76 L356.64,297.74 L357.22,297.83 L357.79,298.06 L358.37,297.95 L358.96,297.91 L359.55,297.4 L360.14,297 L360.74,296.78 L361.13,296.81 L361.34,297.09 L361.94,296.89 L362.55,296.63 L363.16,296.2 L363.78,296.17 L364.4,295.78 L365.03,295.55 L365.66,295.32 L366.29,295.59 L366.93,295.7 L367.57,295.55 L368.22,295.36 L368.87,295.13 L369.52,294.93 L370.18,294.61 L370.84,294.41 L371.51,294.44 L372.18,294.48 L372.85,294.6 L373.53,294.57 L374.21,294.23 L374.9,294.14 L375.59,293.64 L375.62,293.98 L376.29,293.76 L376.99,293.79 L377.69,293.63 L378.4,293.5 L379.11,293.6 L379.83,293.57 L380.55,293.55 L381.27,293.51 L382,293.09 L382.73,292.98 L383.47,292.53 L384.21,293.07 L384.96,292.94 L385.71,293.02 L386.46,292.55 L387.22,292.29 L387.98,292.17 L388.75,292.06 L389.52,292.06 L390.3,291.62 L391.08,291.43 L391.55,291.39 L391.86,291.83 L392.65,291.74 L393.44,291.87 L394.24,291.73 L395.04,291.27 L395.84,290.81 L396.65,290.58 L397.46,290.67 L398.28,290.44 L399.1,290.34 L399.93,290.08 L400.76,290.09 L401.6,290.04 L402.44,289.98 L403.28,290.37 L404.13,290.36 L404.98,290.45 L405.84,290.1 L406.7,289.91 L407.56,289.9 L407.63,289.85 L408.43,289.29 L409.3,288.95 L410.18,288.71 L411.07,288.76 L411.95,288.73 L412.84,288.42 L413.74,288.39 L414.64,287.94 L415.54,288.11 L416.45,287.86 L417.36,287.9 L418.28,287.67 L419.2,287.43 L420.13,287.39 L421.06,286.77 L421.99,286.64 L422.93,286.2 L423.88,286.23" stroke="#000"/></g>
<g stroke="#444" stroke-width="0.7"><line stroke-width="1" stroke="#222" x1="312.40" y1="385.8" x2="312.40" y2="382.60"/><line stroke-width="1" stroke="#222" x1="312.40" y1="224.45" x2="312.40" y2="227.65"/><line x1="320.36" y1="385.8" x2="320.36" y2="384.10"/><line x1="320.36" y1="224.45" x2="320.36" y2="226.15"/><line x1="328.32" y1="385.8" x2="328.32" y2="384.10"/><line x1="328.32" y1="224.45" x2="328.32" y2="226.15"/><line x1="336.29" y1="385.8" x2="336.29" y2="384.10"/><line x1="336.29" y1="224.45" x2="336.29" y2="226.15"/><line stroke-width="1" stroke="#222" x1="344.25" y1="385.8" x2="344.25" y2="382.60"/><line stroke-width="1" stroke="#222" x1="344.25" y1="224.45" x2="344.25" y2="227.65"/><line x1="352.21" y1="385.8" x2="352.21" y2="384.10"/><line x1="352.21" y1="224.45" x2="352.21" y2="226.15"/><line x1="360.17" y1="385.8" x2="360.17" y2="384.10"/><line x1="360.17" y1="224.45" x2="360.17" y2="226.15"/><line x1="368.14" y1="385.8" x2="368.14" y2="384.10"/><line x1="368.14" y1="224.45" x2="368.14" y2="226.15"/><line stroke-width="1" stroke="#222" x1="376.10" y1="385.8" x2="376.10" y2="382.60"/><line stroke-width="1" stroke="#222" x1="376.10" y1="224.45" x2="376.10" y2="227.65"/><line x1="384.06" y1="385.8" x2="384.06" y2="384.10"/><line x1="384.06" y1="224.45" x2="384.06" y2="226.15"/><line x1="392.02" y1="385.8" x2="392.02" y2="384.10"/><line x1="392.02" y1="224.45" x2="392.02" y2="226.15"/><line x1="399.99" y1="385.8" x2="399.99" y2="384.10"/><line x1="399.99" y1="224.45" x2="399.99" y2="226.15"/><line stroke-width="1" stroke="#222" x1="407.95" y1="385.8" x2="407.95" y2="382.60"/><line stroke-width="1" stroke="#222" x1="407.95" y1="224.45" x2="407.95" y2="227.65"/><line x1="415.91" y1="385.8" x2="415.91" y2="384.10"/><line x1="415.91" y1="224.45" x2="415.91" y2="226.15"/><line x1="423.88" y1="385.8" x2="423.88" y2="384.10"/><line x1="423.88" y1="224.45" x2="423.88" y2="226.15"/><line x1="431.84" y1="385.8" x2="431.84" y2="384.10"/><line x1="431.84" y1="224.45" x2="431.84" y2="226.15"/><line stroke-width="1" stroke="#222" x1="439.80" y1="385.8" x2="439.80" y2="382.60"/><line stroke-width="1" stroke="#222" x1="439.80" y1="224.45" x2="439.80" y2="227.65"/><line x1="447.76" y1="385.8" x2="447.76" y2="384.10"/><line x1="447.76" y1="224.45" x2="447.76" y2="226.15"/><line x1="455.73" y1="385.8" x2="455.73" y2="384.10"/><line x1="455.73" y1="224.45" x2="455.73" y2="226.15"/><line x1="463.69" y1="385.8" x2="463.69" y2="384.10"/><line x1="463.69" y1="224.45" x2="463.69" y2="226.15"/><line stroke-width="1" stroke="#222" x1="471.65" y1="385.8" x2="471.65" y2="382.60"/><line stroke-width="1" stroke="#222" x1="471.65" y1="224.45" x2="471.65" y2="227.65"/><line x1="479.61" y1="385.8" x2="479.61" y2="384.10"/><line x1="479.61" y1="224.45" x2="479.61" y2="226.15"/><line x1="487.57" y1="385.8" x2="487.57" y2="384.10"/><line x1="487.57" y1="224.45" x2="487.57" y2="226.15"/><line x1="495.54" y1="385.8" x2="495.54" y2="384.10"/><line x1="495.54" y1="224.45" x2="495.54" y2="226.15"/><line stroke-width="1" stroke="#222" x1="503.50" y1="385.8" x2="503.50" y2="382.60"/><line stroke-width="1" stroke="#222" x1="503.50" y1="224.45" x2="503.50" y2="227.65"/><line x1="511.46" y1="385.8" x2="511.46" y2="384.10"/><line x1="511.46" y1="224.45" x2="511.46" y2="226.15"/><line x1="519.42" y1="385.8" x2="519.42" y2="384.10"/><line x1="519.42" y1="224.45" x2="519.42" y2="226.15"/><line x1="527.39" y1="385.8" x2="527.39" y2="384.10"/><line x1="527.39" y1="224.45" x2="527.39" y2="226.15"/><line stroke-width="1" stroke="#222" x1="535.35" y1="385.8" x2="535.35" y2="382.60"/><line stroke-width="1" stroke="#222" x1="535.35" y1="224.45" x2="535.35" y2="227.65"/><line x1="543.31" y1="385.8" x2="543.31" y2="384.10"/><line x1="543.31" y1="224.45" x2="543.31" y2="226.15"/><line stroke-width="1" stroke="#222" x1="312.4" y1="385.80" x2="315.60" y2="385.80"/><line stroke-width="1" stroke="#222" x1="546.3" y1="385.80" x2="543.10" y2="385.80"/><line x1="312.4" y1="379.35" x2="314.10" y2="379.35"/><line x1="546.3" y1="379.35" x2="544.60" y2="379.35"/><line x1="312.4" y1="372.89" x2="314.10" y2="372.89"/><line x1="546.3" y1="372.89" x2="544.60" y2="372.89"/><line x1="312.4" y1="366.44" x2="314.10" y2="366.44"/><line x1="546.3" y1="366.44" x2="544.60" y2="366.44"/><line x1="312.4" y1="359.98" x2="314.10" y2="359.98"/><line x1="546.3" y1="359.98" x2="544.60" y2="359.98"/><line stroke-width="1" stroke="#222" x1="312.4" y1="353.53" x2="315.60" y2="353.53"/><line stroke-width="1" stroke="#222" x1="546.3" y1="353.53" x2="543.10" y2="353.53"/><line x1="312.4" y1="347.08" x2="314.10" y2="347.08"/><line x1="546.3" y1="347.08" x2="544.60" y2="347.08"/><line x1="312.4" y1="340.62" x2="314.10" y2="340.62"/><line x1="546.3" y1="340.62" x2="544.60" y2="340.62"/><line x1="312.4" y1="334.17" x2="314.10" y2="334.17"/><line x1="546.3" y1="334.17" x2="544.60" y2="334.17"/><line x1="312.4" y1="327.71" x2="314.10" y2="327.71"/><line x1="546.3" y1="327.71" x2="544.60" y2="327.71"/><line stroke-width="1" stroke="#222" x1="312.4" y1="321.26" x2="315.60" y2="321.26"/><line stroke-width="1" stroke="#222" x1="546.3" y1="321.26" x2="543.10" y2="321.26"/><line x1="312.4" y1="314.81" x2="314.10" y2="314.81"/><line x1="546.3" y1="314.81" x2="544.60" y2="314.81"/><line x1="312.4" y1="308.35" x2="314.10" y2="308.35"/><line x1="546.3" y1="308.35" x2="544.60" y2="308.35"/><line x1="312.4" y1="301.90" x2="314.10" y2="301.90"/><line x1="546.3" y1="301.90" x2="544.60" y2="301.90"/><line x1="312.4" y1="295.44" x2="314.10" y2="295.44"/><line x1="546.3" y1="295.44" x2="544.60" y2="295.44"/><line stroke-width="1" stroke="#222" x1="312.4" y1="288.99" x2="315.60" y2="288.99"/><line stroke-width="1" stroke="#222" x1="546.3" y1="288.99" x2="543.10" y2="288.99"/><line x1="312.4" y1="282.54" x2="314.10" y2="282.54"/><line x1="546.3" y1="282.54" x2="544.60" y2="282.54"/><line x1="312.4" y1="276.08" x2="314.10" y2="276.08"/><line x1="546.3" y1="276.08" x2="544.60" y2="276.08"/><line x1="312.4" y1="269.63" x2="314.10" y2="269.63"/><line x1="546.3" y1="269.63" x2="544.60" y2="269.63"/><line x1="312.4" y1="263.17" x2="314.10" y2="263.17"/><line x1="546.3" y1="263.17" x2="544.60" y2="263.17"/><line stroke-width="1" stroke="#222" x1="312.4" y1="256.72" x2="315.60" y2="256.72"/><line stroke-width="1" stroke="#222" x1="546.3" y1="256.72" x2="543.10" y2="256.72"/><line x1="312.4" y1="250.27" x2="314.10" y2="250.27"/><line x1="546.3" y1="250.27" x2="544.60" y2="250.27"/><line x1="312.4" y1="243.81" x2="314.10" y2="243.81"/><line x1="546.3" y1="243.81" x2="544.60" y2="243.81"/><line x1="312.4" y1="237.36" x2="314.10" y2="237.36"/><line x1="546.3" y1="237.36" x2="544.60" y2="237.36"/><line x1="312.4" y1="230.90" x2="314.10" y2="230.90"/><line x1="546.3" y1="230.90" x2="544.60" y2="230.90"/><line stroke-width="1" stroke="#222" x1="312.4" y1="224.45" x2="315.60" y2="224.45"/><line stroke-width="1" stroke="#222" x1="546.3" y1="224.45" x2="543.10" y2="224.45"/></g>
<rect x="312.4" y="224.45" width="233.9" height="161.4" fill="none" stroke="#5a5a5a" stroke-width="0.8"/>
<g font-family="'Liberation Serif','DejaVu Serif',serif" font-size="8.3" fill="#000" stroke="#000" stroke-width="0.35"><text x="312.4" y="394.7" text-anchor="middle">0.0</text><text x="344.2" y="394.7" text-anchor="middle">0.2</text><text x="376.1" y="394.7" text-anchor="middle">0.4</text><text x="407.9" y="394.7" text-anchor="middle">0.6</text><text x="439.8" y="394.7" text-anchor="middle">0.8</text><text x="471.6" y="394.7" text-anchor="middle">1.0</text><text x="503.5" y="394.7" text-anchor="middle">1.2</text><text x="535.4" y="394.7" text-anchor="middle">1.4</text><text x="310.2" y="388.6" text-anchor="end">0</text><text x="310.2" y="356.3" text-anchor="end">50</text><text x="310.2" y="324.1" text-anchor="end">100</text><text x="310.2" y="291.8" text-anchor="end">150</text><text x="310.2" y="259.5" text-anchor="end">200</text><text x="310.2" y="227.2" text-anchor="end">250</text></g>
<g font-family="'Liberation Serif','DejaVu Serif',serif" font-size="10" fill="#000" stroke="#000" stroke-width="0.35">
<text id="xl4" transform="translate(429.35,405.20) scale(1.0168,1)" text-anchor="middle">strain <tspan font-style="italic">ε</tspan></text>
<text id="yl4" transform="translate(293.10,305.12) rotate(-90) scale(1.0056,1)" text-anchor="middle">flow stress <tspan font-style="italic">σ</tspan> (MPa)</text>
<text id="ti4" transform="translate(429.35,221.65) scale(1.0151,1)" text-anchor="middle"><tspan font-style="italic">ε</tspan><tspan dx="-2.9" dy="0.6">˙</tspan><tspan dx="-0.4" dy="-0.6"> = 10 s</tspan><tspan dy="-3.7" font-size="7">−1</tspan><tspan dy="3.7"> and T = 1000°C</tspan></text>
</g>
<rect x="79.4" y="417.6" width="391.9" height="31.6" rx="2" ry="2" fill="#fff" stroke="#cccccc" stroke-width="0.9"/>
<g font-family="'Liberation Serif','DejaVu Serif',serif" font-size="10" fill="#000" stroke="#000" stroke-width="0.35">
<line x1="82.6" y1="425.2" x2="103.8" y2="425.2" stroke="#cc0000" stroke-width="1.9"/>
<text id="lgr" transform="translate(110.70,428.30) scale(1.0734,1)" text-anchor="start">sigmoid</text>
<line x1="82.6" y1="439.7" x2="103.8" y2="439.7" stroke="#00c000" stroke-width="1.9"/>
<text id="lgg" transform="translate(110.70,442.80) scale(1.1209,1)" text-anchor="start">tanh</text>
<line x1="164.6" y1="425.2" x2="185.79999999999998" y2="425.2" stroke="#0000d4" stroke-width="1.9"/>
<text id="lgb" transform="translate(192.90,428.30) scale(1.0613,1)" text-anchor="start">relu</text>
<line x1="164.6" y1="439.7" x2="185.79999999999998" y2="439.7" stroke="#bfbf00" stroke-width="1.9"/>
<text id="lgy" transform="translate(192.90,442.80) scale(1.0636,1)" text-anchor="start">softplus</text>
<line x1="246.4" y1="425.2" x2="267.6" y2="425.2" stroke="#c400c4" stroke-width="1.9"/>
<text id="lgm" transform="translate(273.90,428.30) scale(1.1054,1)" text-anchor="start">swish</text>
<line x1="246.4" y1="439.7" x2="267.6" y2="439.7" stroke="#00bfbf" stroke-width="1.9"/>
<text id="lgc" transform="translate(273.90,442.80) scale(1.0689,1)" text-anchor="start">exponential</text>
<line x1="343.6" y1="425.2" x2="364.8" y2="425.2" stroke="#000" stroke-width="1.9"/>
<text id="lgk" transform="translate(370.40,428.30) scale(1.1157,1)" text-anchor="start"><tspan font-style="italic">ε</tspan><tspan dx="-2.9" dy="0.6">˙</tspan><tspan dx="-0.4" dy="-0.6"> = 5 s</tspan><tspan dy="-3.7" font-size="7">−1</tspan><tspan dy="3.7">, </tspan><tspan font-style="italic">T</tspan> = 1050°C</text>
</g>
</svg>
</body></html>
